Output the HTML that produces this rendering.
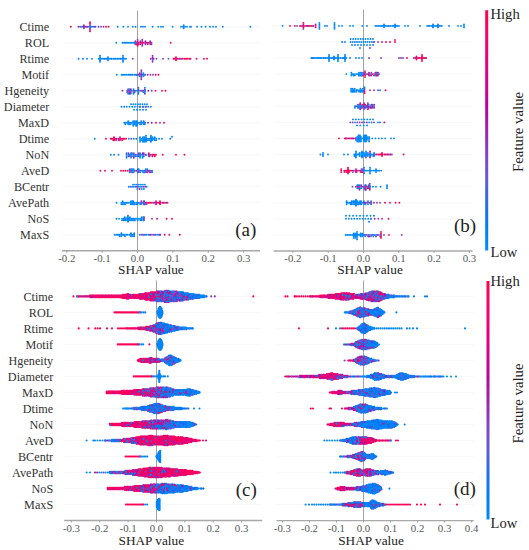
<!DOCTYPE html><html><head><meta charset="utf-8"><style>html,body{margin:0;padding:0;background:#fff;width:529px;height:550px;overflow:hidden}svg{display:block}text{font-family:"Liberation Serif",serif}.dt path{fill:none;stroke-linecap:round}.k0{stroke:#008bfb}.k1{stroke:#0084f8}.k2{stroke:#007cf5}.k3{stroke:#0073ef}.k4{stroke:#306ae9}.k5{stroke:#5261e1}.k6{stroke:#6857d8}.k7{stroke:#794cce}.k8{stroke:#8a3cc0}.k9{stroke:#962db3}.k10{stroke:#a31daa}.k11{stroke:#b30aa3}.k12{stroke:#c5009a}.k13{stroke:#d10091}.k14{stroke:#dd0088}.k15{stroke:#e7007e}.k16{stroke:#f00074}.k17{stroke:#f80067}.k18{stroke:#fe005c}.k19{stroke:#ff0051}</style></head><body>
<svg width="529" height="550" viewBox="0 0 529 550">
<defs><linearGradient id="cb" x1="0" y1="1" x2="0" y2="0"><stop offset="0.0" stop-color="#008bfb"/><stop offset="0.1" stop-color="#007cf5"/><stop offset="0.2" stop-color="#266cea"/><stop offset="0.3" stop-color="#6459da"/><stop offset="0.4" stop-color="#8542c5"/><stop offset="0.5" stop-color="#9d22ac"/><stop offset="0.6" stop-color="#b900a0"/><stop offset="0.7" stop-color="#d40090"/><stop offset="0.8" stop-color="#e9007c"/><stop offset="0.9" stop-color="#f80067"/><stop offset="1.0" stop-color="#ff0051"/></linearGradient></defs>
<rect width="529" height="550" fill="#fff"/>
<line x1="62" x2="260" y1="26.71" y2="26.71" stroke="#f3f3f3" stroke-width="0.6"/>
<line x1="62" x2="260" y1="42.71" y2="42.71" stroke="#f3f3f3" stroke-width="0.6"/>
<line x1="62" x2="260" y1="58.72" y2="58.72" stroke="#f3f3f3" stroke-width="0.6"/>
<line x1="62" x2="260" y1="74.73" y2="74.73" stroke="#f3f3f3" stroke-width="0.6"/>
<line x1="62" x2="260" y1="90.73" y2="90.73" stroke="#f3f3f3" stroke-width="0.6"/>
<line x1="62" x2="260" y1="106.74" y2="106.74" stroke="#f3f3f3" stroke-width="0.6"/>
<line x1="62" x2="260" y1="122.75" y2="122.75" stroke="#f3f3f3" stroke-width="0.6"/>
<line x1="62" x2="260" y1="138.75" y2="138.75" stroke="#f3f3f3" stroke-width="0.6"/>
<line x1="62" x2="260" y1="154.76" y2="154.76" stroke="#f3f3f3" stroke-width="0.6"/>
<line x1="62" x2="260" y1="170.77" y2="170.77" stroke="#f3f3f3" stroke-width="0.6"/>
<line x1="62" x2="260" y1="186.77" y2="186.77" stroke="#f3f3f3" stroke-width="0.6"/>
<line x1="62" x2="260" y1="202.78" y2="202.78" stroke="#f3f3f3" stroke-width="0.6"/>
<line x1="62" x2="260" y1="218.79" y2="218.79" stroke="#f3f3f3" stroke-width="0.6"/>
<line x1="62" x2="260" y1="234.79" y2="234.79" stroke="#f3f3f3" stroke-width="0.6"/>
<line x1="137.5" x2="137.5" y1="10.7" y2="250.8" stroke="#a3a3a3" stroke-width="1"/>
<g class="dt" style="stroke-width:1.9px"><path class="k2" d="M125.4 124.2h0M100.0 61.7h0M129.7 169.3h0M100.0 58.7h0M137.0 122.7h0M131.0 236.3h0M135.6 26.7h0M105.1 58.7h0M151.0 137.3h0M138.4 93.7h0"/><path class="k8" d="M138.8 170.8h0M159.5 202.8h0M135.3 44.2h0M137.1 74.7h0M116.0 140.3h0M146.6 202.8h0"/><path class="k9" d="M145.0 122.7h0M143.8 154.8h0M138.4 90.7h0M145.8 170.8h0M142.3 42.7h0M134.5 92.2h0M137.6 44.2h0M144.0 220.3h0M86.7 26.7h0M144.9 93.7h0M180.0 58.7h0M82.9 26.7h0M151.5 44.2h0"/><path class="k18" d="M111.8 138.8h0M155.5 90.7h0M187.9 58.7h0"/><path class="k17" d="M184.2 58.7h0M148.8 153.3h0M145.0 74.7h0"/><path class="k19" d="M113.3 140.3h0M204.0 58.7h0M105.0 170.8h0M106.0 138.8h0M146.8 202.8h0M126.1 138.8h0M165.0 202.8h0M122.2 140.3h0M177.5 58.7h0M146.4 42.7h0M123.3 170.8h0M90.0 26.7h0"/><path class="k0" d="M172.6 26.7h0M130.2 234.8h0M122.6 201.3h0M114.7 58.7h0M135.0 184.6h0M149.3 138.8h0M121.4 202.8h0M123.9 74.7h0M152.4 138.8h0M129.7 172.3h0M183.7 25.2h0M126.6 157.8h0M141.4 140.3h0M143.3 220.3h0M132.8 26.7h0M146.0 137.3h0M132.2 201.3h0M133.7 186.8h0M131.0 157.8h0M205.6 26.7h0M144.2 201.3h0M131.0 156.3h0M129.3 234.8h0M133.2 204.3h0M133.5 92.2h0M134.6 204.3h0M135.6 104.2h0M131.0 201.3h0M133.7 170.8h0M142.6 74.7h0M138.4 92.2h0M163.0 26.7h0M216.0 26.7h0M146.0 138.8h0M147.3 169.3h0M187.0 26.7h0M137.4 202.8h0M131.1 218.8h0M124.0 204.3h0"/><path class="k1" d="M128.0 221.8h0M126.8 202.8h0M136.7 74.7h0M117.4 234.8h0M144.2 204.3h0M142.6 154.8h0M110.8 154.8h0M141.7 217.3h0M133.5 93.7h0M135.3 186.8h0M143.1 172.3h0M125.2 204.3h0M114.6 234.8h0M132.3 220.3h0M144.5 172.3h0M149.5 234.8h0M134.6 202.8h0M136.0 121.2h0M172.0 136.8h0M141.9 170.8h0M131.0 153.3h0M156.2 140.3h0M129.9 217.3h0M126.0 58.7h0M134.4 42.7h0M133.8 156.3h0M108.0 58.7h0"/><path class="k10" d="M145.6 154.8h0M150.4 74.7h0M130.8 89.2h0"/><path class="k7" d="M149.7 156.3h0M133.5 90.7h0M137.6 39.7h0"/><path class="k18" d="M110.7 138.8h0M140.3 42.7h0"/><path class="k2" d="M128.0 220.3h0M159.0 138.8h0M130.8 202.8h0M123.0 57.2h0M131.8 122.7h0M117.2 58.7h0M124.2 106.7h0M123.4 220.3h0M154.8 234.8h0M152.6 26.7h0M127.2 90.7h0M137.8 172.3h0M137.0 109.7h0M136.0 124.2h0"/><path class="k0" d="M137.7 220.3h0M151.0 138.8h0M123.4 58.7h0M124.7 218.8h0M136.9 184.6h0M123.0 60.2h0M162.0 138.8h0M141.4 138.8h0M126.2 234.8h0M125.8 220.3h0M143.7 122.7h0M133.5 89.2h0M152.2 172.3h0M152.4 137.3h0M126.6 74.7h0M137.3 90.7h0M136.0 122.7h0M151.0 140.3h0M131.0 202.8h0M135.0 218.8h0M142.7 234.8h0M135.7 90.7h0M95.6 26.7h0M123.9 42.7h0M138.6 186.8h0M134.6 121.2h0M118.5 154.8h0M148.0 138.8h0M142.9 137.3h0M129.3 122.7h0M129.9 220.3h0M131.8 234.8h0M143.1 170.8h0M158.9 234.8h0M190.0 26.7h0M135.6 74.7h0M144.9 87.7h0M125.1 74.7h0M134.8 106.7h0"/><path class="k19" d="M158.7 202.8h0M172.0 218.8h0M154.8 154.8h0M136.6 44.2h0M90.0 31.2h0M90.0 23.7h0M114.8 138.8h0M114.0 140.3h0M157.1 202.8h0"/><path class="k10" d="M138.9 154.8h0M152.6 57.2h0M156.0 202.8h0M150.9 154.8h0M145.0 90.7h0M130.8 92.2h0"/><path class="k7" d="M146.6 204.3h0M144.0 42.7h0M152.6 60.2h0M168.5 58.7h0M138.6 202.8h0M140.1 90.7h0M126.6 154.8h0"/><path class="k9" d="M83.9 25.2h0M190.6 58.7h0M139.6 73.2h0M139.6 74.7h0M145.4 42.7h0M160.2 234.8h0M153.7 58.7h0"/><path class="k17" d="M149.3 202.8h0M146.0 106.7h0M114.0 138.8h0"/><path class="k8" d="M129.5 90.7h0M136.6 42.7h0M148.8 156.3h0M131.0 169.3h0M83.9 28.2h0M138.8 42.7h0M90.0 25.2h0M152.6 61.7h0M140.1 154.8h0"/><path class="k1" d="M78.6 58.7h0M89.2 26.7h0M133.7 172.3h0M127.8 42.7h0M116.3 42.7h0M130.4 186.8h0M116.5 218.8h0M121.4 236.3h0M152.4 140.3h0M127.3 218.8h0M133.0 184.6h0M133.8 154.8h0M124.0 202.8h0M140.0 122.7h0M131.1 220.3h0M93.1 26.7h0M154.7 137.3h0M138.9 184.6h0M143.0 26.7h0M145.0 26.7h0M143.3 218.8h0M141.8 186.8h0M116.5 202.8h0"/><path class="k10" d="M141.4 201.3h0M150.9 172.3h0M129.5 92.2h0M143.8 153.3h0M133.8 157.8h0M150.8 58.7h0M152.4 154.8h0"/><path class="k7" d="M153.6 234.8h0M144.9 89.2h0M163.0 58.7h0M101.1 26.7h0"/><path class="k18" d="M164.7 234.8h0M174.7 58.7h0M156.0 154.8h0M166.5 218.8h0M112.0 170.8h0"/><path class="k0" d="M132.9 74.7h0M123.0 61.7h0M147.0 104.2h0M137.3 189.0h0M128.8 186.8h0M146.5 154.8h0M197.0 26.7h0M142.9 202.8h0M141.7 218.8h0M146.6 138.8h0M141.2 124.2h0M137.0 121.2h0M119.8 236.3h0M128.2 121.2h0M144.9 90.7h0M128.6 218.8h0M154.7 140.3h0M143.7 124.2h0M143.4 73.2h0M136.2 218.8h0M151.0 135.8h0M143.4 74.7h0M123.4 218.8h0M141.7 220.3h0M129.5 89.2h0M144.7 104.2h0M124.9 234.8h0M131.0 104.2h0M129.0 202.8h0M139.1 218.8h0M119.8 234.8h0M140.0 124.2h0"/><path class="k17" d="M113.3 138.8h0M207.0 58.7h0M156.0 201.3h0"/><path class="k9" d="M135.0 170.8h0M179.0 58.7h0M147.7 74.7h0M160.0 234.8h0M98.6 26.7h0M128.5 153.3h0M120.0 138.8h0M138.3 74.7h0M116.8 138.8h0M144.0 204.3h0M142.6 153.3h0M142.3 44.2h0M181.1 58.7h0M94.7 26.7h0M150.9 170.8h0M131.3 138.8h0"/><path class="k8" d="M133.8 153.3h0M149.7 154.8h0M176.1 58.7h0M151.7 90.7h0M138.9 156.3h0M141.3 77.7h0M129.6 154.8h0M160.0 122.7h0M142.3 90.7h0M151.5 42.7h0M141.3 70.2h0"/><path class="k2" d="M129.9 218.8h0M128.0 215.8h0M126.6 153.3h0M137.8 169.3h0M134.2 234.8h0M110.8 58.7h0M130.6 74.7h0M122.1 58.7h0M134.2 233.3h0M125.0 42.7h0M183.7 28.2h0M137.4 204.3h0M170.3 138.8h0"/><path class="k1" d="M103.0 58.7h0M137.9 104.2h0M142.6 157.8h0M127.3 220.3h0M222.8 26.7h0M131.0 204.3h0M148.0 140.3h0M137.7 154.8h0M129.6 156.3h0M142.6 122.7h0M94.7 138.8h0M145.5 106.7h0M127.1 122.7h0M127.5 234.8h0M130.8 204.3h0M130.8 93.7h0M136.0 125.7h0M146.7 186.8h0M131.0 233.3h0M144.5 170.8h0"/><path class="k19" d="M127.8 170.8h0M121.0 138.8h0M148.8 154.8h0M137.7 42.7h0M154.2 202.8h0M173.6 58.7h0M169.4 234.8h0M147.7 42.7h0"/><path class="k9" d="M142.3 39.7h0M147.3 170.8h0M85.2 26.7h0M142.3 45.7h0M134.5 90.7h0M144.0 201.3h0M137.6 42.7h0M143.4 90.7h0"/><path class="k10" d="M157.0 218.8h0M138.8 172.3h0M145.4 41.2h0M150.2 44.2h0M151.7 122.7h0M136.9 186.8h0"/><path class="k0" d="M141.2 122.7h0M116.1 234.8h0M140.0 141.8h0M131.0 172.3h0M143.4 76.2h0M141.1 154.8h0M140.1 104.2h0M144.9 92.2h0M140.0 137.3h0M137.7 218.8h0M157.4 234.8h0M121.4 234.8h0M122.0 218.8h0M133.2 125.7h0M144.2 138.8h0M145.6 138.8h0M119.9 58.7h0M128.0 26.7h0M139.8 234.8h0M150.9 137.3h0M140.0 140.3h0M122.6 204.3h0M128.5 154.8h0M152.2 170.8h0M156.2 138.8h0M121.5 74.7h0M142.8 184.6h0M145.8 169.3h0M123.0 58.7h0M127.3 217.3h0M133.2 122.7h0M153.3 138.8h0M123.3 26.7h0M128.2 124.2h0M142.6 156.3h0M144.8 184.6h0M101.5 58.7h0M124.9 236.3h0M122.0 220.3h0"/><path class="k7" d="M138.4 87.7h0M135.1 156.3h0"/><path class="k17" d="M135.3 42.7h0M176.0 154.8h0"/><path class="k18" d="M144.0 217.3h0M176.0 58.7h0M153.5 154.8h0M185.4 58.7h0"/><path class="k8" d="M127.2 92.2h0M152.6 58.7h0M103.5 26.7h0M132.2 172.3h0M78.4 26.7h0M140.2 170.8h0M145.1 204.3h0M144.0 218.8h0M152.0 218.8h0M120.0 137.3h0M142.3 41.2h0"/><path class="k1" d="M138.4 89.2h0M137.0 124.2h0M132.2 202.8h0M131.0 154.8h0M126.1 42.7h0M130.3 42.7h0M140.1 156.3h0M154.7 138.8h0M136.0 156.3h0M137.4 202.8h0M132.2 106.7h0M183.0 26.7h0M133.2 124.2h0M114.0 154.8h0M138.8 169.3h0M125.2 202.8h0M133.6 218.8h0M146.6 140.3h0M133.2 121.2h0M141.1 74.7h0M87.0 58.7h0M144.7 124.2h0M113.3 58.7h0"/><path class="k2" d="M149.4 170.8h0M122.8 234.8h0M140.3 220.3h0M108.0 60.2h0M139.6 76.2h0M150.9 138.8h0M141.2 121.2h0M201.5 26.7h0M120.7 58.7h0M131.9 90.7h0"/><path class="k19" d="M170.6 42.7h0M70.9 26.7h0M154.8 156.3h0M156.0 204.3h0M150.3 202.8h0M137.6 41.2h0M139.5 189.0h0M140.0 106.7h0M90.0 22.2h0M186.3 58.7h0M152.4 156.3h0M118.6 140.3h0M121.0 170.8h0"/><path class="k7" d="M119.3 138.8h0M141.3 234.8h0M149.4 172.3h0M156.5 58.7h0"/><path class="k18" d="M123.6 138.8h0M164.0 122.7h0M162.6 202.8h0M148.1 202.8h0M158.4 74.7h0M137.6 45.7h0M162.0 90.7h0M160.0 202.8h0"/><path class="k10" d="M148.3 90.7h0M144.0 202.8h0M150.4 234.8h0"/><path class="k0" d="M137.8 170.8h0M140.1 202.8h0M134.6 122.7h0M181.0 26.7h0M131.0 234.8h0M134.7 74.7h0M144.2 141.8h0M183.7 26.7h0M134.6 124.2h0M128.9 42.7h0M143.4 92.2h0M135.4 42.7h0M106.6 58.7h0M134.0 109.7h0M98.7 58.7h0M133.6 220.3h0M90.7 26.7h0M129.3 124.2h0M136.2 202.8h0M129.5 106.7h0M132.0 154.8h0M140.1 204.3h0M135.0 220.3h0M116.7 74.7h0M126.8 106.7h0M128.1 93.7h0M140.0 109.7h0M142.9 138.8h0M146.0 141.8h0M107.6 58.7h0M133.3 104.2h0M128.8 138.8h0M133.8 138.8h0M128.1 92.2h0M144.2 140.3h0M126.6 156.3h0M122.4 42.7h0M118.6 234.8h0M148.1 106.7h0M128.0 218.8h0M92.0 58.7h0M115.8 58.7h0M143.3 217.3h0"/><path class="k1" d="M136.3 138.8h0M124.7 217.3h0M150.8 106.7h0M140.0 138.8h0M118.1 58.7h0M143.7 121.2h0M144.7 122.7h0M210.0 26.7h0M100.0 55.7h0M122.6 74.7h0M100.0 60.2h0M121.4 204.3h0M145.1 234.8h0M146.0 135.8h0M132.9 236.3h0M140.9 184.6h0M128.2 122.7h0M142.9 140.3h0M151.0 141.8h0M90.0 28.2h0"/><path class="k9" d="M148.0 122.7h0M143.9 234.8h0M150.2 41.2h0M140.3 44.2h0M83.9 26.7h0M163.6 202.8h0M141.3 76.2h0M156.0 202.8h0M138.9 153.3h0"/><path class="k19" d="M142.9 42.7h0M165.5 90.7h0M176.0 57.2h0M114.0 137.3h0M166.3 202.8h0M189.5 58.7h0"/><path class="k17" d="M162.8 154.8h0M124.5 138.8h0M160.7 202.8h0M90.0 29.7h0"/><path class="k8" d="M141.1 90.7h0M131.0 170.8h0M167.6 202.8h0M152.6 55.7h0M141.3 73.2h0M152.0 234.8h0M153.0 74.7h0M145.8 172.3h0M147.3 172.3h0M132.1 186.8h0M141.4 202.8h0"/><path class="k2" d="M83.0 58.7h0M137.7 156.3h0M146.4 234.8h0M134.2 236.3h0M128.2 74.7h0M125.8 218.8h0M104.3 58.7h0M123.8 234.8h0M138.6 122.7h0M142.9 141.8h0"/><path class="k10" d="M147.7 44.2h0M140.3 41.2h0M148.6 170.8h0M141.3 74.7h0"/><path class="k17" d="M196.5 58.7h0M138.8 44.2h0M143.0 106.7h0"/><path class="k7" d="M128.1 89.2h0M130.8 90.7h0M155.8 234.8h0M80.0 26.7h0M132.8 58.7h0M132.0 156.3h0M91.9 26.7h0"/><path class="k19" d="M122.2 138.8h0M106.0 26.7h0M141.5 42.7h0M151.8 202.8h0M160.0 204.3h0M108.5 26.7h0M149.1 42.7h0M184.5 154.8h0M125.5 170.8h0M182.4 58.7h0M100.4 170.8h0M160.0 201.3h0"/><path class="k0" d="M124.8 58.7h0M100.0 58.7h0M137.0 125.7h0M132.2 169.3h0M141.4 204.3h0M133.1 42.7h0M158.3 26.7h0M191.0 26.7h0M133.2 201.3h0M140.2 172.3h0M141.7 189.0h0M128.0 217.3h0M109.1 58.7h0M140.2 186.8h0M149.3 140.3h0M136.2 204.3h0M145.0 74.7h0M119.0 218.8h0M137.5 106.7h0M140.3 218.8h0M81.2 26.7h0M140.1 106.7h0M123.0 55.7h0M135.1 154.8h0M132.2 170.8h0M132.2 204.3h0M130.6 124.2h0M122.6 202.8h0M161.0 26.7h0M148.2 234.8h0M213.0 26.7h0M127.7 202.8h0M146.0 109.7h0M142.4 104.2h0M129.4 74.7h0M100.0 57.2h0"/><path class="k8" d="M122.4 90.7h0M153.1 202.8h0M143.4 186.8h0M120.0 140.3h0M141.3 71.7h0M136.0 154.8h0M145.4 44.2h0M128.1 90.7h0M135.3 41.2h0"/><path class="k1" d="M132.9 234.8h0M146.0 140.3h0M144.2 137.3h0M150.9 140.3h0M140.1 157.8h0M133.7 169.3h0M143.9 189.0h0M128.6 220.3h0M121.5 106.7h0M131.8 42.7h0M125.4 122.7h0M133.2 202.8h0M141.0 26.7h0M108.0 57.2h0M132.3 218.8h0M140.1 153.3h0M143.8 156.3h0M117.7 26.7h0"/><path class="k9" d="M145.1 202.8h0M141.3 79.2h0M87.8 26.7h0M136.5 170.8h0M150.2 42.7h0M84.2 26.7h0M129.5 93.7h0M128.5 156.3h0M145.1 186.8h0M129.7 170.8h0"/><path class="k2" d="M132.0 74.7h0M142.8 106.7h0M143.0 109.7h0M145.6 140.3h0M121.4 233.3h0M130.6 122.7h0M124.3 122.7h0M144.2 202.8h0M124.7 220.3h0M185.0 26.7h0M250.4 26.7h0M111.7 58.7h0M132.0 153.3h0"/><path class="k18" d="M176.0 60.2h0M179.8 234.8h0M116.0 138.8h0M155.7 74.7h0M118.6 138.8h0M156.0 122.7h0"/></g>
<line x1="62" x2="260" y1="250.8" y2="250.8" stroke="#a8a8a8" stroke-width="1.4"/>
<line x1="66.74" x2="66.74" y1="250.8" y2="252.8" stroke="#999" stroke-width="0.9"/>
<text x="66.74" y="262.00" font-size="10.8" fill="#585858" text-anchor="middle">-0.2</text>
<line x1="102.12" x2="102.12" y1="250.8" y2="252.8" stroke="#999" stroke-width="0.9"/>
<text x="102.12" y="262.00" font-size="10.8" fill="#585858" text-anchor="middle">-0.1</text>
<line x1="137.50" x2="137.50" y1="250.8" y2="252.8" stroke="#999" stroke-width="0.9"/>
<text x="137.50" y="262.00" font-size="10.8" fill="#585858" text-anchor="middle">0.0</text>
<line x1="172.88" x2="172.88" y1="250.8" y2="252.8" stroke="#999" stroke-width="0.9"/>
<text x="172.88" y="262.00" font-size="10.8" fill="#585858" text-anchor="middle">0.1</text>
<line x1="208.26" x2="208.26" y1="250.8" y2="252.8" stroke="#999" stroke-width="0.9"/>
<text x="208.26" y="262.00" font-size="10.8" fill="#585858" text-anchor="middle">0.2</text>
<line x1="243.64" x2="243.64" y1="250.8" y2="252.8" stroke="#999" stroke-width="0.9"/>
<text x="243.64" y="262.00" font-size="10.8" fill="#585858" text-anchor="middle">0.3</text>
<text x="150.9" y="273.7" font-size="13.3" fill="#222" text-anchor="middle">SHAP value</text>
<text x="235.3" y="235.5" font-size="19" fill="#222">(a)</text>
<text x="49.2" y="31.11" font-size="12.2" fill="#333" text-anchor="end">Ctime</text>
<text x="49.2" y="47.11" font-size="12.2" fill="#333" text-anchor="end">ROL</text>
<text x="49.2" y="63.12" font-size="12.2" fill="#333" text-anchor="end">Rtime</text>
<text x="49.2" y="79.13" font-size="12.2" fill="#333" text-anchor="end">Motif</text>
<text x="49.2" y="95.13" font-size="12.2" fill="#333" text-anchor="end">Hgeneity</text>
<text x="49.2" y="111.14" font-size="12.2" fill="#333" text-anchor="end">Diameter</text>
<text x="49.2" y="127.15" font-size="12.2" fill="#333" text-anchor="end">MaxD</text>
<text x="49.2" y="143.15" font-size="12.2" fill="#333" text-anchor="end">Dtime</text>
<text x="49.2" y="159.16" font-size="12.2" fill="#333" text-anchor="end">NoN</text>
<text x="49.2" y="175.17" font-size="12.2" fill="#333" text-anchor="end">AveD</text>
<text x="49.2" y="191.17" font-size="12.2" fill="#333" text-anchor="end">BCentr</text>
<text x="49.2" y="207.18" font-size="12.2" fill="#333" text-anchor="end">AvePath</text>
<text x="49.2" y="223.19" font-size="12.2" fill="#333" text-anchor="end">NoS</text>
<text x="49.2" y="239.19" font-size="12.2" fill="#333" text-anchor="end">MaxS</text>
<line x1="273.7" x2="472.6" y1="25.88" y2="25.88" stroke="#f3f3f3" stroke-width="0.6"/>
<line x1="273.7" x2="472.6" y1="41.96" y2="41.96" stroke="#f3f3f3" stroke-width="0.6"/>
<line x1="273.7" x2="472.6" y1="58.04" y2="58.04" stroke="#f3f3f3" stroke-width="0.6"/>
<line x1="273.7" x2="472.6" y1="74.12" y2="74.12" stroke="#f3f3f3" stroke-width="0.6"/>
<line x1="273.7" x2="472.6" y1="90.20" y2="90.20" stroke="#f3f3f3" stroke-width="0.6"/>
<line x1="273.7" x2="472.6" y1="106.28" y2="106.28" stroke="#f3f3f3" stroke-width="0.6"/>
<line x1="273.7" x2="472.6" y1="122.36" y2="122.36" stroke="#f3f3f3" stroke-width="0.6"/>
<line x1="273.7" x2="472.6" y1="138.44" y2="138.44" stroke="#f3f3f3" stroke-width="0.6"/>
<line x1="273.7" x2="472.6" y1="154.52" y2="154.52" stroke="#f3f3f3" stroke-width="0.6"/>
<line x1="273.7" x2="472.6" y1="170.60" y2="170.60" stroke="#f3f3f3" stroke-width="0.6"/>
<line x1="273.7" x2="472.6" y1="186.68" y2="186.68" stroke="#f3f3f3" stroke-width="0.6"/>
<line x1="273.7" x2="472.6" y1="202.76" y2="202.76" stroke="#f3f3f3" stroke-width="0.6"/>
<line x1="273.7" x2="472.6" y1="218.84" y2="218.84" stroke="#f3f3f3" stroke-width="0.6"/>
<line x1="273.7" x2="472.6" y1="234.92" y2="234.92" stroke="#f3f3f3" stroke-width="0.6"/>
<line x1="363.5" x2="363.5" y1="9.8" y2="251.0" stroke="#a3a3a3" stroke-width="1"/>
<g class="dt" style="stroke-width:1.9px"><path class="k2" d="M367.5 106.3h0M420.0 25.9h0M362.7 106.3h0M365.3 138.4h0M352.6 90.2h0M347.1 234.9h0M356.0 154.5h0M334.0 56.5h0M353.0 119.4h0"/><path class="k0" d="M345.0 61.0h0M342.0 25.9h0M359.1 42.0h0M351.1 90.2h0M389.6 25.9h0M359.5 153.0h0M361.6 119.4h0M365.3 236.4h0M338.3 58.0h0M369.3 170.6h0M360.6 75.6h0M363.8 188.2h0M363.9 204.3h0M362.9 88.7h0M361.1 202.8h0M356.5 215.8h0M353.7 237.9h0M371.1 201.3h0M356.0 205.8h0M440.5 25.9h0M361.1 201.3h0M358.3 154.5h0M362.7 218.8h0M374.1 154.5h0M385.5 25.9h0M352.6 88.7h0M368.0 39.0h0M348.0 234.9h0M357.0 234.9h0M352.7 42.0h0M365.5 42.0h0M362.2 25.9h0M379.7 170.6h0M378.0 75.6h0M364.0 170.6h0M374.1 156.0h0M363.8 186.7h0M366.8 106.3h0M393.8 25.9h0M325.5 58.0h0M351.3 75.6h0M356.0 156.0h0M374.1 106.3h0M356.0 153.0h0M364.2 170.6h0M354.7 88.7h0M363.8 139.9h0M369.0 221.8h0M360.0 204.3h0"/><path class="k17" d="M356.6 172.1h0"/><path class="k10" d="M360.2 109.3h0M368.7 185.2h0M364.8 74.1h0M352.9 170.6h0M367.9 104.8h0M367.9 106.3h0"/><path class="k19" d="M361.8 75.6h0M367.9 109.3h0M373.8 154.5h0M384.3 122.4h0M351.3 170.6h0M341.2 170.6h0M365.0 75.6h0M369.9 75.6h0M364.5 93.2h0M368.7 188.2h0M302.3 25.9h0"/><path class="k8" d="M368.1 236.4h0M367.9 103.3h0M369.0 58.0h0M356.6 138.4h0M370.0 156.0h0"/><path class="k1" d="M357.0 125.4h0M395.0 25.9h0M373.0 45.0h0M323.0 154.5h0M361.3 154.5h0M355.8 234.9h0M429.8 25.9h0M361.7 74.1h0M351.6 218.8h0M360.0 138.4h0M387.0 186.7h0M354.3 218.8h0M351.3 72.6h0M350.6 39.0h0M356.0 151.5h0M362.9 91.7h0M357.0 236.4h0M325.0 25.9h0M334.5 25.9h0M327.0 25.9h0M356.0 202.8h0M358.5 135.4h0M350.6 234.9h0M370.5 39.0h0M381.2 170.6h0M356.0 138.4h0M367.9 156.0h0M364.0 234.9h0M350.0 58.0h0M373.0 186.7h0M368.0 204.3h0M369.8 186.7h0M365.4 204.3h0M314.9 58.0h0M360.0 201.3h0M364.0 167.6h0M376.0 186.7h0M387.0 185.2h0"/><path class="k9" d="M315.6 24.4h0M369.0 74.1h0M382.0 218.8h0M369.0 75.6h0M416.9 58.0h0M376.4 154.5h0M370.3 107.8h0"/><path class="k18" d="M363.2 75.6h0M372.5 74.1h0M388.5 218.8h0M365.0 74.1h0M365.0 71.1h0M359.0 170.6h0"/><path class="k7" d="M370.0 154.5h0M380.0 202.8h0"/><path class="k7" d="M364.0 107.8h0M358.4 188.2h0M350.2 122.4h0M361.5 169.1h0"/><path class="k8" d="M424.9 58.0h0M313.0 25.9h0M353.9 138.4h0M347.2 138.4h0M365.1 107.8h0M364.0 109.3h0M352.9 172.1h0M381.0 58.0h0M369.1 234.9h0"/><path class="k17" d="M422.0 61.0h0M306.5 25.9h0"/><path class="k18" d="M421.1 58.0h0M371.0 202.8h0M348.0 169.1h0"/><path class="k19" d="M416.5 59.5h0M395.0 40.0h0M395.0 42.0h0M338.9 138.4h0M367.3 74.1h0M346.0 138.4h0M381.9 154.5h0M360.2 104.8h0M365.1 104.8h0M419.6 58.0h0"/><path class="k0" d="M318.0 58.0h0M357.9 234.9h0M372.7 104.8h0M357.4 90.2h0M390.8 25.9h0M377.3 170.6h0M353.0 215.8h0M360.6 74.1h0M329.0 59.5h0M370.0 167.6h0M313.7 58.0h0M362.0 154.5h0M464.0 25.9h0M374.5 170.6h0M354.9 107.8h0M359.0 91.7h0M378.7 138.4h0M376.7 25.9h0M366.3 154.5h0M431.4 25.9h0M353.7 236.4h0M364.0 141.4h0M360.3 125.4h0M360.6 234.9h0M365.4 218.8h0M356.0 204.3h0M359.0 58.0h0M359.0 138.4h0M359.5 234.9h0M362.9 90.2h0M364.0 136.9h0M374.0 42.0h0M359.0 234.9h0M432.4 25.9h0M362.3 154.5h0M338.0 56.5h0"/><path class="k9" d="M369.8 188.2h0M369.9 74.1h0M364.0 103.3h0M370.0 153.0h0M370.0 151.5h0M366.9 122.4h0M368.7 186.7h0M370.0 48.0h0M401.7 234.9h0M401.0 58.0h0M361.5 170.6h0M356.0 169.1h0M366.1 106.3h0M368.8 106.3h0M354.0 170.6h0M371.0 234.9h0"/><path class="k2" d="M363.9 202.8h0M324.2 58.0h0M358.5 141.4h0M367.0 125.4h0M374.0 215.8h0M408.0 25.9h0M357.0 42.0h0M356.4 90.2h0M311.4 58.0h0M433.0 27.4h0M380.0 122.4h0M342.1 42.0h0M354.9 42.0h0"/><path class="k1" d="M346.0 218.8h0M319.4 22.9h0M345.0 55.0h0M354.9 75.6h0M363.1 74.1h0M338.0 61.0h0M371.9 42.0h0M343.5 58.0h0M357.9 74.1h0M360.4 91.7h0M334.0 59.5h0M428.8 25.9h0M359.0 90.2h0M387.0 25.9h0M360.6 39.0h0M370.5 156.0h0M329.0 61.0h0M433.0 24.4h0M364.0 153.0h0M394.0 138.4h0M361.1 188.2h0M360.0 139.9h0M334.5 22.9h0M357.1 218.8h0M365.3 106.3h0M357.1 234.9h0M355.2 233.4h0M354.6 234.9h0M438.0 25.9h0M370.1 119.4h0M352.0 45.0h0M370.0 170.6h0M342.7 58.0h0M369.8 185.2h0M363.0 39.0h0M355.2 236.4h0M360.0 141.4h0"/><path class="k10" d="M365.1 186.7h0M371.4 107.8h0M369.1 236.4h0M374.0 202.8h0"/><path class="k8" d="M371.3 72.6h0M374.0 90.2h0M355.9 186.7h0M358.4 186.7h0M303.4 28.9h0M366.0 157.5h0M365.1 106.3h0M360.5 170.6h0M364.5 88.7h0M378.0 42.0h0M389.7 154.5h0M308.0 25.9h0M370.0 90.2h0"/><path class="k7" d="M403.0 58.0h0M365.3 234.9h0M422.4 58.0h0M371.4 106.3h0M378.0 90.2h0"/><path class="k1" d="M359.0 72.6h0M340.9 58.0h0M379.2 74.1h0M334.5 27.4h0M367.9 153.0h0M365.3 136.9h0M371.0 236.4h0M360.0 135.4h0M371.3 74.1h0M357.5 204.3h0M371.6 122.4h0M362.0 156.0h0M361.1 107.8h0M361.0 136.9h0M392.5 25.9h0M366.0 153.0h0M376.1 170.6h0M361.1 106.3h0M359.5 188.2h0M368.2 218.8h0M355.6 39.0h0M449.0 25.9h0M360.6 233.4h0M365.3 141.4h0M332.2 58.0h0M356.2 204.3h0M355.2 237.9h0M361.4 90.2h0M349.5 215.8h0M365.3 170.6h0M358.5 136.9h0M329.0 58.0h0M348.0 154.5h0M427.2 25.9h0"/><path class="k17" d="M365.0 72.6h0M378.0 154.5h0"/><path class="k0" d="M373.1 156.0h0M361.2 42.0h0M316.3 58.0h0M328.0 154.5h0M384.0 24.4h0M359.5 156.0h0M358.8 107.8h0M359.5 185.2h0M369.1 139.9h0M358.4 185.2h0M360.0 48.0h0M363.5 215.8h0M360.4 88.7h0M345.0 42.0h0M371.8 170.6h0M346.0 215.8h0M464.0 24.4h0M359.9 218.8h0M382.0 138.4h0M363.8 136.9h0M362.3 153.0h0M360.0 202.8h0M356.2 202.8h0M359.0 139.9h0M362.6 202.8h0M334.5 24.4h0M356.0 58.0h0M364.0 45.0h0M380.6 186.7h0M350.0 25.9h0M367.0 45.0h0M360.1 107.8h0M435.3 25.9h0M405.0 25.9h0M348.8 218.8h0M360.3 234.9h0M370.5 215.8h0M361.3 153.0h0M370.5 154.5h0M360.1 106.3h0M360.0 136.9h0"/><path class="k10" d="M348.0 173.6h0M356.0 172.1h0M356.0 170.6h0M344.3 170.6h0M413.9 58.0h0"/><path class="k9" d="M309.2 25.9h0M363.7 106.3h0M387.9 154.5h0M359.5 189.7h0M369.6 202.8h0"/><path class="k19" d="M349.2 172.1h0M382.0 154.5h0M341.2 169.1h0M348.0 169.1h0M379.3 154.5h0M415.4 58.0h0M422.0 59.5h0M350.1 170.6h0M311.8 25.9h0M382.0 156.0h0M381.0 234.9h0"/><path class="k18" d="M341.2 172.1h0M422.0 58.0h0M395.6 202.8h0M385.4 154.5h0M386.0 42.0h0M390.0 202.8h0M315.6 27.4h0"/><path class="k2" d="M346.2 58.0h0M373.4 234.9h0M338.0 55.0h0M362.0 157.5h0M312.7 58.0h0M334.8 58.0h0M345.0 56.5h0M371.1 204.3h0M357.0 239.4h0M365.9 189.7h0M366.0 74.1h0"/><path class="k18" d="M362.1 186.7h0"/><path class="k8" d="M363.2 72.6h0M367.9 107.8h0M368.0 201.3h0M357.3 122.4h0M362.8 169.1h0M374.0 122.4h0M359.7 122.4h0M357.8 170.6h0M300.0 25.9h0"/><path class="k19" d="M294.8 25.9h0M345.4 170.6h0M303.4 22.9h0M365.0 77.1h0M357.3 186.7h0M389.0 234.9h0M377.0 72.6h0M344.3 172.1h0M348.6 138.4h0M315.6 25.9h0M384.5 154.5h0M381.0 231.9h0"/><path class="k2" d="M388.3 25.9h0M359.8 202.8h0M357.8 106.3h0M364.0 138.4h0M354.7 91.7h0M438.0 27.4h0M438.0 24.4h0"/><path class="k17" d="M385.0 202.8h0M348.0 172.1h0M361.5 172.1h0M352.0 138.4h0M382.0 153.0h0M377.0 74.1h0"/><path class="k10" d="M303.6 25.9h0M378.0 72.6h0M307.8 25.9h0M352.9 138.4h0M358.8 104.8h0M362.1 122.4h0M371.3 75.6h0M351.1 138.4h0M368.8 107.8h0M365.9 186.7h0"/><path class="k0" d="M368.1 234.9h0M355.2 234.9h0M352.6 91.7h0M380.2 236.4h0M375.4 75.6h0M371.5 154.5h0M355.4 156.0h0M436.6 25.9h0M361.0 139.9h0M353.4 90.2h0M355.0 122.4h0M433.9 25.9h0M368.0 202.8h0M353.4 74.1h0M364.0 154.5h0M282.6 25.9h0M370.7 170.6h0M321.5 58.0h0M376.0 234.9h0M359.0 135.4h0M357.8 104.8h0M399.0 25.9h0M358.7 119.4h0M357.3 185.2h0M395.0 24.4h0M356.0 201.3h0M319.2 58.0h0M395.0 27.4h0M369.7 42.0h0M361.0 141.4h0M359.0 74.1h0M364.4 119.4h0M362.2 233.4h0M354.9 106.3h0M461.0 25.9h0M362.0 58.0h0M357.2 139.9h0M372.3 234.9h0M357.2 154.5h0M366.0 156.0h0M361.8 72.6h0M366.1 107.8h0"/><path class="k7" d="M378.3 218.8h0M365.9 185.2h0M371.0 218.8h0M352.5 186.7h0M366.6 202.8h0M361.1 186.7h0"/><path class="k9" d="M367.5 186.7h0M361.4 107.8h0M346.0 138.4h0M359.5 186.7h0M377.4 234.9h0M361.4 106.3h0M426.2 58.0h0M356.1 106.3h0M360.2 107.8h0"/><path class="k1" d="M396.2 25.9h0M375.4 74.1h0M355.0 45.0h0M328.1 58.0h0M319.4 28.9h0M351.7 204.3h0M364.0 172.1h0M345.0 58.0h0M373.0 39.0h0M356.2 201.3h0M320.4 154.5h0M344.0 154.5h0M357.3 188.2h0M366.0 154.5h0M358.0 45.0h0M370.0 45.0h0M354.7 201.3h0M376.4 72.6h0M376.4 74.1h0M361.0 138.4h0M356.0 199.8h0M363.8 138.4h0M380.2 234.9h0M366.3 135.4h0M373.1 154.5h0M376.0 170.6h0M383.0 25.9h0M329.0 55.0h0M329.3 58.0h0M352.1 234.9h0M338.0 58.0h0M370.0 169.1h0"/><path class="k8" d="M384.0 234.9h0M376.4 75.6h0M377.0 202.8h0M374.0 75.6h0M362.8 170.6h0M375.0 154.5h0"/><path class="k9" d="M303.4 25.9h0M372.7 107.8h0M374.1 104.8h0M369.8 189.7h0M374.7 218.8h0M364.1 202.8h0M358.2 138.4h0M416.5 58.0h0"/><path class="k1" d="M329.0 56.5h0M337.1 58.0h0M437.8 25.9h0M365.3 135.4h0M366.3 138.4h0M357.5 201.3h0M360.6 236.4h0M345.7 234.9h0M338.0 59.5h0M370.0 186.7h0M349.3 202.8h0M319.4 27.4h0M376.0 172.1h0M350.6 204.3h0M354.3 156.0h0M361.0 45.0h0M354.7 204.3h0M365.5 39.0h0M362.3 156.0h0M350.6 42.0h0M353.7 234.9h0M362.9 234.9h0M369.1 154.5h0M365.3 139.9h0M351.7 201.3h0M353.3 201.3h0M353.4 75.6h0M352.3 74.1h0M349.5 234.9h0M345.0 59.5h0M355.4 154.5h0M356.0 157.5h0M367.0 215.8h0M358.4 204.3h0M364.0 139.9h0M367.0 136.9h0M323.1 58.0h0M364.0 135.4h0"/><path class="k19" d="M305.1 25.9h0M422.0 56.5h0M399.4 202.8h0M346.3 172.1h0M360.5 172.1h0M418.3 58.0h0M390.0 42.0h0M348.0 170.6h0M381.0 237.9h0M310.5 25.9h0M380.4 154.5h0M349.2 170.6h0"/><path class="k10" d="M382.0 42.0h0"/><path class="k17" d="M422.0 55.0h0M416.5 56.5h0"/><path class="k18" d="M390.7 154.5h0M388.0 154.5h0M423.4 58.0h0M381.0 236.4h0M374.0 74.1h0M364.5 90.2h0M368.7 74.1h0M362.8 172.1h0M349.7 138.4h0M365.1 188.2h0M344.8 138.4h0"/><path class="k2" d="M381.9 25.9h0M367.6 138.4h0M365.1 185.2h0M331.0 58.0h0M365.9 188.2h0M364.5 122.4h0M373.0 119.4h0"/><path class="k7" d="M391.9 154.5h0M297.0 25.9h0M366.7 234.9h0M373.4 236.4h0M370.3 106.3h0M374.0 42.0h0"/><path class="k0" d="M357.2 141.4h0M369.1 138.4h0M364.0 173.6h0M351.1 91.7h0M360.4 90.2h0M367.9 154.5h0M368.0 170.6h0M362.2 236.4h0M364.5 87.2h0M362.0 151.5h0M363.2 170.6h0M358.8 106.3h0M364.0 90.2h0M370.0 173.6h0M384.0 27.4h0M366.3 136.9h0M358.1 39.0h0M351.3 74.1h0M441.8 25.9h0M360.6 72.6h0M378.0 122.4h0M354.9 74.1h0M375.5 138.4h0M353.7 233.4h0M366.3 141.4h0M344.8 58.0h0M363.9 201.3h0M367.3 119.4h0M385.2 138.4h0M378.6 170.6h0M361.3 234.9h0M357.0 231.9h0M359.0 141.4h0M320.5 58.0h0M363.7 125.4h0M353.3 204.3h0M359.0 75.6h0M369.1 136.9h0M364.0 156.0h0M335.8 58.0h0M360.2 106.3h0M362.0 153.0h0M359.0 136.9h0"/><path class="k7" d="M363.2 74.1h0M362.3 107.8h0M378.5 234.9h0"/><path class="k0" d="M458.0 25.9h0M371.0 218.8h0M357.2 136.9h0M362.2 234.9h0M365.0 154.5h0M334.0 58.0h0M346.6 202.8h0M359.5 154.5h0M339.0 25.9h0M356.4 91.7h0M357.0 237.9h0M348.1 202.8h0M356.0 139.9h0M361.7 75.6h0M340.1 58.0h0M357.8 107.8h0M372.2 138.4h0M361.4 91.7h0M346.3 74.1h0M369.0 138.4h0M353.1 39.0h0M333.3 58.0h0M354.3 154.5h0M353.4 91.7h0M367.0 139.9h0M369.2 122.4h0M384.7 25.9h0M363.4 42.0h0M357.5 202.8h0M323.0 153.0h0M353.3 202.8h0M366.8 170.6h0M368.8 104.8h0M380.0 90.2h0M380.6 25.9h0M374.7 234.9h0M351.1 88.7h0M373.3 170.6h0M319.4 25.9h0M367.6 42.0h0M387.0 188.2h0M395.1 25.9h0M318.0 58.0h0M359.0 75.6h0M354.7 90.2h0M354.7 202.8h0M350.6 202.8h0M366.3 139.9h0M327.0 58.0h0M365.0 156.0h0M356.4 74.1h0"/><path class="k10" d="M361.1 185.2h0M371.4 104.8h0M360.2 103.3h0M369.0 72.6h0M365.1 189.7h0M375.4 72.6h0"/><path class="k18" d="M364.0 104.8h0M348.0 167.6h0M378.0 74.1h0M377.0 75.6h0M385.6 90.2h0M348.0 170.6h0M301.0 25.9h0M403.6 154.5h0M290.1 25.9h0"/><path class="k2" d="M346.6 201.3h0M323.0 156.0h0M351.7 202.8h0M353.4 234.9h0M369.1 141.4h0M361.1 204.3h0M433.0 25.9h0M376.0 169.1h0M358.5 138.4h0M359.0 74.1h0"/><path class="k9" d="M364.0 106.3h0M376.0 236.4h0M365.4 202.8h0M374.1 107.8h0M370.0 157.5h0M303.4 24.4h0M352.6 122.4h0M362.3 104.8h0"/><path class="k19" d="M367.5 188.2h0M303.4 27.4h0M382.7 154.5h0M364.5 91.7h0M348.0 172.1h0M355.7 170.6h0M407.0 58.0h0M355.3 138.4h0M346.3 170.6h0M381.0 233.4h0"/><path class="k17" d="M425.0 58.0h0M356.6 170.6h0"/><path class="k1" d="M370.0 172.1h0M363.9 234.9h0M378.0 25.9h0M357.0 233.4h0M364.0 169.1h0M464.0 27.4h0M375.4 25.9h0M361.8 74.1h0M379.1 25.9h0M362.3 106.3h0M334.5 28.9h0M439.1 25.9h0M384.0 25.9h0M346.6 204.3h0M357.2 138.4h0M367.0 138.4h0M374.1 153.0h0M391.0 138.4h0M358.4 202.8h0M366.0 151.5h0M355.9 119.4h0M353.0 25.9h0M397.5 25.9h0M319.4 24.4h0M358.5 139.9h0M367.0 25.9h0M360.0 215.8h0M361.3 156.0h0M362.5 138.4h0"/><path class="k8" d="M371.1 202.8h0M386.8 154.5h0M372.7 106.3h0M399.0 58.0h0M313.1 25.9h0M369.8 183.7h0"/></g>
<line x1="273.7" x2="472.6" y1="251.0" y2="251.0" stroke="#a8a8a8" stroke-width="1.4"/>
<line x1="292.90" x2="292.90" y1="251.0" y2="253.0" stroke="#999" stroke-width="0.9"/>
<text x="292.90" y="262.20" font-size="10.8" fill="#585858" text-anchor="middle">-0.2</text>
<line x1="328.20" x2="328.20" y1="251.0" y2="253.0" stroke="#999" stroke-width="0.9"/>
<text x="328.20" y="262.20" font-size="10.8" fill="#585858" text-anchor="middle">-0.1</text>
<line x1="363.50" x2="363.50" y1="251.0" y2="253.0" stroke="#999" stroke-width="0.9"/>
<text x="363.50" y="262.20" font-size="10.8" fill="#585858" text-anchor="middle">0.0</text>
<line x1="398.80" x2="398.80" y1="251.0" y2="253.0" stroke="#999" stroke-width="0.9"/>
<text x="398.80" y="262.20" font-size="10.8" fill="#585858" text-anchor="middle">0.1</text>
<line x1="434.10" x2="434.10" y1="251.0" y2="253.0" stroke="#999" stroke-width="0.9"/>
<text x="434.10" y="262.20" font-size="10.8" fill="#585858" text-anchor="middle">0.2</text>
<line x1="469.40" x2="469.40" y1="251.0" y2="253.0" stroke="#999" stroke-width="0.9"/>
<text x="469.40" y="262.20" font-size="10.8" fill="#585858" text-anchor="middle">0.3</text>
<text x="370" y="273.7" font-size="13.3" fill="#222" text-anchor="middle">SHAP value</text>
<text x="454" y="232" font-size="19" fill="#222">(b)</text>
<line x1="64.2" x2="262.2" y1="296.41" y2="296.41" stroke="#f3f3f3" stroke-width="0.6"/>
<line x1="64.2" x2="262.2" y1="312.41" y2="312.41" stroke="#f3f3f3" stroke-width="0.6"/>
<line x1="64.2" x2="262.2" y1="328.42" y2="328.42" stroke="#f3f3f3" stroke-width="0.6"/>
<line x1="64.2" x2="262.2" y1="344.43" y2="344.43" stroke="#f3f3f3" stroke-width="0.6"/>
<line x1="64.2" x2="262.2" y1="360.43" y2="360.43" stroke="#f3f3f3" stroke-width="0.6"/>
<line x1="64.2" x2="262.2" y1="376.44" y2="376.44" stroke="#f3f3f3" stroke-width="0.6"/>
<line x1="64.2" x2="262.2" y1="392.45" y2="392.45" stroke="#f3f3f3" stroke-width="0.6"/>
<line x1="64.2" x2="262.2" y1="408.45" y2="408.45" stroke="#f3f3f3" stroke-width="0.6"/>
<line x1="64.2" x2="262.2" y1="424.46" y2="424.46" stroke="#f3f3f3" stroke-width="0.6"/>
<line x1="64.2" x2="262.2" y1="440.47" y2="440.47" stroke="#f3f3f3" stroke-width="0.6"/>
<line x1="64.2" x2="262.2" y1="456.47" y2="456.47" stroke="#f3f3f3" stroke-width="0.6"/>
<line x1="64.2" x2="262.2" y1="472.48" y2="472.48" stroke="#f3f3f3" stroke-width="0.6"/>
<line x1="64.2" x2="262.2" y1="488.49" y2="488.49" stroke="#f3f3f3" stroke-width="0.6"/>
<line x1="64.2" x2="262.2" y1="504.49" y2="504.49" stroke="#f3f3f3" stroke-width="0.6"/>
<line x1="156.5" x2="156.5" y1="280.4" y2="520.5" stroke="#a3a3a3" stroke-width="1"/>
<g class="dt" style="stroke-width:2.1px"><path class="k9" d="M160.9 393.2h0M176.2 296.4h0M154.0 427.7h0M190.4 298.8h0M157.4 410.1h0M166.4 290.8h0M157.6 293.2h0M189.5 470.9h0M173.9 291.6h0M149.1 406.1h0M112.8 441.3h0M171.7 426.1h0M176.8 393.2h0M153.3 391.6h0M183.1 294.0h0M168.6 299.6h0M150.0 471.7h0M149.6 410.9h0M170.6 470.9h0M133.6 438.1h0M162.6 299.6h0M145.0 469.3h0M186.3 490.9h0M173.6 300.4h0M156.5 390.8h0"/><path class="k4" d="M144.1 298.8h0M185.1 489.3h0M189.5 296.4h0M111.9 440.5h0M158.5 294.0h0M156.5 387.6h0M161.7 395.6h0M170.7 388.4h0M170.1 406.9h0M173.3 486.1h0M159.3 332.4h0M161.8 330.0h0M184.7 422.1h0M163.6 485.3h0M169.6 357.2h0M184.8 474.9h0M193.3 488.5h0M161.4 490.1h0M163.5 410.9h0M204.0 295.6h0M177.5 292.4h0M160.1 333.2h0M161.9 323.6h0M168.0 301.2h0M159.0 428.5h0M143.1 421.3h0M197.7 298.0h0M157.7 330.0h0M183.9 490.9h0M150.4 425.3h0"/><path class="k19" d="M170.4 426.1h0M194.9 472.5h0M127.2 344.4h0M142.2 470.1h0M158.5 444.5h0M140.8 441.3h0M161.4 442.9h0M149.5 326.8h0M142.9 475.7h0M110.9 489.3h0M164.2 442.1h0M128.8 294.8h0M170.0 439.7h0M179.4 441.3h0M177.3 469.3h0M165.0 439.7h0M103.1 295.6h0M146.7 390.8h0M160.9 326.0h0M123.5 423.7h0M128.0 423.7h0M141.1 425.3h0M134.7 296.4h0M163.8 474.1h0M139.5 424.5h0M120.0 328.4h0M151.7 298.8h0M149.4 358.8h0M190.4 470.9h0M86.0 296.4h0M156.4 292.4h0M175.2 474.9h0M114.5 488.5h0M156.5 474.9h0M144.2 436.5h0M140.4 490.1h0M165.2 438.1h0M110.3 296.4h0M84.1 296.4h0M144.9 438.9h0M150.3 326.8h0M159.3 439.7h0M108.6 391.6h0M140.8 328.4h0M144.6 485.3h0M121.9 422.9h0M150.6 394.0h0M157.7 470.1h0M136.2 312.4h0M132.4 295.6h0M161.2 473.3h0M114.7 440.5h0M186.5 439.7h0M132.7 489.3h0M117.8 344.4h0M136.0 486.9h0M138.4 443.7h0M172.5 442.1h0M182.5 295.6h0M151.5 435.7h0M118.3 312.4h0M189.8 441.3h0M155.6 444.5h0M173.5 436.5h0M153.1 487.7h0M149.7 359.6h0M166.0 474.1h0M89.8 295.6h0M120.1 295.6h0M141.3 294.8h0M130.0 390.8h0M162.8 444.5h0M144.1 442.1h0M173.0 439.7h0M158.1 440.5h0M151.6 471.7h0M145.9 444.5h0M138.9 390.0h0M188.9 440.5h0M136.9 390.8h0M194.0 439.7h0M146.0 422.1h0M90.9 297.2h0M164.4 473.3h0M158.3 436.5h0M153.9 423.7h0M158.4 477.3h0M178.2 474.1h0M180.7 443.7h0M153.6 424.5h0M129.9 504.5h0M137.3 474.1h0M165.8 435.7h0M140.6 376.4h0M187.4 440.5h0M153.6 299.6h0M117.1 489.3h0M151.6 470.9h0M197.3 440.5h0M136.1 437.3h0M145.6 442.9h0M145.7 361.2h0M113.6 425.3h0"/><path class="k17" d="M147.4 390.0h0M159.3 472.5h0M149.4 393.2h0M170.7 441.3h0M169.5 474.1h0M145.1 490.1h0M134.7 442.9h0M157.8 296.4h0M111.3 296.4h0M161.1 469.3h0M117.3 472.5h0M102.5 296.4h0M87.0 296.4h0M160.6 391.6h0M162.9 475.7h0M144.8 487.7h0M139.4 486.1h0M134.8 442.1h0M137.1 391.6h0M133.1 488.5h0M162.7 441.3h0M137.0 443.7h0M111.9 392.4h0M140.8 437.3h0M136.4 472.5h0M126.7 298.8h0M160.2 475.7h0M168.5 438.1h0M144.7 329.2h0M166.4 441.3h0M157.2 438.1h0M175.2 470.1h0M161.5 332.4h0M121.9 441.3h0M170.0 438.1h0M157.5 442.9h0M167.7 438.9h0M144.9 390.8h0M156.3 393.2h0M185.9 470.1h0M124.2 440.5h0M176.8 473.3h0M135.8 438.9h0M179.9 439.7h0M153.0 420.5h0M154.5 439.7h0M110.0 392.4h0M144.9 422.1h0M183.2 470.9h0M185.2 470.1h0M187.4 441.3h0M152.5 299.6h0M120.5 297.2h0M138.7 422.9h0M144.0 359.6h0M182.8 474.1h0M128.8 390.8h0M140.6 358.8h0M137.2 474.9h0M170.9 325.2h0M158.3 408.5h0M127.8 439.7h0M161.6 298.0h0M128.5 394.0h0M95.8 295.6h0M146.8 329.2h0M134.9 390.8h0M175.5 291.6h0M126.8 391.6h0M175.6 471.7h0M170.2 439.7h0M165.4 439.7h0M139.4 440.5h0M146.1 470.9h0M146.9 294.8h0M147.6 438.9h0M178.1 294.8h0"/><path class="k2" d="M148.0 406.1h0M158.6 334.0h0M194.4 296.4h0M164.3 298.0h0M180.3 295.6h0M169.4 488.5h0M167.1 294.8h0M156.6 408.5h0M176.2 294.8h0M170.8 394.8h0M169.9 490.1h0M165.9 302.0h0M133.5 474.9h0M131.6 442.9h0M173.3 492.5h0M189.1 424.5h0M173.1 326.8h0M178.9 487.7h0M188.9 423.7h0M189.7 395.6h0M158.0 490.9h0M167.5 490.1h0M159.0 424.5h0M164.8 490.1h0M183.3 408.5h0M157.5 390.8h0M159.6 325.2h0M188.5 390.0h0M167.4 488.5h0M161.7 327.6h0M161.8 330.8h0M127.0 408.5h0M128.2 472.5h0M156.7 293.2h0M157.8 409.3h0M148.5 408.5h0M184.9 293.2h0M181.1 422.1h0M167.5 329.2h0M173.3 294.8h0M191.4 423.7h0M139.7 344.4h0M185.3 426.9h0M160.9 294.0h0M162.7 485.3h0M136.1 488.5h0M153.4 297.2h0M168.2 422.9h0M161.7 485.3h0M163.0 423.7h0M168.8 394.8h0M156.2 388.4h0M157.0 361.2h0M172.1 357.2h0M169.9 390.0h0M170.4 427.7h0M162.4 422.1h0M144.3 406.9h0M183.2 422.1h0M202.1 296.4h0M183.5 296.4h0M170.2 358.0h0M162.0 406.9h0M178.3 425.3h0"/><path class="k18" d="M151.2 477.3h0M143.9 360.4h0M125.3 424.5h0M185.8 439.7h0M155.9 428.5h0M88.5 328.4h0M139.1 425.3h0M162.3 437.3h0M136.9 470.1h0M154.0 360.4h0M123.1 390.8h0M174.2 444.5h0M170.6 472.5h0M158.2 439.7h0M114.9 296.4h0M132.5 391.6h0M111.7 391.6h0M167.8 472.5h0M137.1 442.9h0M169.8 471.7h0M169.2 470.1h0M139.7 474.1h0M139.8 391.6h0M178.5 443.7h0M161.1 475.7h0M142.1 298.8h0M165.5 445.3h0M142.0 361.2h0M129.0 488.5h0M150.6 471.7h0M150.2 427.7h0M114.8 425.3h0M154.7 440.5h0M167.2 419.7h0M150.7 361.2h0M177.4 471.7h0M149.3 487.7h0M146.4 327.6h0M149.7 475.7h0M118.9 489.3h0M150.9 475.7h0M126.0 312.4h0M117.5 391.6h0M148.8 376.4h0M157.3 474.9h0M142.0 297.2h0M122.4 439.7h0M137.8 470.1h0M100.1 297.2h0M166.6 476.5h0M123.1 296.4h0M147.1 298.8h0M157.6 294.8h0M181.5 470.9h0M144.2 427.7h0M112.9 487.7h0M140.2 423.7h0M159.1 296.4h0M133.8 504.5h0M162.6 489.3h0M158.8 404.5h0M143.5 423.7h0M144.7 439.7h0M152.6 468.5h0M121.9 423.7h0M152.1 486.1h0M127.8 393.2h0M122.2 312.4h0"/><path class="k11" d="M166.4 294.8h0M163.1 422.9h0M153.7 295.6h0M156.1 358.8h0M156.4 488.5h0M130.8 489.3h0M136.5 422.1h0M142.1 295.6h0M140.1 394.8h0M161.5 420.5h0M163.3 298.8h0M148.0 474.1h0M130.5 487.7h0M149.1 422.1h0M157.4 475.7h0"/><path class="k6" d="M168.7 362.0h0M148.3 298.8h0M178.1 359.6h0M179.9 394.8h0M157.4 469.3h0M191.6 294.8h0M161.7 488.5h0M165.0 329.2h0M195.2 296.4h0M151.1 409.3h0M141.8 487.7h0M161.9 292.4h0M154.9 428.5h0M184.1 327.6h0M183.4 299.6h0M153.9 420.5h0M166.8 387.6h0M162.9 294.0h0M144.9 407.7h0M163.2 331.6h0M174.8 296.4h0M153.7 406.9h0M156.6 484.5h0"/><path class="k13" d="M100.4 295.6h0M145.3 476.5h0M187.9 471.7h0M168.5 474.1h0M168.0 298.0h0M140.8 475.7h0M168.7 423.7h0M150.8 392.4h0M153.2 488.5h0M160.0 393.2h0M149.6 439.7h0M155.2 441.3h0M164.8 296.4h0M148.4 486.1h0M117.9 440.5h0M126.0 472.5h0M150.7 486.1h0M139.1 442.1h0M132.3 393.2h0M141.3 475.7h0M119.0 488.5h0M155.6 293.2h0M159.3 393.2h0"/><path class="k5" d="M173.3 362.8h0M156.2 397.2h0M171.6 407.7h0M168.3 407.7h0M154.6 412.5h0M165.1 485.3h0M164.7 358.8h0M167.5 426.9h0M171.3 490.9h0M162.3 298.0h0M167.7 420.5h0M152.0 410.1h0M171.0 298.0h0M168.2 428.5h0M173.9 422.1h0M198.7 488.5h0M178.2 299.6h0M167.9 427.7h0M159.2 489.3h0"/><path class="k12" d="M144.9 391.6h0M126.1 471.7h0M159.3 390.8h0M147.0 296.4h0M141.9 423.7h0M156.7 323.6h0M138.2 440.5h0M169.9 436.5h0M150.0 442.1h0M171.7 439.7h0M129.0 473.3h0M156.5 490.1h0M155.3 424.5h0M135.3 296.4h0M139.4 470.9h0"/><path class="k0" d="M143.6 394.0h0M183.8 426.1h0M133.7 408.5h0M157.0 329.2h0M164.0 470.9h0M158.3 311.6h0M155.3 362.0h0M174.1 363.6h0M137.4 409.3h0M185.8 490.9h0M160.6 405.3h0M173.7 295.6h0M160.1 315.6h0M145.9 474.9h0M180.5 423.7h0M167.0 394.8h0M166.7 297.2h0M172.0 330.8h0M165.8 362.0h0M182.2 328.4h0M161.6 328.4h0M195.7 297.2h0M161.2 359.6h0M182.2 292.4h0M164.4 298.8h0M165.7 390.8h0M159.2 341.1h0M157.5 456.5h0M176.1 328.4h0M177.8 407.7h0M164.3 410.1h0M159.2 309.1h0M166.3 406.9h0M172.4 422.1h0M190.7 297.2h0M190.4 394.8h0M158.8 327.6h0M151.8 438.9h0M166.9 331.6h0M162.4 312.4h0M165.5 487.7h0M169.5 331.6h0M188.5 487.7h0M156.8 327.6h0M170.6 390.8h0M173.6 330.0h0M159.5 323.6h0M190.9 294.0h0M174.1 409.3h0M181.1 408.5h0M118.5 471.7h0M175.0 489.3h0M162.6 360.4h0M185.5 489.3h0M189.4 486.9h0M186.7 424.5h0M168.3 299.6h0M124.0 442.1h0M101.4 472.5h0M158.3 411.7h0M200.3 488.5h0M161.0 314.1h0M170.4 329.2h0M181.7 424.5h0M105.7 440.5h0M160.7 324.4h0M193.2 425.3h0M170.4 487.7h0M176.8 489.3h0M159.2 310.8h0M180.7 408.5h0M147.2 427.7h0M184.3 424.5h0M175.2 298.8h0M158.6 413.3h0M170.8 293.2h0M161.8 315.9h0M150.7 485.3h0M168.9 485.3h0M169.5 486.1h0M157.5 457.4h0M187.0 425.3h0M90.0 472.5h0M185.0 423.7h0M157.1 436.5h0M150.4 409.3h0M180.3 329.2h0M179.1 361.2h0M193.0 295.6h0M170.9 488.5h0M192.9 426.1h0M160.2 461.3h0M160.1 340.5h0M159.1 326.0h0M204.6 296.4h0"/><path class="k8" d="M175.5 300.4h0M165.9 293.2h0M160.3 444.5h0M173.4 359.6h0M154.9 489.3h0M170.8 330.0h0M161.3 295.6h0M153.8 361.2h0M192.9 394.8h0M167.1 423.7h0M156.8 295.6h0M142.3 421.3h0M144.2 422.9h0M152.8 294.8h0M143.3 470.1h0M176.3 390.8h0M170.2 325.2h0M151.9 489.3h0M115.6 487.7h0"/><path class="k14" d="M108.6 488.5h0M139.7 393.2h0M116.5 295.6h0M125.0 441.3h0M150.3 391.6h0M165.1 293.2h0M154.8 297.2h0M161.8 439.7h0M184.4 470.1h0M167.3 397.2h0M129.7 439.7h0M190.3 441.3h0M172.5 295.6h0M127.0 394.0h0M119.9 489.3h0M129.6 393.2h0M122.1 394.0h0M148.0 427.7h0M158.0 362.0h0M152.6 389.2h0M185.9 440.5h0M126.1 297.2h0M147.3 294.0h0M176.8 301.2h0M153.4 421.3h0M149.6 294.8h0M124.5 424.5h0M155.3 442.9h0M155.9 390.0h0M157.1 387.6h0M142.6 394.0h0"/><path class="k16" d="M155.0 298.0h0M133.0 423.7h0M108.7 296.4h0M163.5 439.7h0M148.0 393.2h0M133.1 426.1h0M142.1 394.0h0M168.1 409.3h0M153.6 394.8h0M122.6 294.8h0M144.8 294.0h0M151.4 300.4h0M149.5 485.3h0M178.0 438.1h0M198.9 440.5h0M128.0 487.7h0M192.4 471.7h0M154.9 390.8h0M111.3 393.2h0M166.7 395.6h0M156.6 440.5h0M149.0 298.0h0M133.2 391.6h0M147.7 394.0h0M160.2 438.9h0M137.1 390.0h0M150.0 469.3h0M124.9 486.9h0M190.4 440.5h0M149.1 298.8h0M164.8 468.5h0M162.3 438.1h0M154.3 294.0h0M134.5 423.7h0M180.4 474.1h0M106.7 391.6h0M122.1 425.3h0M157.1 468.5h0M162.9 438.1h0M160.2 474.9h0M142.1 360.4h0M172.3 439.7h0M146.2 472.5h0M120.2 488.5h0M156.4 362.0h0M143.6 440.5h0M132.4 424.5h0M158.0 426.9h0M186.7 440.5h0M149.9 435.7h0M189.9 442.1h0M159.0 440.5h0M148.8 469.3h0M111.2 295.6h0M149.0 435.7h0M130.5 426.1h0M192.5 470.9h0M127.9 295.6h0M136.2 474.1h0M156.5 437.3h0M158.3 394.0h0M146.7 470.9h0M152.7 426.1h0M133.7 424.5h0M163.8 442.9h0M188.5 441.3h0M158.1 441.3h0M136.8 474.9h0M110.5 424.5h0M184.0 471.7h0M164.6 443.7h0M154.8 470.1h0"/><path class="k1" d="M174.0 392.4h0M173.9 394.8h0M148.1 329.2h0M174.6 489.3h0M97.5 440.5h0M160.9 490.9h0M170.9 355.6h0M126.3 470.9h0M157.7 500.0h0M165.8 484.5h0M197.8 297.2h0M176.7 425.3h0M160.1 306.9h0M149.7 406.1h0M158.4 458.2h0M148.6 390.0h0M179.8 440.5h0M187.7 391.6h0M160.2 376.4h0M148.9 491.7h0M159.2 308.3h0M161.0 314.9h0M160.1 318.0h0M163.9 391.6h0M163.4 421.3h0M174.9 487.7h0M156.6 456.5h0M170.4 359.6h0M169.1 326.0h0M143.5 312.4h0M189.5 487.7h0M193.3 297.2h0M165.9 359.6h0M177.0 361.2h0M189.4 393.2h0M175.0 390.0h0M173.0 422.9h0M149.0 393.2h0M162.2 294.8h0M145.8 456.5h0M161.8 312.4h0M163.8 323.6h0M166.6 332.4h0M170.5 391.6h0M161.0 315.7h0M138.5 295.6h0M145.2 444.5h0M181.1 393.2h0M161.0 311.6h0M153.0 473.3h0M177.4 487.7h0M172.1 364.4h0M164.7 327.6h0M152.3 425.3h0M158.4 375.5h0M159.3 379.6h0M167.4 489.3h0M132.0 438.9h0M157.7 505.2h0M164.0 406.1h0M160.1 312.4h0M166.6 363.6h0M159.8 486.9h0M156.8 505.3h0M144.2 409.3h0M169.0 296.4h0M187.6 426.9h0M160.1 346.0h0M184.5 391.6h0M174.5 390.8h0M164.6 395.6h0M148.1 406.9h0M158.3 314.1h0M149.1 407.7h0M159.5 507.7h0M164.5 330.8h0M159.5 500.5h0M158.4 455.6h0M158.6 499.9h0M192.7 394.0h0M181.2 390.8h0M125.0 471.7h0M159.2 317.4h0M159.2 342.8h0M160.1 310.0h0M173.8 422.9h0M158.6 501.4h0M158.9 412.5h0M158.3 341.0h0M160.2 459.7h0M196.7 392.4h0M191.3 328.4h0M158.3 313.3h0M162.6 486.9h0M184.3 423.7h0M125.8 391.6h0M163.1 388.4h0M163.3 295.6h0M155.9 405.3h0M162.4 345.4h0M160.1 342.0h0M159.5 422.9h0M191.7 488.5h0M161.0 347.7h0M160.2 458.9h0M158.1 328.4h0M171.9 291.6h0M170.6 424.5h0M159.3 460.6h0M156.8 503.7h0"/><path class="k3" d="M141.6 422.1h0M185.1 327.6h0M175.6 295.6h0M183.9 422.1h0M182.5 391.6h0M160.3 420.5h0M111.8 441.3h0M171.6 297.2h0M171.8 422.9h0M191.5 298.0h0M156.7 404.5h0M154.4 492.5h0M172.6 297.2h0M180.0 490.9h0M157.6 331.6h0M175.9 485.3h0M187.5 328.4h0M145.7 328.4h0M196.6 294.8h0M178.9 329.2h0M164.5 486.1h0M145.6 487.7h0M148.1 475.7h0M160.6 426.9h0M161.8 411.7h0M162.2 470.1h0M156.8 301.2h0M190.5 298.0h0M143.2 390.0h0M166.9 420.5h0M169.7 426.1h0M183.8 293.2h0M183.1 425.3h0M145.8 408.5h0M144.3 490.1h0M167.1 330.8h0M169.3 362.8h0M192.1 390.0h0M146.2 424.5h0M184.7 424.5h0M165.3 407.7h0M178.8 409.3h0M166.5 362.8h0M114.1 471.7h0M177.0 485.3h0M166.7 292.4h0M181.8 422.9h0M171.9 326.0h0M152.4 395.6h0M161.6 333.2h0M146.3 298.8h0M125.8 489.3h0M162.5 406.1h0M159.9 331.6h0M172.5 423.7h0M166.4 326.0h0M174.0 299.6h0M185.4 486.1h0M159.8 390.8h0M197.5 295.6h0M154.0 406.1h0M188.0 294.0h0"/><path class="k15" d="M150.6 473.3h0M157.7 474.1h0M127.7 426.1h0M181.9 392.4h0M165.4 441.3h0M163.3 474.9h0M129.6 426.1h0M142.1 441.3h0M148.9 472.5h0M157.5 397.2h0M125.8 424.5h0M145.8 474.1h0M171.0 474.1h0M142.2 442.9h0M165.2 470.9h0M152.7 326.8h0M137.0 394.8h0M183.1 442.1h0M146.6 439.7h0M154.5 293.2h0M161.2 296.4h0M129.3 440.5h0M147.8 358.8h0M150.7 491.7h0M114.5 472.5h0M137.2 426.1h0M145.4 392.4h0M171.4 436.5h0M137.1 423.7h0M177.1 294.8h0M112.0 296.4h0M150.4 422.9h0M143.7 442.9h0M160.4 476.5h0M114.7 295.6h0M166.4 438.9h0M117.3 423.7h0M128.1 470.9h0M149.6 425.3h0M154.5 299.6h0M156.8 476.5h0M116.9 488.5h0M160.0 292.4h0M143.9 470.1h0M149.6 395.6h0M153.6 436.5h0M187.8 390.8h0M160.3 491.7h0M183.9 474.9h0M149.7 296.4h0M150.5 395.6h0M137.3 422.9h0M142.4 361.2h0M145.9 438.9h0M116.3 489.3h0M194.6 440.5h0M164.8 426.1h0M143.5 390.8h0M80.5 296.4h0M145.8 294.0h0M140.0 440.5h0M155.4 467.7h0M148.6 485.3h0M171.7 437.3h0M123.5 393.2h0M165.6 436.5h0M133.3 438.9h0M172.9 470.9h0M169.8 438.9h0M160.1 471.7h0M155.5 436.5h0"/><path class="k7" d="M179.3 299.6h0M111.6 472.5h0M178.1 488.5h0M151.8 293.2h0M194.6 298.0h0M162.1 359.6h0M167.7 387.6h0M136.0 409.3h0M161.3 424.5h0M172.4 293.2h0M170.2 327.6h0M157.6 422.9h0M147.3 424.5h0M146.1 393.2h0M173.1 301.2h0M155.0 330.0h0M166.2 296.4h0M159.5 324.4h0M151.3 359.6h0"/><path class="k10" d="M158.2 426.1h0M153.1 293.2h0M168.9 472.5h0M95.0 472.5h0M156.1 331.6h0M163.9 396.4h0M172.6 427.7h0M152.8 327.6h0M187.1 299.6h0M165.5 438.9h0M166.5 391.6h0M181.5 474.1h0M159.4 468.5h0M151.1 394.8h0M143.6 485.3h0M157.3 412.5h0M160.5 332.4h0M97.1 472.5h0M145.1 437.3h0M125.9 439.7h0M170.2 328.4h0M162.8 292.4h0M154.1 489.3h0M123.1 422.9h0"/><path class="k10" d="M154.6 406.1h0M158.9 403.7h0M154.8 406.9h0M139.7 474.9h0M145.4 394.8h0M135.4 474.9h0M151.6 469.3h0M138.3 423.7h0M155.3 486.9h0M172.7 421.3h0M126.4 487.7h0M156.6 294.0h0M172.6 300.4h0M174.1 488.5h0M152.1 488.5h0M155.0 442.1h0M170.0 442.9h0M147.6 329.2h0"/><path class="k13" d="M168.3 295.6h0M153.6 300.4h0M140.2 469.3h0M128.9 490.1h0M138.7 471.7h0M144.0 488.5h0M172.5 470.1h0M142.4 490.1h0M148.7 490.9h0M132.5 441.3h0M140.7 298.8h0M144.0 294.8h0M115.7 424.5h0M147.6 359.6h0M154.3 294.8h0M141.1 394.0h0M150.0 422.9h0M136.7 473.3h0M85.2 296.4h0M139.1 426.9h0M158.4 470.9h0"/><path class="k19" d="M151.2 439.7h0M135.7 391.6h0M155.7 471.7h0M152.0 422.9h0M131.1 474.1h0M113.1 297.2h0M119.4 392.4h0M129.4 295.6h0M171.8 292.4h0M142.4 358.8h0M110.1 295.6h0M157.3 477.3h0M192.3 439.7h0M139.7 471.7h0M158.4 301.2h0M149.4 443.7h0M139.1 438.1h0M116.0 296.4h0M133.0 297.2h0M124.3 426.1h0M156.4 442.1h0M152.6 298.0h0M128.3 391.6h0M104.3 296.4h0M107.0 328.4h0M154.5 474.9h0M199.0 472.5h0M193.6 471.7h0M135.5 424.5h0M143.2 488.5h0M118.0 328.4h0M127.2 294.0h0M160.2 294.0h0M119.3 487.7h0M164.6 445.3h0M169.0 442.1h0M128.0 424.5h0M133.8 474.1h0M139.8 473.3h0M145.2 329.2h0M96.0 297.2h0M164.2 445.3h0M144.9 471.7h0M99.3 297.2h0M141.6 470.9h0M180.1 293.2h0M187.7 438.1h0M116.0 423.7h0M121.8 344.4h0M153.0 395.6h0M137.4 473.3h0M160.5 436.5h0M150.0 441.3h0M182.7 440.5h0M165.8 470.1h0M175.2 441.3h0M150.0 438.9h0M135.3 344.4h0M133.4 393.2h0M157.6 426.1h0M140.6 329.2h0M150.9 442.1h0M141.9 442.1h0M136.6 490.9h0M130.5 394.0h0M187.0 470.9h0M112.4 489.3h0M177.2 474.9h0M138.7 312.4h0M163.1 438.9h0M123.4 312.4h0M158.8 490.9h0M142.0 376.4h0M121.4 423.7h0M174.5 436.5h0M128.1 456.5h0M174.1 441.3h0M79.3 296.4h0M181.2 473.3h0M160.4 294.8h0M187.1 438.9h0M126.1 488.5h0M182.4 470.9h0M143.0 486.1h0M157.9 470.9h0M181.0 438.9h0M158.2 442.9h0M176.5 474.9h0M130.8 422.9h0M128.6 504.5h0M143.5 392.4h0M173.8 443.7h0M155.9 438.1h0M113.7 296.4h0M151.1 470.1h0M140.4 504.5h0M120.9 487.7h0M167.7 470.1h0M97.7 328.4h0M159.2 297.2h0M161.4 444.5h0M139.3 469.3h0M142.0 359.6h0M174.7 442.1h0M146.7 469.3h0M160.7 474.1h0M109.0 393.2h0"/><path class="k8" d="M154.3 390.8h0M159.6 301.2h0M193.4 295.6h0M158.7 358.8h0M182.3 297.2h0M162.3 425.3h0M163.0 301.2h0M155.0 394.8h0M184.0 294.8h0M132.5 408.5h0M151.8 391.6h0M165.2 298.0h0M149.3 392.4h0M144.1 395.6h0M170.5 422.9h0M174.0 292.4h0"/><path class="k6" d="M167.7 297.2h0M171.7 294.8h0M168.1 363.6h0M182.8 422.9h0M158.6 292.4h0M143.8 474.9h0M187.2 298.8h0M173.3 394.0h0M135.8 422.9h0M190.8 390.8h0M124.7 439.7h0M155.0 437.3h0M201.2 488.5h0M161.0 291.6h0M148.7 394.0h0M187.7 426.1h0"/><path class="k9" d="M165.5 394.0h0M163.0 470.1h0M147.8 410.9h0M178.6 426.1h0M125.1 426.1h0M160.6 394.0h0M151.5 426.9h0M158.9 390.0h0M173.3 328.4h0M151.0 362.8h0M156.6 328.4h0M120.8 392.4h0"/><path class="k2" d="M160.1 388.4h0M181.7 409.3h0M188.2 298.0h0M163.2 395.6h0M191.5 490.1h0M174.9 486.1h0M133.7 442.1h0M163.5 409.3h0M147.0 486.9h0M165.1 300.4h0M168.6 325.2h0M162.3 484.5h0M167.0 491.7h0M170.3 408.5h0M176.0 422.9h0M159.1 473.3h0M171.1 408.5h0M170.0 362.8h0M170.0 326.8h0M179.2 486.1h0M175.5 426.9h0M173.0 330.0h0M168.2 328.4h0M169.3 329.2h0M167.1 406.9h0M145.0 443.7h0M158.3 405.3h0M128.5 422.9h0M166.4 358.8h0M152.7 422.1h0M173.4 486.9h0M148.2 470.1h0M193.6 298.0h0M177.7 424.5h0M138.4 475.7h0M155.5 300.4h0M168.8 389.2h0M170.4 360.4h0M140.5 409.3h0M161.2 488.5h0M193.3 298.8h0M180.3 422.9h0M157.8 485.3h0M180.5 294.0h0M175.5 394.0h0M148.9 406.9h0M185.3 425.3h0M151.4 361.2h0M157.4 411.7h0M132.2 474.1h0M182.6 298.8h0M154.3 326.0h0M163.9 360.4h0M167.9 294.0h0M163.5 327.6h0M105.0 440.5h0M177.5 488.5h0M170.9 406.9h0M180.1 426.1h0M163.5 424.5h0M160.8 388.4h0M157.2 393.2h0M113.0 473.3h0M169.2 359.6h0M166.7 427.7h0M152.5 295.6h0M181.4 426.1h0M149.9 410.1h0M182.2 486.1h0M157.5 491.7h0M172.5 490.9h0M167.3 426.1h0M168.7 391.6h0M157.8 486.1h0M159.9 485.3h0M158.8 324.4h0"/><path class="k15" d="M160.2 422.1h0M163.6 330.8h0M171.5 438.9h0M150.4 326.0h0M174.3 295.6h0M142.4 443.7h0M147.8 468.5h0M145.5 470.9h0M175.6 439.7h0M151.1 296.4h0M168.4 443.7h0M154.3 490.1h0M128.3 473.3h0M111.7 489.3h0M140.0 441.3h0M129.2 474.1h0M112.5 295.6h0M154.2 358.8h0M168.6 474.9h0M151.6 440.5h0M155.3 470.1h0M125.5 295.6h0M150.3 445.3h0M140.5 294.8h0M129.4 438.9h0M150.1 477.3h0M151.8 297.2h0M140.4 422.9h0M176.2 469.3h0M148.7 296.4h0M182.3 439.7h0M125.5 441.3h0M128.5 489.3h0M169.8 440.5h0M165.4 301.2h0M143.2 327.6h0M182.9 473.3h0M136.4 390.0h0M160.0 394.0h0M128.4 442.1h0M129.6 486.9h0M136.0 390.8h0M172.5 474.1h0M124.5 390.8h0M179.6 422.1h0M162.4 473.3h0M168.7 439.7h0M166.1 419.7h0M164.8 360.4h0M142.7 329.2h0M116.0 392.4h0M158.8 437.3h0M126.3 296.4h0M148.7 392.4h0M117.5 295.6h0M167.0 474.9h0M158.1 468.5h0M147.6 424.5h0M159.4 474.9h0M135.6 441.3h0M121.4 488.5h0M153.8 294.8h0M98.8 297.2h0M175.4 443.7h0M150.5 467.7h0M120.4 296.4h0M164.0 437.3h0M173.4 438.1h0M158.2 406.9h0"/><path class="k7" d="M149.4 394.0h0M163.4 406.9h0M167.2 326.8h0M148.1 442.1h0M156.1 392.4h0M167.6 485.3h0M138.8 407.7h0M143.6 491.7h0M162.6 405.3h0M153.3 485.3h0M180.2 299.6h0M188.7 294.0h0M143.8 296.4h0M144.9 423.7h0M152.8 490.1h0M126.3 298.0h0M161.5 410.1h0M159.3 442.1h0M188.9 490.1h0M173.8 293.2h0M157.9 333.2h0M137.3 490.1h0M151.1 393.2h0"/><path class="k4" d="M199.4 298.0h0M148.6 330.0h0M160.3 421.3h0M191.8 422.9h0M110.9 440.5h0M191.8 296.4h0M156.6 410.1h0M161.8 410.9h0M172.9 426.9h0M194.6 487.7h0M178.2 390.0h0M162.3 423.7h0M167.8 359.6h0M162.8 490.9h0M154.7 408.5h0M168.6 359.6h0M168.8 426.9h0M154.8 405.3h0M182.8 295.6h0M151.8 406.1h0M176.7 297.2h0M190.8 423.7h0M187.5 488.5h0M192.0 487.7h0M164.9 486.9h0M140.9 394.8h0M175.4 394.8h0M180.0 391.6h0M151.5 395.6h0M169.3 298.8h0M115.3 472.5h0M147.5 409.3h0M139.9 390.8h0M170.3 364.4h0M166.2 294.0h0M113.8 440.5h0M166.4 487.7h0M195.4 295.6h0M163.7 422.9h0M164.9 297.2h0M144.9 328.4h0"/><path class="k3" d="M181.2 489.3h0M116.1 441.3h0M188.2 472.5h0M168.4 428.5h0M168.8 426.1h0M165.8 425.3h0M171.8 490.1h0M174.9 362.0h0M162.3 475.7h0M179.3 408.5h0M157.9 407.7h0M164.2 493.3h0M154.7 424.5h0M169.4 492.5h0M182.2 296.4h0M135.0 407.7h0M159.1 404.5h0M172.5 395.6h0M145.2 409.3h0M179.6 425.3h0M167.7 390.0h0M169.2 392.4h0M147.4 488.5h0M167.7 324.4h0M121.0 439.7h0M176.5 326.8h0M146.2 409.3h0M179.6 392.4h0M163.4 390.8h0M194.1 390.8h0M182.8 293.2h0M147.9 391.6h0M187.3 394.8h0M162.6 486.1h0M135.2 392.4h0M135.7 489.3h0M158.6 424.5h0M142.8 489.3h0M157.7 427.7h0M173.9 394.0h0M121.6 471.7h0M186.1 426.9h0M175.3 440.5h0M179.9 422.1h0M184.2 295.6h0M154.1 438.1h0M169.8 389.2h0M155.9 329.2h0M175.3 298.0h0M192.7 298.0h0M125.3 470.9h0M165.2 326.8h0M155.7 409.3h0M184.0 486.1h0M177.9 490.1h0M162.2 393.2h0M157.6 325.2h0M172.0 362.0h0M164.2 323.6h0M148.3 409.3h0M159.4 488.5h0M167.2 332.4h0M177.7 296.4h0M164.5 475.7h0M158.8 323.6h0M165.2 361.2h0M170.2 490.9h0M159.0 422.1h0M160.3 334.0h0M182.2 394.0h0M181.5 393.2h0M167.7 300.4h0M176.7 390.8h0M153.8 412.5h0"/><path class="k14" d="M93.7 297.2h0M171.4 442.9h0M179.1 470.9h0M163.7 441.3h0M116.7 440.5h0M153.8 473.3h0M176.5 474.1h0M119.8 441.3h0M137.2 392.4h0M160.8 441.3h0M172.7 442.9h0M142.9 442.9h0M165.2 470.1h0M180.9 298.8h0M124.4 425.3h0M171.9 469.3h0M142.2 438.9h0M152.5 467.7h0M159.0 477.3h0M138.2 297.2h0M180.5 472.5h0M179.2 293.2h0M169.5 443.7h0M162.8 297.2h0M150.3 490.1h0M122.2 426.1h0"/><path class="k16" d="M157.6 301.2h0M144.2 486.9h0M135.2 328.4h0M147.9 486.9h0M130.9 490.1h0M143.1 439.7h0M153.0 359.6h0M139.8 298.0h0M132.8 439.7h0M148.3 437.3h0M190.1 473.3h0M165.2 298.8h0M181.2 328.4h0M129.7 295.6h0M150.2 362.8h0M149.2 362.0h0M145.9 395.6h0M153.4 292.4h0M166.2 471.7h0M176.6 426.9h0M148.0 426.1h0M141.1 298.0h0M149.1 441.3h0M144.8 358.8h0M172.8 329.2h0M147.5 422.1h0M162.0 468.5h0M135.2 486.9h0M157.4 422.1h0M170.2 469.3h0M123.3 394.0h0M153.5 443.7h0M140.8 361.2h0M163.2 491.7h0M182.1 294.8h0M134.2 394.0h0M138.3 441.3h0M162.3 442.1h0M158.9 387.6h0M128.5 486.9h0M133.1 470.9h0M191.7 473.3h0M166.6 470.1h0M170.1 472.5h0M90.3 297.2h0M93.3 296.4h0M150.5 300.4h0M150.9 293.2h0M130.0 471.7h0M136.1 442.1h0M125.2 294.8h0M140.7 297.2h0M135.7 295.6h0"/><path class="k12" d="M164.2 329.2h0M163.1 394.0h0M165.2 476.5h0M166.0 476.5h0M146.7 394.0h0M156.4 421.3h0M168.7 300.4h0M127.2 297.2h0M172.0 363.6h0M172.8 469.3h0M147.5 389.2h0M118.2 295.6h0M163.2 476.5h0M165.4 395.6h0M185.4 442.9h0M154.0 362.0h0M152.2 361.2h0"/><path class="k11" d="M144.2 421.3h0M146.6 391.6h0M170.9 297.2h0M149.5 440.5h0M163.3 471.7h0M145.5 299.6h0M152.4 487.7h0M165.0 391.6h0M160.8 410.9h0M186.5 422.1h0M151.8 473.3h0M174.0 473.3h0M131.6 471.7h0M144.7 390.0h0M156.6 467.7h0M155.3 331.6h0M145.6 485.3h0M150.1 476.5h0M169.8 300.4h0M132.3 490.1h0M129.4 394.0h0M146.0 470.1h0M135.5 423.7h0M156.9 394.8h0M150.9 294.8h0M176.4 293.2h0M160.3 492.5h0M148.1 328.4h0M176.5 488.5h0"/><path class="k0" d="M195.5 392.4h0M151.1 405.3h0M158.6 505.3h0M162.4 300.4h0M171.7 423.7h0M191.6 295.6h0M172.5 486.1h0M105.7 472.5h0M162.6 394.8h0M113.3 441.3h0M162.7 328.4h0M186.8 488.5h0M169.4 325.2h0M162.5 426.1h0M181.2 394.0h0M165.8 420.5h0M191.5 390.8h0M201.4 297.2h0M177.9 360.4h0M168.3 390.0h0M116.3 439.7h0M184.9 392.4h0M143.0 504.5h0M99.3 472.5h0M194.1 394.0h0M184.8 390.8h0M160.1 314.8h0M203.5 488.5h0M174.5 329.2h0M178.7 392.4h0M176.3 362.0h0M187.6 423.7h0M187.9 422.1h0M184.4 487.7h0M162.4 343.5h0M170.1 326.0h0M158.4 377.4h0M173.0 395.6h0M160.1 309.2h0M162.1 493.3h0M187.7 390.0h0M172.7 408.5h0M184.4 486.1h0M166.2 360.4h0M174.8 330.0h0M178.6 359.6h0M174.8 423.7h0M168.7 492.5h0M164.6 483.7h0M205.9 296.4h0M190.0 298.0h0M166.8 393.2h0M153.0 471.7h0M167.8 491.7h0M190.0 389.2h0M165.3 328.4h0M178.1 292.4h0M161.0 317.4h0M147.3 406.9h0M164.1 393.2h0M174.2 327.6h0M141.3 407.7h0M154.7 326.0h0M159.9 330.8h0M182.4 294.0h0M192.4 424.5h0M161.0 349.4h0M194.4 391.6h0M175.0 330.8h0M156.0 408.5h0M186.5 394.0h0M168.4 357.2h0M93.3 440.5h0M168.7 408.5h0M157.1 492.5h0M159.5 509.3h0M158.3 312.4h0M172.1 394.0h0M177.0 394.0h0M151.7 492.5h0M173.2 358.8h0M195.3 424.5h0M161.0 343.6h0M159.2 312.4h0M173.9 330.8h0M163.9 408.5h0M156.6 456.0h0M181.7 437.3h0M156.3 470.9h0M163.5 490.1h0M184.8 297.2h0M164.5 488.5h0M172.3 424.5h0M155.5 487.7h0M95.0 440.5h0M198.7 297.2h0M157.6 291.6h0M169.5 294.0h0"/><path class="k17" d="M164.8 435.7h0M185.9 490.1h0M126.7 328.4h0M178.9 438.1h0M177.7 474.1h0M167.8 444.5h0M146.1 426.1h0M154.6 473.3h0M130.5 438.9h0M123.1 424.5h0M156.2 391.6h0M117.6 487.7h0M133.3 439.7h0M97.9 297.2h0M145.4 327.6h0M158.7 475.7h0M140.0 312.4h0M133.4 470.9h0M141.2 442.1h0M176.6 438.1h0M147.0 422.1h0M145.4 421.3h0M167.0 298.8h0M129.6 441.3h0M121.2 440.5h0M166.3 357.2h0M126.0 426.1h0M155.2 361.2h0M130.6 393.2h0M110.9 393.2h0M138.2 474.9h0M78.7 296.4h0M168.4 442.9h0M118.5 424.5h0M154.2 396.4h0M142.7 392.4h0M143.1 441.3h0M155.6 392.4h0M130.0 297.2h0M139.2 376.4h0M138.1 486.1h0M161.1 299.6h0M164.5 440.5h0M195.6 441.3h0M147.3 394.8h0M140.1 442.1h0M165.1 294.0h0M174.6 391.6h0M160.2 360.4h0M126.0 423.7h0M152.9 474.9h0M149.4 362.8h0M140.4 487.7h0M159.4 421.3h0M169.5 394.8h0M150.4 389.2h0M137.7 294.8h0M166.4 472.5h0M143.9 438.1h0M136.6 394.8h0M154.3 443.7h0M156.5 442.9h0M96.9 296.4h0M165.4 410.9h0M138.8 329.2h0M130.6 472.5h0M141.3 294.0h0M141.2 390.8h0M77.3 296.4h0M143.0 298.8h0M164.4 469.3h0M153.3 392.4h0M189.1 297.2h0M134.1 489.3h0M154.3 487.7h0M146.2 423.7h0M167.1 469.3h0M168.7 488.5h0M133.4 423.7h0M95.3 328.4h0M169.0 292.4h0M192.9 474.1h0M137.9 391.6h0M132.5 471.7h0"/><path class="k18" d="M135.4 490.9h0M148.9 470.1h0M176.2 438.9h0M139.7 361.2h0M123.6 426.1h0M189.8 472.5h0M161.3 474.9h0M146.7 443.7h0M157.9 389.2h0M114.0 391.6h0M129.0 393.2h0M156.2 473.3h0M152.9 428.5h0M135.8 471.7h0M110.7 392.4h0M193.6 440.5h0M169.8 301.2h0M111.5 471.7h0M151.0 421.3h0M160.0 322.8h0M159.2 491.7h0M149.2 294.8h0M176.4 390.0h0M129.6 489.3h0M131.7 425.3h0M172.7 426.1h0M147.1 440.5h0M149.0 293.2h0M181.7 442.9h0M183.9 474.1h0M144.7 360.4h0M175.2 469.3h0M172.6 444.5h0M73.5 296.4h0M146.7 489.3h0M136.5 504.5h0M143.0 504.5h0M159.5 444.5h0M126.8 456.5h0M118.3 392.4h0M139.8 360.4h0M147.9 392.4h0M123.2 441.3h0M131.2 391.6h0M129.4 392.4h0M129.5 456.5h0M165.2 444.5h0M142.0 439.7h0M155.1 440.5h0M160.6 322.8h0M160.6 298.8h0M196.4 441.3h0M146.7 359.6h0M146.9 472.5h0M160.7 470.9h0M180.4 473.3h0M131.2 470.9h0M203.0 440.5h0M123.5 391.6h0M141.7 328.4h0M157.4 487.7h0M147.1 491.7h0M157.8 473.3h0"/><path class="k5" d="M168.9 425.3h0M188.4 394.0h0M157.7 392.4h0M178.5 295.6h0M174.6 422.1h0M174.9 392.4h0M169.7 426.9h0M158.0 405.3h0M198.2 391.6h0M114.9 473.3h0M164.9 490.9h0M156.8 412.5h0M159.9 427.7h0M169.8 422.9h0M151.3 326.0h0M182.0 423.7h0M165.7 297.2h0M166.4 330.0h0M161.9 296.4h0M168.8 486.9h0M180.1 424.5h0M169.3 390.8h0M169.8 409.3h0M152.7 470.9h0"/><path class="k1" d="M161.8 347.0h0M156.8 504.5h0M159.3 377.2h0M169.8 491.7h0M177.5 297.2h0M183.5 298.8h0M161.0 346.9h0M159.3 382.0h0M186.0 408.5h0M168.9 487.7h0M182.0 298.0h0M159.3 376.4h0M179.6 426.1h0M159.3 454.0h0M188.2 299.6h0M185.0 299.6h0M171.3 331.6h0M194.0 408.5h0M165.8 394.8h0M158.4 453.9h0M159.3 380.4h0M107.9 472.5h0M147.0 407.7h0M158.6 328.4h0M160.1 310.8h0M137.8 490.1h0M160.1 467.7h0M134.2 409.3h0M172.9 361.2h0M160.1 341.3h0M140.1 438.9h0M144.9 359.6h0M177.9 390.8h0M158.3 427.7h0M158.7 322.8h0M169.3 294.0h0M160.7 406.1h0M158.3 342.7h0M146.7 392.4h0M165.7 324.4h0M158.6 506.8h0M161.8 345.3h0M154.4 471.7h0M159.2 347.7h0M168.6 358.0h0M151.6 490.1h0M161.8 376.4h0M178.4 391.6h0M158.6 507.6h0M154.1 491.7h0M173.0 296.4h0M148.9 394.8h0M171.6 425.3h0M161.0 342.8h0M135.7 394.8h0M165.6 332.4h0M156.1 491.7h0M175.8 407.7h0M161.0 345.3h0M157.5 458.4h0M158.5 332.4h0M150.3 407.7h0M172.0 328.4h0M111.2 473.3h0M171.4 360.4h0M171.5 391.6h0M161.0 316.5h0M157.7 503.0h0M186.1 425.3h0M171.7 485.3h0M174.4 426.1h0M170.3 356.4h0M178.1 408.5h0M153.8 409.3h0M160.2 455.7h0M159.5 510.0h0M158.6 500.7h0M156.6 456.9h0M161.3 425.3h0M126.5 408.5h0M159.2 349.4h0M151.5 411.7h0M176.4 393.2h0M161.9 422.9h0M175.3 490.1h0M157.7 508.2h0M153.1 331.6h0M181.7 489.3h0M158.3 315.9h0M157.5 454.5h0M178.0 490.9h0M139.0 409.3h0M194.6 489.3h0M167.9 426.1h0M157.9 390.8h0M158.3 343.6h0M165.5 330.8h0M170.5 420.5h0"/><path class="k15" d="M174.9 472.5h0M146.7 422.9h0M143.2 296.4h0M134.3 488.5h0M152.7 442.1h0M147.9 437.3h0M162.7 426.9h0M128.6 472.5h0M127.2 423.7h0M159.9 328.4h0M154.5 441.3h0M127.5 296.4h0M162.9 468.5h0M113.2 296.4h0M128.1 489.3h0M166.3 388.4h0M191.8 439.7h0M111.7 297.2h0M175.5 293.2h0M156.9 469.3h0M132.5 298.0h0M164.4 410.9h0M181.0 442.9h0M142.8 425.3h0M121.6 393.2h0M119.2 424.5h0M179.0 471.7h0M174.9 474.9h0M157.3 476.5h0M112.4 488.5h0M144.0 444.5h0M183.0 438.9h0M167.6 469.3h0M180.8 439.7h0M171.1 364.4h0M170.5 442.1h0M162.5 389.2h0M151.2 485.3h0M138.5 488.5h0M137.2 472.5h0M191.4 441.3h0M145.3 295.6h0M140.6 473.3h0M157.2 394.0h0M127.4 392.4h0M162.3 441.3h0M140.6 471.7h0M155.4 420.5h0M150.2 388.4h0M147.9 486.1h0M159.9 442.1h0M129.9 488.5h0M164.5 472.5h0M153.8 467.7h0M150.3 487.7h0M112.0 423.7h0M166.1 387.6h0M153.8 475.7h0M145.8 437.3h0M165.1 420.5h0M143.9 472.5h0M160.1 297.2h0M146.9 293.2h0M137.6 440.5h0M182.8 438.1h0M172.1 470.9h0M115.9 473.3h0"/><path class="k7" d="M129.8 490.1h0M148.7 423.7h0M177.4 443.7h0M151.3 437.3h0M160.3 411.7h0M146.0 294.8h0M159.2 362.0h0M165.7 392.4h0M153.6 294.0h0M183.5 390.8h0M115.8 441.3h0M158.8 397.2h0M179.7 390.8h0M160.0 472.5h0M147.0 327.6h0M153.1 407.7h0M175.7 294.8h0M162.7 396.4h0M168.6 298.0h0M178.8 300.4h0M146.5 395.6h0"/><path class="k14" d="M148.5 426.9h0M174.1 329.2h0M174.4 474.1h0M159.7 438.1h0M157.4 444.5h0M122.6 424.5h0M149.9 444.5h0M186.1 442.1h0M161.9 474.1h0M166.6 428.5h0M154.8 295.6h0M139.5 470.1h0M186.7 472.5h0M147.6 441.3h0M158.2 329.2h0M120.6 471.7h0M152.1 326.0h0M139.9 392.4h0M160.5 468.5h0M123.3 294.8h0M136.5 424.5h0M161.2 470.1h0M174.7 300.4h0M152.0 468.5h0M135.0 393.2h0M116.9 473.3h0M144.0 470.9h0M156.4 468.5h0M127.1 472.5h0M135.1 295.6h0M139.8 472.5h0M141.8 362.0h0M150.8 330.8h0M124.6 391.6h0M170.0 476.5h0M144.7 389.2h0M129.0 426.1h0M147.7 436.5h0M141.6 393.2h0M165.8 470.9h0M154.8 422.9h0"/><path class="k8" d="M107.6 487.7h0M169.6 420.5h0M161.6 360.4h0M211.2 296.4h0M148.0 490.9h0M123.4 440.5h0M183.0 300.4h0M174.5 293.2h0M170.9 330.8h0M134.6 441.3h0M177.7 329.2h0M166.7 486.9h0M153.2 490.9h0M179.4 298.8h0M174.2 298.8h0M165.9 388.4h0M144.5 393.2h0M149.1 330.0h0M156.8 426.9h0M148.1 423.7h0M154.3 389.2h0M156.5 490.9h0M154.0 394.8h0"/><path class="k9" d="M159.6 425.3h0M159.3 291.6h0M106.8 392.4h0M154.6 486.9h0M165.4 294.8h0M160.9 327.6h0M156.8 403.7h0M167.3 291.6h0M167.3 437.3h0M149.5 298.8h0M169.3 361.2h0M167.9 290.8h0M165.3 325.2h0M119.5 471.7h0M156.9 359.6h0M154.8 426.1h0M180.6 328.4h0M149.9 389.2h0M154.2 330.0h0M165.8 396.4h0M148.8 442.1h0M160.2 391.6h0"/><path class="k13" d="M142.0 390.0h0M171.4 441.3h0M154.1 476.5h0M166.0 429.3h0M145.7 441.3h0M144.4 474.1h0M145.8 486.9h0M139.8 490.9h0M155.8 472.5h0M176.1 358.8h0M146.3 394.8h0M125.5 474.1h0M143.1 487.7h0M171.7 443.7h0M146.1 486.1h0M133.1 425.3h0M149.5 486.9h0M150.3 327.6h0M153.7 389.2h0M151.9 491.7h0"/><path class="k16" d="M179.1 474.1h0M145.3 426.1h0M174.3 298.0h0M111.7 295.6h0M143.0 471.7h0M157.5 297.2h0M139.0 422.9h0M143.6 473.3h0M143.6 394.8h0M166.9 438.1h0M173.3 297.2h0M140.9 390.0h0M155.4 296.4h0M166.3 468.5h0M133.5 440.5h0M128.6 425.3h0M152.5 489.3h0M182.5 439.7h0M137.8 296.4h0M143.6 486.1h0M152.1 442.9h0M156.5 474.1h0M165.4 423.7h0M126.4 425.3h0M150.6 411.7h0M195.8 473.3h0M164.3 468.5h0M135.4 490.1h0M159.2 406.9h0M176.0 442.1h0M122.1 487.7h0M124.8 487.7h0M156.5 477.3h0M115.5 489.3h0M145.8 298.0h0M175.8 472.5h0M190.6 442.1h0M179.9 442.1h0M142.3 474.9h0M130.8 296.4h0M153.8 326.8h0M169.6 468.5h0M168.9 469.3h0M149.8 445.3h0M151.1 424.5h0M169.0 293.2h0M140.5 407.7h0M152.7 440.5h0M138.4 470.1h0M137.6 439.7h0M145.7 427.7h0M133.9 473.3h0M146.8 423.7h0M134.5 470.1h0M164.8 392.4h0M107.4 295.6h0M140.0 422.1h0M173.5 298.8h0M187.1 422.9h0M161.2 438.1h0M146.5 437.3h0M172.5 471.7h0M173.6 474.9h0M179.1 473.3h0"/><path class="k5" d="M157.8 484.5h0M171.1 359.6h0M153.3 325.2h0M178.8 390.0h0M183.5 297.2h0M176.2 426.1h0M152.5 485.3h0M163.9 486.1h0M165.0 484.5h0M183.2 426.9h0M142.9 426.9h0M166.7 485.3h0M161.7 293.2h0M115.4 471.7h0M136.2 489.3h0M113.0 440.5h0M167.7 391.6h0M160.4 325.2h0"/><path class="k0" d="M156.3 406.9h0M164.4 492.5h0M159.6 409.3h0M141.5 456.5h0M161.8 486.9h0M195.3 487.7h0M172.6 485.3h0M185.2 294.0h0M197.6 392.4h0M184.9 422.9h0M143.6 407.7h0M174.9 426.9h0M150.7 410.9h0M171.0 392.4h0M161.0 309.9h0M169.9 485.3h0M151.7 407.7h0M167.2 330.0h0M102.5 440.5h0M150.8 410.1h0M189.6 490.1h0M196.8 391.6h0M164.0 390.0h0M158.3 315.0h0M195.9 393.2h0M180.6 486.9h0M187.4 424.5h0M142.9 456.5h0M159.2 307.5h0M169.8 388.4h0M156.2 297.2h0M173.1 360.4h0M160.2 458.1h0M131.9 408.5h0M171.3 365.2h0M158.9 360.4h0M170.5 392.4h0M194.8 390.8h0M188.6 426.9h0M192.8 328.4h0M179.2 394.0h0M174.5 490.9h0M158.3 344.4h0M187.2 395.6h0M168.7 364.4h0M170.4 357.2h0M138.0 344.4h0M155.3 390.0h0M168.8 421.3h0M173.0 326.0h0M126.7 442.1h0M138.0 408.5h0M169.6 490.9h0M186.5 393.2h0M178.4 326.8h0M189.0 425.3h0M187.8 297.2h0M166.1 390.0h0M168.2 356.4h0M171.5 394.8h0M154.5 404.5h0M177.3 392.4h0M157.7 506.7h0M139.3 409.3h0M180.4 297.2h0M188.8 422.9h0M181.3 488.5h0M189.4 328.4h0M187.7 422.9h0M141.5 344.4h0M179.0 297.2h0M165.1 428.5h0M157.7 503.8h0M159.3 411.7h0M178.2 394.8h0M182.0 486.9h0M191.4 294.0h0M180.2 487.7h0M190.9 424.5h0M177.7 328.4h0M181.6 390.8h0M190.1 395.6h0M189.3 392.4h0M161.2 300.4h0M164.4 292.4h0M187.3 296.4h0M181.4 426.9h0M160.1 342.8h0M174.6 484.5h0M161.0 348.6h0M166.3 492.5h0M186.1 422.9h0M181.6 327.6h0M177.1 423.7h0M182.5 487.7h0M191.3 486.9h0"/><path class="k11" d="M185.8 441.3h0M142.2 408.5h0M161.0 423.7h0M151.4 488.5h0M148.2 295.6h0M155.0 477.3h0M139.4 488.5h0M119.7 425.3h0M168.8 438.9h0M131.0 442.1h0M131.6 489.3h0M168.6 394.0h0M163.6 470.9h0M141.8 424.5h0M143.5 391.6h0M129.9 294.8h0M179.0 360.4h0M162.2 327.6h0M173.4 441.3h0M148.7 486.9h0"/><path class="k4" d="M186.8 487.7h0M161.9 329.2h0M153.9 422.9h0M190.9 294.8h0M161.3 409.3h0M157.7 408.5h0M115.3 439.7h0M173.3 490.1h0M142.0 427.7h0M119.3 441.3h0M167.8 294.8h0M185.1 408.5h0M161.5 408.5h0M178.4 426.9h0M154.1 407.7h0M118.6 473.3h0M194.6 295.6h0M166.3 330.8h0M152.6 390.0h0M180.5 296.4h0M160.3 387.6h0M146.5 490.9h0M196.0 488.5h0M187.0 294.8h0M146.2 406.9h0M143.5 390.0h0M169.7 296.4h0M193.2 391.6h0M155.5 403.7h0M202.3 297.2h0M157.3 490.1h0M133.8 470.1h0"/><path class="k17" d="M175.1 422.1h0M162.2 426.9h0M154.0 390.0h0M141.7 488.5h0M171.1 444.5h0M159.0 299.6h0M149.4 437.3h0M127.7 486.9h0M142.3 394.8h0M147.6 438.1h0M123.4 295.6h0M152.1 437.3h0M154.2 330.8h0M153.7 327.6h0M150.5 295.6h0M160.9 428.5h0M92.6 297.2h0M125.1 422.9h0M167.2 394.8h0M149.3 327.6h0M195.8 472.5h0M150.6 422.1h0M187.1 442.9h0M121.9 390.8h0M135.2 376.4h0M132.6 474.1h0M122.9 488.5h0M123.2 297.2h0M169.9 294.8h0M160.5 404.5h0M130.1 422.9h0M141.9 489.3h0M174.0 439.7h0M172.8 438.9h0M98.7 296.4h0M162.9 393.2h0M175.8 474.1h0M143.1 436.5h0M142.5 359.6h0M141.8 440.5h0M147.2 474.9h0M141.7 504.5h0M125.6 442.1h0M169.9 470.1h0M112.9 425.3h0M127.3 504.5h0M143.0 294.0h0M190.1 439.7h0M171.7 440.5h0M136.0 456.5h0M153.9 394.0h0M168.6 302.0h0M180.9 298.0h0M170.2 298.0h0M154.3 438.9h0M157.4 441.3h0M188.5 438.9h0M164.8 396.4h0M164.3 425.3h0M135.4 440.5h0M173.1 475.7h0M147.7 297.2h0M139.0 442.9h0M148.8 424.5h0"/><path class="k19" d="M112.0 328.4h0M90.7 295.6h0M161.1 468.5h0M162.6 474.9h0M179.0 438.9h0M154.3 444.5h0M138.5 394.8h0M169.2 437.3h0M163.8 436.5h0M116.6 391.6h0M152.2 435.7h0M105.6 297.2h0M116.4 296.4h0M160.7 437.3h0M126.7 393.2h0M140.0 456.5h0M150.8 390.8h0M180.3 437.3h0M108.9 295.6h0M157.5 425.3h0M137.4 312.4h0M175.2 470.9h0M112.4 424.5h0M111.9 425.3h0M136.6 443.7h0M186.3 471.7h0M136.1 407.7h0M144.5 425.3h0M159.5 470.1h0M253.3 296.4h0M154.4 472.5h0M122.8 393.2h0M152.1 327.6h0M154.7 392.4h0M185.4 438.1h0M184.9 439.7h0M133.8 471.7h0M158.3 438.1h0M163.0 442.9h0M168.2 475.7h0M164.5 476.5h0M141.3 440.5h0M189.4 439.7h0M156.2 444.5h0M185.4 473.3h0M173.7 475.7h0M115.8 425.3h0M133.4 490.1h0M150.0 423.7h0M180.7 437.3h0M120.2 423.7h0M124.0 328.4h0M152.1 475.7h0M138.7 360.4h0M112.6 423.7h0M157.1 437.3h0M131.9 295.6h0M157.6 467.7h0M138.6 469.3h0M147.0 442.9h0M164.3 444.5h0M153.8 470.1h0M137.3 486.9h0M138.8 489.3h0M132.3 328.4h0M165.2 436.5h0M158.4 437.3h0M132.1 456.5h0M126.7 422.9h0M166.4 292.4h0M176.5 490.9h0M149.8 474.9h0M191.1 472.5h0M172.7 440.5h0M105.6 295.6h0M153.2 438.9h0M124.5 344.4h0M150.4 394.8h0M149.1 425.3h0M130.4 328.4h0M163.3 474.1h0M154.7 436.5h0M114.5 489.3h0M182.0 474.1h0M137.0 442.1h0M135.2 390.0h0M177.2 439.7h0M141.6 422.9h0M177.5 440.5h0M136.2 438.9h0M134.6 298.0h0M131.6 442.1h0M133.7 294.8h0M143.0 442.1h0M145.1 470.1h0M171.7 474.1h0M179.3 442.1h0"/><path class="k6" d="M146.8 487.7h0M187.5 393.2h0M161.4 491.7h0M117.9 471.7h0M159.3 394.8h0M177.6 438.1h0M173.9 328.4h0M195.4 294.8h0M176.2 294.0h0M158.3 295.6h0M151.0 327.6h0M157.2 488.5h0M158.4 410.1h0M182.6 442.9h0M132.4 442.1h0M144.8 394.0h0M141.8 410.1h0M170.2 410.1h0M173.4 301.2h0"/><path class="k18" d="M172.3 392.4h0M117.0 393.2h0M154.3 422.1h0M160.8 438.9h0M116.5 424.5h0M158.3 443.7h0M144.5 295.6h0M131.3 344.4h0M96.8 295.6h0M166.6 472.5h0M165.7 391.6h0M148.9 442.9h0M167.6 291.6h0M128.9 423.7h0M137.4 393.2h0M156.1 395.6h0M181.0 472.5h0M133.8 376.4h0M143.3 490.1h0M143.5 474.1h0M152.7 438.1h0M149.8 438.1h0M139.0 328.4h0M114.6 297.2h0M159.5 405.3h0M148.2 294.8h0M162.5 294.0h0M120.5 344.4h0M139.4 295.6h0M146.3 330.0h0M183.9 439.7h0M158.3 487.7h0M167.4 438.1h0M138.9 472.5h0M166.7 290.8h0M141.4 490.1h0M100.0 328.4h0M115.1 391.6h0M148.1 425.3h0M163.3 443.7h0M150.8 330.0h0M188.9 394.8h0M113.7 423.7h0M188.8 470.9h0M150.1 376.4h0M138.6 298.0h0M159.4 294.0h0M142.8 437.3h0M152.1 391.6h0M185.8 472.5h0M146.7 358.8h0M115.5 295.6h0M149.0 440.5h0M188.2 442.1h0M132.9 470.1h0M106.9 296.4h0M187.3 474.1h0M182.2 471.7h0M182.3 472.5h0M133.4 456.5h0M167.1 475.7h0M154.1 471.7h0M134.4 390.8h0M147.6 421.3h0M163.6 326.8h0M128.1 298.0h0M125.8 295.6h0M150.2 362.0h0M154.6 326.8h0M143.6 358.8h0M122.6 392.4h0"/><path class="k10" d="M143.4 295.6h0M143.3 426.1h0M134.8 486.9h0M168.2 302.0h0M147.2 330.0h0M148.9 389.2h0M151.5 394.0h0M151.6 295.6h0M164.1 471.7h0M162.7 483.7h0M150.5 396.4h0M166.2 424.5h0M188.2 473.3h0M159.1 298.0h0M165.9 485.3h0M163.7 490.9h0M173.8 296.4h0M153.4 330.8h0M157.9 486.9h0M152.3 390.8h0M152.5 476.5h0M136.5 422.9h0M142.8 422.1h0M158.0 359.6h0M147.0 326.8h0M145.7 360.4h0M164.8 390.8h0"/><path class="k1" d="M161.0 308.3h0M180.0 329.2h0M179.7 409.3h0M167.1 422.1h0M189.6 391.6h0M155.5 393.2h0M159.2 344.4h0M158.4 378.4h0M160.1 338.9h0M151.2 484.5h0M161.0 313.2h0M184.7 393.2h0M158.4 457.3h0M157.4 391.6h0M170.0 330.0h0M132.9 474.9h0M174.9 360.4h0M156.8 506.1h0M159.3 371.7h0M172.9 472.5h0M171.2 299.6h0M189.7 423.7h0M178.7 407.7h0M169.0 364.4h0M172.0 410.1h0M164.8 332.4h0M162.4 344.4h0M165.9 409.3h0M190.4 422.9h0M158.3 345.3h0M180.5 294.8h0M158.6 504.5h0M160.1 348.4h0M140.7 487.7h0M170.5 489.3h0M180.1 407.7h0M167.5 408.5h0M159.3 370.9h0M182.8 488.5h0M167.8 390.8h0M178.2 489.3h0M161.0 484.5h0M168.9 330.8h0M138.4 296.4h0M158.5 294.8h0M167.4 389.2h0M161.8 361.2h0M152.8 410.9h0M166.2 422.1h0M159.3 374.9h0M161.0 341.1h0M161.0 339.5h0M203.3 297.2h0M168.7 290.8h0M159.2 343.6h0M192.0 297.2h0M146.3 469.3h0M185.3 390.0h0M166.2 407.7h0M171.7 394.0h0M159.9 489.3h0M163.7 332.4h0M158.6 509.1h0M159.3 372.5h0M174.3 360.4h0M160.1 347.6h0M162.8 329.2h0M160.2 457.3h0M166.4 397.2h0M196.1 297.2h0M163.8 395.6h0M150.2 408.5h0M161.9 428.5h0M158.3 347.9h0M167.0 296.4h0M162.4 311.5h0M166.1 423.7h0M162.0 486.1h0M158.6 499.1h0M159.3 454.8h0M187.8 298.8h0M157.5 344.4h0M158.3 341.8h0M166.6 358.0h0M157.5 312.4h0M176.2 361.2h0M155.6 427.7h0M160.7 330.0h0M185.1 394.8h0M195.1 489.3h0M173.1 394.8h0M163.9 301.2h0M179.4 426.9h0M175.8 392.4h0M161.0 346.1h0M185.3 391.6h0M158.4 454.7h0M114.8 439.7h0M160.2 450.8h0M160.2 460.5h0M149.4 422.1h0M163.8 324.4h0M160.1 339.7h0M170.2 365.2h0M177.3 408.5h0M159.2 313.2h0M187.8 296.4h0M140.8 392.4h0M159.5 505.3h0M169.3 486.9h0M178.6 394.8h0M151.9 326.8h0M177.6 327.6h0M161.8 342.7h0M155.5 473.3h0M161.8 341.0h0M159.3 458.9h0M136.5 407.7h0M158.6 503.0h0"/><path class="k3" d="M163.2 490.1h0M155.0 296.4h0M172.1 361.2h0M172.0 491.7h0M166.7 429.3h0M162.6 493.3h0M132.8 392.4h0M176.3 394.0h0M158.8 484.5h0M167.6 292.4h0M173.5 389.2h0M185.4 296.4h0M179.2 422.9h0M191.1 489.3h0M183.1 426.1h0M114.7 441.3h0M162.0 297.2h0M192.5 392.4h0M187.4 487.7h0M185.8 390.8h0M179.6 292.4h0M154.8 327.6h0M145.7 389.2h0M176.0 486.9h0M172.6 492.5h0M154.4 410.1h0M153.5 489.3h0M192.9 422.9h0M159.9 330.0h0M145.1 406.9h0M131.6 490.1h0M166.1 490.1h0M182.1 299.6h0M186.0 486.9h0M167.0 490.1h0M188.4 408.5h0M159.9 490.9h0M174.8 358.8h0M188.6 295.6h0M90.2 296.4h0M142.0 472.5h0M163.5 300.4h0M152.2 396.4h0M162.2 411.7h0M183.1 292.4h0M161.8 490.9h0M196.2 424.5h0M162.2 324.4h0M175.4 423.7h0M180.0 425.3h0M175.4 297.2h0M159.8 392.4h0M132.8 473.3h0M174.1 393.2h0M159.0 420.5h0M152.1 392.4h0M176.5 489.3h0M201.5 488.5h0M157.6 300.4h0M139.2 441.3h0M141.7 474.1h0M153.4 362.0h0M158.4 410.9h0"/><path class="k12" d="M178.6 471.7h0M172.6 390.8h0M181.4 299.6h0M186.1 329.2h0M128.0 440.5h0M134.3 438.1h0M149.6 489.3h0M156.0 330.8h0M130.6 424.5h0M174.6 443.7h0M137.9 490.9h0M155.9 477.3h0M132.2 296.4h0"/><path class="k2" d="M154.6 421.3h0M165.0 376.4h0M180.2 426.9h0M186.5 390.0h0M108.2 440.5h0M155.3 389.2h0M194.7 294.8h0M203.2 488.5h0M164.8 326.8h0M168.6 291.6h0M154.0 405.3h0M164.4 407.7h0M160.0 394.8h0M149.5 491.7h0M155.5 330.0h0M164.6 359.6h0M161.5 322.8h0M175.0 393.2h0M184.5 486.9h0M160.2 488.5h0M169.1 355.6h0M179.7 488.5h0M154.0 328.4h0M188.3 488.5h0M180.9 486.1h0M143.6 406.9h0M113.7 472.5h0M190.1 294.8h0M172.1 329.2h0M162.1 470.9h0M157.7 299.6h0M147.3 487.7h0M160.7 410.1h0M152.5 359.6h0M153.8 422.1h0M145.2 424.5h0M184.0 394.0h0M146.9 421.3h0M170.3 395.6h0M147.6 298.0h0M199.6 296.4h0M157.8 298.0h0M173.9 491.7h0M179.2 294.0h0M181.0 485.3h0M156.1 404.5h0M153.8 438.1h0M172.3 362.8h0M163.6 291.6h0M159.5 294.8h0M126.9 471.7h0M197.0 489.3h0M160.4 296.4h0M134.7 409.3h0M150.1 406.9h0M180.7 392.4h0M164.4 389.2h0M191.7 426.1h0M166.7 493.3h0M175.7 362.8h0M144.2 473.3h0M163.8 326.0h0M157.1 486.9h0M175.1 424.5h0M162.9 294.8h0M184.5 490.9h0M164.2 421.3h0"/><path class="k15" d="M131.5 328.4h0M156.6 443.7h0M148.3 445.3h0M154.6 410.9h0M184.5 473.3h0M155.9 298.8h0M157.6 443.7h0M164.2 427.7h0M140.2 439.7h0M132.8 296.4h0M149.0 473.3h0M177.2 470.9h0M148.7 436.5h0M144.1 426.1h0M129.9 391.6h0M151.6 358.0h0M137.9 295.6h0M161.3 436.5h0M149.4 328.4h0M150.5 439.7h0M149.9 330.8h0M145.1 438.1h0M131.0 423.7h0M163.7 424.5h0M183.3 441.3h0M106.6 393.2h0M123.6 488.5h0M124.5 295.6h0M152.5 486.9h0M140.0 426.9h0M189.0 294.8h0M146.6 361.2h0M143.1 422.9h0M150.6 299.6h0M186.2 294.0h0M115.8 297.2h0M150.5 472.5h0M159.5 486.9h0M178.8 443.7h0M128.1 490.1h0M129.9 298.0h0M151.9 421.3h0M143.3 444.5h0M127.7 394.0h0M158.8 299.6h0M159.3 470.9h0M153.7 474.1h0M151.8 442.1h0M138.1 442.9h0M170.8 474.9h0M157.7 358.8h0M156.8 422.9h0M144.4 327.6h0M127.9 438.9h0M139.4 294.0h0M173.3 472.5h0M161.5 467.7h0M169.0 437.3h0M173.5 363.6h0M129.1 487.7h0M121.1 297.2h0M140.1 442.9h0M145.9 425.3h0M169.6 394.0h0M150.2 330.0h0M180.4 438.1h0M142.1 392.4h0M138.4 327.6h0M114.7 392.4h0M160.9 474.1h0M178.1 439.7h0M151.3 396.4h0M170.5 436.5h0M170.8 475.7h0"/><path class="k0" d="M173.2 426.1h0M141.7 312.4h0M159.3 375.6h0M159.2 348.6h0M152.8 406.1h0M155.7 406.9h0M165.9 393.2h0M188.6 422.1h0M163.1 328.4h0M162.0 409.3h0M165.4 358.8h0M160.1 407.7h0M172.5 390.0h0M156.9 410.9h0M168.2 360.4h0M159.6 361.2h0M170.0 428.5h0M172.8 407.7h0M127.2 440.5h0M188.0 293.2h0M186.5 394.8h0M175.8 487.7h0M163.8 397.2h0M167.2 362.0h0M149.8 411.7h0M173.9 390.0h0M160.0 490.1h0M116.6 471.7h0M172.6 330.8h0M164.3 328.4h0M196.3 390.8h0M153.5 408.5h0M172.1 358.0h0M135.3 487.7h0M158.4 376.4h0M180.9 294.0h0M161.9 326.0h0M167.8 376.4h0M156.4 422.1h0M152.0 376.4h0M177.2 490.1h0M178.2 487.7h0M151.5 328.4h0M163.4 361.2h0M125.5 408.5h0M185.4 393.2h0M158.6 503.7h0M161.0 426.1h0M182.2 426.1h0M175.4 301.2h0M169.4 328.4h0M186.0 296.4h0M166.0 428.5h0M172.5 394.8h0M148.8 410.9h0M167.6 487.7h0M124.3 471.7h0M186.5 486.9h0M189.8 295.6h0M171.6 488.5h0M142.5 409.3h0M169.9 358.8h0M170.5 486.9h0M190.1 487.7h0M175.5 409.3h0M172.4 486.9h0M170.8 328.4h0M161.8 314.1h0M188.6 298.0h0M180.6 490.1h0M157.5 403.7h0M171.8 301.2h0M180.1 394.0h0M185.9 328.4h0M165.4 291.6h0M193.2 394.0h0M142.5 327.6h0M189.3 394.0h0M150.9 326.8h0M172.6 356.4h0M173.5 426.9h0M155.2 376.4h0M167.7 363.6h0M172.5 298.8h0M175.2 292.4h0M161.8 343.6h0M163.8 486.9h0M144.4 394.8h0M178.8 293.2h0M173.1 488.5h0M182.7 392.4h0M175.0 362.8h0M191.3 424.5h0M159.5 498.9h0M184.3 425.3h0M173.0 484.5h0M179.5 361.2h0M163.2 492.5h0M195.2 393.2h0M134.9 470.9h0M100.0 440.5h0M160.1 346.8h0M160.1 307.7h0M162.3 491.7h0M172.3 359.6h0M188.3 389.2h0"/><path class="k16" d="M145.9 439.7h0M114.1 424.5h0M174.7 326.0h0M159.9 442.9h0M176.7 471.7h0M116.6 487.7h0M175.9 443.7h0M137.1 438.1h0M159.6 426.9h0M144.9 410.1h0M144.8 441.3h0M146.0 296.4h0M150.0 294.0h0M125.8 473.3h0M151.3 392.4h0M124.2 297.2h0M179.6 470.1h0M149.9 293.2h0M142.9 490.9h0M164.3 325.2h0M154.7 475.7h0M92.0 296.4h0M194.2 441.3h0M155.7 332.4h0M149.3 474.9h0M132.7 486.9h0M110.7 391.6h0M129.1 470.9h0M167.0 436.5h0M152.7 292.4h0M159.6 474.1h0M153.2 437.3h0M188.0 439.7h0M101.6 295.6h0M136.6 438.1h0M156.5 485.3h0M159.1 438.1h0M159.3 475.7h0M138.6 437.3h0M106.1 296.4h0M157.0 442.1h0M157.2 360.4h0M142.8 443.7h0M136.2 392.4h0M161.7 442.9h0M153.7 440.5h0M151.7 330.0h0M133.3 426.1h0M140.1 390.0h0M150.9 437.3h0M173.6 470.9h0M167.8 468.5h0M141.1 391.6h0M164.4 295.6h0M152.2 441.3h0M136.7 298.0h0M173.3 471.7h0M125.5 393.2h0M131.3 488.5h0M130.6 294.8h0M113.6 391.6h0M96.5 297.2h0M176.5 295.6h0M155.3 359.6h0M175.9 486.1h0M170.8 393.2h0M165.4 299.6h0M158.1 297.2h0M108.1 296.4h0"/><path class="k10" d="M168.2 490.9h0M185.2 470.9h0M184.1 392.4h0M156.2 492.5h0M168.6 468.5h0M172.4 437.3h0M166.5 424.5h0M194.1 425.3h0M158.7 291.6h0M123.3 471.7h0M180.6 298.8h0M133.5 442.9h0M153.8 331.6h0"/><path class="k8" d="M156.6 472.5h0M167.8 443.7h0M154.2 488.5h0M128.2 328.4h0M163.5 492.5h0M159.2 407.7h0M185.4 295.6h0M190.8 490.1h0M152.1 425.3h0M130.5 439.7h0M142.3 426.9h0M139.9 394.0h0M152.0 474.1h0M163.6 359.6h0M166.5 329.2h0M171.6 361.2h0M165.0 397.2h0M177.3 299.6h0M175.5 425.3h0"/><path class="k17" d="M134.6 294.8h0M95.0 295.6h0M164.4 422.1h0M149.9 299.6h0M168.4 395.6h0M99.3 296.4h0M161.5 470.9h0M152.5 394.8h0M187.7 470.9h0M124.9 392.4h0M148.2 422.9h0M157.6 324.4h0M147.4 471.7h0M179.6 474.9h0M152.8 439.7h0M131.3 295.6h0M170.6 471.7h0M196.1 298.0h0M148.6 471.7h0M178.3 294.0h0M145.8 394.0h0M134.7 424.5h0M134.0 390.0h0M169.6 427.7h0M154.1 437.3h0M128.7 471.7h0M148.8 474.1h0M165.2 295.6h0M168.4 441.3h0M145.5 359.6h0M133.3 328.4h0M142.3 470.9h0M153.7 474.9h0M142.3 474.1h0M139.4 329.2h0M136.2 426.9h0M163.2 473.3h0M149.5 486.1h0M110.1 424.5h0M153.1 360.4h0M128.6 344.4h0M141.2 474.9h0M192.3 473.3h0M161.4 292.4h0M140.8 439.7h0M108.0 488.5h0M177.1 438.9h0M173.2 440.5h0M141.3 426.9h0M153.3 298.8h0M183.8 441.3h0M151.4 436.5h0M147.1 393.2h0M169.1 470.9h0M160.2 408.5h0M139.2 486.9h0M170.6 438.1h0M88.8 296.4h0M150.7 442.9h0M169.1 295.6h0M136.9 471.7h0M140.0 486.1h0"/><path class="k3" d="M181.8 422.1h0M155.3 490.9h0M168.8 490.1h0M173.9 423.7h0M150.0 470.1h0M159.2 490.1h0M156.0 292.4h0M166.3 408.5h0M155.5 412.5h0M153.3 425.3h0M158.0 327.6h0M167.6 361.2h0M179.4 491.7h0M155.8 410.1h0M175.3 488.5h0M120.3 473.3h0M167.9 421.3h0M184.2 408.5h0M200.5 295.6h0M132.6 438.9h0M128.8 408.5h0M189.8 298.8h0M160.0 486.1h0M161.2 406.9h0M154.5 413.3h0M175.3 475.7h0M187.6 425.3h0M136.2 442.9h0M148.0 469.3h0M180.3 300.4h0M162.3 492.5h0M197.1 487.7h0M151.7 426.1h0M160.4 360.4h0M174.2 485.3h0M163.0 488.5h0M165.5 406.1h0M193.5 424.5h0M148.4 359.6h0M167.5 325.2h0M171.5 484.5h0M184.2 329.2h0M145.6 408.5h0M160.5 293.2h0M174.2 326.8h0M168.3 361.2h0M141.9 486.9h0M157.6 294.0h0M187.7 394.0h0M158.0 490.1h0M146.1 390.0h0M195.3 488.5h0M168.6 330.8h0M158.5 421.3h0M174.7 359.6h0M185.4 294.8h0M168.3 408.5h0M141.4 471.7h0M158.0 361.2h0M198.2 295.6h0M165.0 362.0h0M165.1 408.5h0M145.9 488.5h0M182.0 300.4h0M185.7 394.0h0M131.0 408.5h0M173.3 487.7h0M151.5 490.9h0M132.5 487.7h0"/><path class="k11" d="M150.3 438.9h0M127.6 425.3h0M143.6 410.1h0M141.0 470.1h0M92.0 297.2h0M157.8 391.6h0M161.6 427.7h0M165.2 426.9h0M151.8 422.1h0M150.0 328.4h0M136.1 426.1h0M136.0 474.1h0M151.2 487.7h0M124.2 473.3h0M112.0 488.5h0M109.7 488.5h0M167.7 435.7h0M178.1 297.2h0M175.9 296.4h0M155.8 425.3h0"/><path class="k4" d="M178.8 490.9h0M153.1 412.5h0M187.0 426.9h0M128.8 440.5h0M162.8 332.4h0M171.4 390.0h0M83.7 296.4h0M187.2 408.5h0M158.4 422.1h0M138.3 393.2h0M134.8 438.9h0M199.3 392.4h0M184.7 298.8h0M174.3 291.6h0M185.8 422.1h0M160.6 299.6h0M171.0 395.6h0M193.8 294.8h0M164.9 472.5h0M185.6 426.1h0M165.0 394.8h0M142.1 410.1h0M176.6 359.6h0M154.9 300.4h0M166.9 426.9h0M176.8 298.0h0M162.8 326.8h0M160.3 298.0h0M185.8 293.2h0M186.4 390.8h0M161.8 427.7h0M189.5 488.5h0M192.2 391.6h0M173.1 392.4h0M167.1 442.1h0"/><path class="k7" d="M162.2 469.3h0M157.3 490.9h0M170.2 363.6h0M120.0 391.6h0M174.2 362.0h0M171.2 410.1h0M178.2 393.2h0M111.1 471.7h0M155.3 468.5h0M163.0 390.0h0M177.2 486.1h0M157.5 424.5h0M158.8 330.0h0M162.1 490.1h0M172.4 298.0h0M171.6 408.5h0M167.5 360.4h0M158.7 298.8h0"/><path class="k6" d="M162.6 326.0h0M143.0 491.7h0M166.8 390.0h0M170.9 296.4h0M154.6 330.8h0M183.0 489.3h0M175.0 408.5h0M192.6 425.3h0M177.2 391.6h0M151.2 390.0h0M158.9 407.7h0M166.4 490.9h0M173.5 393.2h0M172.6 291.6h0M155.7 360.4h0M133.5 407.7h0M187.7 295.6h0M132.0 439.7h0M161.9 390.0h0"/><path class="k13" d="M148.8 427.7h0M144.6 395.6h0M138.4 442.1h0M177.2 472.5h0M146.4 468.5h0M154.7 470.9h0M136.5 487.7h0M141.9 438.1h0M158.8 487.7h0M138.9 490.1h0M154.5 425.3h0M155.9 475.7h0M159.1 469.3h0M172.2 389.2h0M153.2 441.3h0M140.4 443.7h0M139.8 327.6h0M130.3 391.6h0M150.6 358.0h0M135.1 439.7h0"/><path class="k12" d="M169.5 391.6h0M178.7 296.4h0M151.5 390.8h0M160.5 331.6h0M173.8 424.5h0M153.1 470.1h0M149.1 468.5h0M167.9 490.9h0M161.0 390.8h0M135.4 470.9h0M140.7 474.1h0M160.9 396.4h0M149.9 297.2h0M160.1 295.6h0M164.0 484.5h0M141.3 490.9h0M138.0 439.7h0M138.3 438.9h0M159.4 442.9h0M166.7 470.9h0"/><path class="k5" d="M160.1 326.0h0M111.9 439.7h0M158.5 488.5h0M155.7 328.4h0M159.7 408.5h0M152.8 411.7h0M152.2 492.5h0M174.8 469.3h0M179.5 296.4h0M139.2 393.2h0M174.7 292.4h0M168.3 390.8h0M193.0 390.0h0M171.1 294.8h0M156.3 487.7h0M178.9 391.6h0M193.2 392.4h0M181.4 294.8h0M168.9 410.1h0M173.8 427.7h0M154.3 427.7h0M157.9 395.6h0"/><path class="k19" d="M148.0 470.9h0M159.8 476.5h0M152.0 477.3h0M181.1 295.6h0M170.9 440.5h0M145.3 294.8h0M127.0 390.8h0M164.8 473.3h0M141.1 436.5h0M166.7 440.5h0M138.5 470.9h0M110.9 487.7h0M141.5 423.7h0M161.3 439.7h0M132.0 426.1h0M140.6 470.9h0M156.5 470.1h0M129.8 312.4h0M101.5 296.4h0M144.5 488.5h0M165.9 426.1h0M110.3 297.2h0M144.2 471.7h0M122.4 295.6h0M109.0 392.4h0M127.8 328.4h0M152.1 428.5h0M152.5 472.5h0M160.7 412.5h0M159.8 471.7h0M136.4 440.5h0M156.9 299.6h0M168.5 486.1h0M113.0 471.7h0M125.5 456.5h0M150.9 438.1h0M178.0 470.1h0M134.0 393.2h0M163.2 442.1h0M126.7 489.3h0M157.2 292.4h0M185.2 474.1h0M186.0 474.9h0M174.0 442.9h0M148.0 294.0h0M196.8 472.5h0M175.3 438.1h0M137.8 297.2h0M159.4 486.1h0M143.4 469.3h0M121.5 425.3h0M125.0 490.1h0M162.1 436.5h0M137.0 328.4h0M172.4 436.5h0M151.6 472.5h0M164.8 437.3h0M148.9 444.5h0M136.5 376.4h0M171.1 473.3h0M167.3 441.3h0M141.3 442.9h0M190.4 474.1h0M138.5 294.8h0M155.8 294.8h0M130.2 423.7h0M148.9 426.1h0M181.6 441.3h0M161.8 443.7h0M167.6 442.1h0M117.0 312.4h0M131.9 424.5h0M143.8 389.2h0M170.2 442.9h0M152.2 298.0h0M125.1 393.2h0M146.5 475.7h0M115.6 488.5h0M126.2 474.1h0M139.4 426.1h0M156.8 291.6h0M137.8 504.5h0M167.7 470.9h0M148.7 361.2h0M157.4 298.8h0M160.0 470.1h0M167.8 440.5h0M173.7 470.1h0M143.1 440.5h0M146.2 326.8h0M141.0 295.6h0"/><path class="k1" d="M159.2 316.5h0M157.3 413.3h0M184.6 426.1h0M196.9 393.2h0M179.3 489.3h0M168.5 491.7h0M173.6 407.7h0M149.5 358.0h0M199.5 408.5h0M162.4 313.4h0M196.1 489.3h0M194.4 424.5h0M191.5 487.7h0M120.5 439.7h0M159.5 327.6h0M171.1 356.4h0M141.4 408.5h0M161.0 340.3h0M144.5 407.7h0M159.2 345.3h0M140.3 488.5h0M153.6 393.2h0M177.1 426.9h0M183.7 487.7h0M160.1 344.4h0M110.9 472.5h0M178.2 423.7h0M180.6 360.4h0M158.6 506.0h0M158.4 374.5h0M161.0 344.4h0M171.1 294.0h0M171.8 489.3h0M157.0 395.6h0M190.3 394.0h0M157.7 507.5h0M175.1 326.8h0M160.2 451.6h0M179.7 390.0h0M173.6 326.0h0M159.2 314.9h0M158.3 309.8h0M162.6 359.6h0M178.9 486.9h0M160.2 454.9h0M175.9 359.6h0M159.2 410.1h0M189.7 426.1h0M184.8 394.0h0M168.1 406.9h0M175.8 391.6h0M190.1 328.4h0M182.7 486.9h0M143.9 422.1h0M199.3 297.2h0M158.3 309.0h0M181.3 407.7h0M175.1 407.7h0M177.4 394.8h0M161.8 309.0h0M138.3 424.5h0M140.8 438.1h0M160.1 313.2h0M171.5 427.7h0M162.8 296.4h0M143.2 344.4h0M152.4 394.0h0M145.1 296.4h0M111.8 473.3h0M190.1 392.4h0M109.2 440.5h0M188.2 392.4h0M153.4 491.7h0M159.2 314.1h0M155.2 443.7h0M192.6 298.8h0M160.2 423.7h0M146.0 407.7h0M158.4 456.5h0M148.3 488.5h0M177.0 390.0h0M145.2 312.4h0M156.8 502.9h0M147.3 410.1h0M158.4 453.0h0M143.5 393.2h0M179.6 360.4h0M157.5 343.5h0M162.2 391.6h0M161.8 313.3h0M160.1 311.6h0M159.3 461.4h0M117.4 441.3h0M156.6 405.3h0M166.9 409.3h0M164.3 324.4h0M140.3 470.1h0M159.2 346.1h0M158.6 502.2h0M157.7 502.3h0M161.8 309.8h0M151.6 408.5h0M159.5 506.1h0M160.1 317.2h0M138.4 438.1h0M153.7 396.4h0M191.3 393.2h0M204.1 296.4h0M157.5 455.5h0M177.3 295.6h0M169.4 423.7h0M167.2 328.4h0"/><path class="k2" d="M163.9 428.5h0M165.5 489.3h0M172.1 327.6h0M169.6 358.8h0M133.7 441.3h0M185.8 298.0h0M169.4 393.2h0M151.9 410.9h0M200.3 297.2h0M162.9 426.1h0M161.1 422.1h0M174.3 486.1h0M173.2 425.3h0M158.8 392.4h0M162.7 407.7h0M178.7 485.3h0M176.3 422.1h0M180.0 409.3h0M166.5 326.8h0M140.5 438.1h0M194.4 393.2h0M161.1 421.3h0M180.3 489.3h0M163.9 297.2h0M156.6 300.4h0M157.3 389.2h0M165.1 422.9h0M189.4 294.0h0M177.5 425.3h0M169.6 330.0h0M160.4 395.6h0M161.3 298.8h0M190.4 296.4h0M172.7 487.7h0M167.9 486.1h0M117.5 440.5h0M184.2 489.3h0M158.7 391.6h0M154.0 329.2h0M172.1 490.1h0M171.0 358.0h0M183.9 294.0h0M177.1 329.2h0M159.4 293.2h0M158.1 423.7h0M181.3 487.7h0M155.0 403.7h0M175.0 490.9h0M166.1 291.6h0M148.8 421.3h0M183.5 486.9h0M152.6 358.8h0M178.9 328.4h0M141.7 490.9h0M170.3 486.1h0M199.6 392.4h0M170.4 390.0h0M157.2 421.3h0M153.8 410.9h0M167.4 392.4h0M170.5 389.2h0M183.0 491.7h0M177.6 330.0h0M175.1 491.7h0M182.6 490.9h0M178.1 486.9h0M192.2 390.8h0M185.0 298.0h0M164.1 388.4h0M164.4 423.7h0M203.3 296.4h0M156.9 388.4h0M156.9 484.5h0M161.7 397.2h0M190.0 297.2h0M118.3 441.3h0M158.7 359.6h0M175.2 426.1h0M180.7 390.0h0M166.6 331.6h0M110.0 472.5h0M202.4 295.6h0"/><path class="k18" d="M154.4 486.1h0M122.1 471.7h0M137.4 437.3h0M147.5 361.2h0M152.6 436.5h0M154.2 395.6h0M140.4 436.5h0M140.6 360.4h0M142.4 436.5h0M145.3 473.3h0M150.8 393.2h0M184.9 472.5h0M191.3 442.1h0M187.2 473.3h0M163.0 437.3h0M161.8 389.2h0M148.2 327.6h0M182.8 298.0h0M185.7 470.9h0M174.9 437.3h0M141.6 486.1h0M166.2 300.4h0M149.4 344.4h0M147.6 360.4h0M177.8 441.3h0M108.1 391.6h0M120.4 487.7h0M130.8 456.5h0M152.9 474.1h0M149.8 473.3h0M175.8 473.3h0M145.2 474.1h0M140.8 489.3h0M154.3 474.1h0M190.9 473.3h0M143.3 376.4h0M189.6 474.1h0M132.5 504.5h0M166.3 359.6h0M199.9 440.5h0M161.1 392.4h0M198.0 440.5h0M139.8 297.2h0M145.1 422.9h0M155.6 422.1h0M134.0 298.0h0M146.1 422.9h0M175.4 438.9h0M149.2 467.7h0M146.9 488.5h0M137.8 298.0h0M127.2 312.4h0M145.5 391.6h0M137.5 426.9h0M144.7 392.4h0M140.5 474.9h0M158.1 387.6h0M168.1 439.7h0M166.3 473.3h0M159.3 412.5h0M152.7 296.4h0M141.8 422.9h0M122.1 392.4h0M166.6 443.7h0M139.2 296.4h0M122.2 298.0h0M152.1 328.4h0M135.4 426.1h0M179.3 442.9h0M146.0 297.2h0M151.0 435.7h0M156.1 436.5h0M144.5 489.3h0M114.5 312.4h0M118.4 487.7h0"/><path class="k9" d="M162.2 394.0h0M186.9 298.0h0M164.1 300.4h0M153.3 426.1h0M148.6 299.6h0M152.9 424.5h0M183.8 442.1h0M164.2 293.2h0M157.5 396.4h0M127.8 474.1h0M181.5 329.2h0M148.7 395.6h0"/><path class="k14" d="M127.3 473.3h0M148.8 438.1h0M118.6 391.6h0M133.5 297.2h0M130.7 298.0h0M150.9 468.5h0M130.6 390.8h0M145.2 486.9h0M165.1 442.9h0M167.7 293.2h0M158.3 293.2h0M156.4 428.5h0M129.7 470.9h0M161.1 443.7h0M163.9 474.9h0M133.7 472.5h0M136.3 490.1h0M181.1 474.9h0M94.2 296.4h0M139.7 328.4h0M150.7 358.8h0M132.7 488.5h0M141.4 486.9h0M137.0 394.0h0M126.9 439.7h0M143.8 424.5h0"/><path class="k5" d="M168.9 326.8h0M131.8 440.5h0M169.1 427.7h0M206.7 296.4h0M138.2 489.3h0M182.8 327.6h0M182.3 425.3h0M141.2 406.9h0M159.0 295.6h0M181.5 485.3h0M168.7 420.5h0M131.6 472.5h0M139.4 422.1h0M147.9 410.1h0M189.5 390.0h0M171.4 390.8h0M166.5 389.2h0M162.9 299.6h0M185.7 298.8h0M161.5 392.4h0M175.0 294.0h0"/><path class="k18" d="M125.9 294.8h0M137.4 456.5h0M168.0 436.5h0M148.0 326.8h0M126.2 490.1h0M143.6 361.2h0M138.4 390.8h0M163.4 472.5h0M181.7 443.7h0M184.9 440.5h0M152.8 326.0h0M187.2 471.7h0M149.4 490.9h0M156.7 294.8h0M115.0 424.5h0M146.5 490.1h0M158.3 390.0h0M113.8 295.6h0M150.6 443.7h0M152.3 444.5h0M147.8 299.6h0M166.7 471.7h0M187.6 442.1h0M132.3 312.4h0M125.0 425.3h0M163.5 392.4h0M175.2 442.9h0M149.6 436.5h0M148.6 362.0h0M151.2 358.8h0M183.8 472.5h0M119.8 295.6h0M170.4 491.7h0M129.9 344.4h0M161.2 442.1h0M144.4 475.7h0M105.2 296.4h0M161.9 301.2h0M126.8 488.5h0M141.3 424.5h0M144.8 298.0h0M148.6 475.7h0M178.5 472.5h0M136.7 296.4h0M150.7 469.3h0M136.5 425.3h0M176.4 475.7h0M155.2 329.2h0M170.6 437.3h0M145.7 436.5h0M150.3 444.5h0M137.8 425.3h0M132.4 394.0h0M125.1 488.5h0M160.2 409.3h0M120.7 424.5h0M144.3 297.2h0M139.0 439.7h0M148.9 294.0h0M143.8 362.0h0M147.0 473.3h0M158.8 394.0h0M194.8 473.3h0M165.4 397.2h0M139.1 394.8h0M136.7 344.4h0M191.2 394.8h0M146.1 476.5h0M139.8 489.3h0M147.9 473.3h0M147.2 295.6h0M176.2 470.1h0M136.8 295.6h0M150.3 436.5h0"/><path class="k16" d="M145.1 475.7h0M151.7 438.1h0M167.3 293.2h0M130.5 297.2h0M168.4 358.8h0M134.6 472.5h0M157.5 438.9h0M133.7 422.9h0M130.2 296.4h0M124.2 422.9h0M139.3 437.3h0M160.0 425.3h0M121.5 296.4h0M146.3 299.6h0M108.4 297.2h0M156.7 406.1h0M166.7 445.3h0M147.2 298.0h0M165.1 469.3h0M130.5 440.5h0M142.9 427.7h0M119.5 297.2h0M123.6 487.7h0M106.0 297.2h0M148.1 476.5h0M178.4 470.9h0M121.3 424.5h0M165.1 421.3h0M181.8 438.9h0M199.9 472.5h0M124.1 394.0h0M152.4 423.7h0M157.5 323.6h0M166.2 469.3h0M144.8 472.5h0M171.0 357.2h0M176.4 291.6h0M142.4 296.4h0M189.8 471.7h0M191.6 472.5h0M129.7 487.7h0M191.7 438.9h0M128.9 439.7h0M166.8 421.3h0M141.6 358.8h0M135.0 426.1h0M175.3 294.0h0M173.0 406.9h0M176.1 439.7h0M159.1 441.3h0M164.5 442.1h0M151.8 441.3h0M168.2 473.3h0M143.9 487.7h0M128.9 424.5h0M155.0 409.3h0M147.4 439.7h0M152.0 423.7h0M168.5 424.5h0M125.2 298.0h0M125.8 328.4h0M141.3 298.8h0M137.8 360.4h0M182.1 442.1h0M137.3 488.5h0M171.7 293.2h0M140.2 437.3h0M120.8 391.6h0M140.1 425.3h0M147.0 474.1h0M189.7 438.9h0M195.5 471.7h0"/><path class="k2" d="M154.7 490.9h0M192.3 328.4h0M140.8 443.7h0M164.0 488.5h0M157.7 388.4h0M146.6 389.2h0M181.4 297.2h0M161.8 483.7h0M183.0 485.3h0M179.4 328.4h0M158.3 428.5h0M171.3 362.0h0M158.9 485.3h0M172.5 393.2h0M160.7 323.6h0M201.2 296.4h0M171.1 326.8h0M176.3 394.8h0M176.2 423.7h0M169.6 489.3h0M198.9 295.6h0M169.1 476.5h0M173.2 390.8h0M138.1 392.4h0M178.2 392.4h0M159.4 423.7h0M142.1 407.7h0M161.2 406.1h0M192.9 487.7h0M165.9 486.9h0M165.2 471.7h0M153.1 404.5h0M165.2 424.5h0M168.7 409.3h0M174.4 409.3h0M167.6 484.5h0M180.3 298.0h0M178.0 422.1h0M164.7 390.0h0M169.5 441.3h0M121.0 473.3h0M177.2 298.8h0M169.2 362.0h0M161.6 324.4h0M192.9 296.4h0M153.6 376.4h0M155.1 486.1h0M104.9 440.5h0M156.8 390.0h0M142.6 406.9h0M169.7 424.5h0M159.2 389.2h0M155.1 396.4h0M165.7 483.7h0M193.5 294.0h0M148.4 407.7h0M160.6 426.1h0M176.4 472.5h0M167.3 362.8h0M147.8 442.9h0M135.4 408.5h0M173.0 294.8h0M169.3 365.2h0M189.1 489.3h0M170.4 355.6h0M157.6 410.9h0M165.6 331.6h0M172.3 425.3h0M176.8 362.0h0M177.7 362.0h0"/><path class="k12" d="M170.5 423.7h0M148.1 472.5h0M174.9 442.1h0M130.5 471.7h0M137.9 486.9h0M136.5 439.7h0M156.6 427.7h0M160.6 330.8h0M159.3 292.4h0M196.6 471.7h0M129.9 473.3h0M155.3 299.6h0M150.2 298.0h0M167.6 445.3h0M154.6 468.5h0M183.8 296.4h0M170.7 443.7h0M160.4 361.2h0M163.1 397.2h0M165.3 474.9h0M125.6 394.0h0M191.3 440.5h0"/><path class="k9" d="M188.5 474.1h0M163.6 333.2h0M128.4 441.3h0M157.1 358.8h0M160.5 443.7h0M152.7 393.2h0M159.3 300.4h0M151.0 440.5h0M176.9 292.4h0M153.1 390.0h0M136.5 409.3h0M159.1 436.5h0M143.6 443.7h0M155.3 423.7h0M117.4 296.4h0"/><path class="k1" d="M189.4 389.2h0M164.3 426.9h0M118.9 472.5h0M152.2 406.9h0M157.5 311.5h0M173.3 485.3h0M131.7 294.8h0M159.3 452.3h0M135.6 486.1h0M159.3 459.8h0M159.3 457.3h0M171.3 327.6h0M86.6 440.5h0M149.1 295.6h0M168.3 330.0h0M192.6 294.8h0M177.8 485.3h0M188.8 391.6h0M190.3 489.3h0M189.9 422.9h0M159.5 504.5h0M181.0 491.7h0M124.0 439.7h0M187.5 486.1h0M170.5 425.3h0M175.7 299.6h0M140.0 312.4h0M157.5 345.4h0M160.2 375.5h0M159.2 346.9h0M158.3 347.0h0M170.8 490.1h0M145.1 504.5h0M159.2 311.6h0M181.5 423.7h0M150.7 488.5h0M192.2 489.3h0M170.7 485.3h0M165.4 493.3h0M161.8 347.9h0M157.7 504.5h0M186.5 426.1h0M160.1 349.2h0M150.8 406.1h0M150.9 420.5h0M193.0 294.0h0M159.5 499.7h0M167.8 357.2h0M159.3 456.5h0M183.0 390.0h0M160.1 308.4h0M164.5 394.0h0M160.1 350.0h0M168.6 326.0h0M160.2 462.1h0M179.8 359.6h0M172.0 296.4h0M160.8 328.4h0M159.5 503.7h0M161.8 315.0h0M160.2 374.5h0M167.5 492.5h0M151.5 294.8h0M170.3 362.0h0M177.7 326.8h0M159.5 502.1h0M150.4 329.2h0M182.9 390.8h0M122.2 472.5h0M170.5 361.2h0M173.0 292.4h0M172.6 410.1h0M187.3 294.0h0M153.5 486.1h0M156.8 506.9h0M164.1 438.1h0M173.3 362.0h0M160.1 316.4h0M158.3 393.2h0M198.6 296.4h0M171.6 491.7h0M186.1 487.7h0M175.9 326.8h0M186.9 293.2h0M173.8 406.9h0M178.1 394.0h0M165.0 489.3h0M162.8 323.6h0M173.5 474.1h0M168.6 489.3h0M161.8 310.7h0M188.6 328.4h0M138.8 408.5h0M160.2 452.4h0M156.5 330.8h0M158.4 459.9h0M157.7 404.5h0"/><path class="k6" d="M168.9 388.4h0M172.1 295.6h0M165.9 475.7h0M193.6 393.2h0M159.5 298.8h0M190.4 486.9h0M144.0 298.0h0M110.2 472.5h0M179.1 295.6h0M164.3 409.3h0M162.2 387.6h0M156.3 423.7h0M143.7 489.3h0M155.6 388.4h0M118.3 439.7h0M156.1 389.2h0M173.0 327.6h0M177.1 300.4h0M185.9 297.2h0M123.7 473.3h0"/><path class="k13" d="M136.0 297.2h0M150.7 292.4h0M131.9 423.7h0M152.2 362.0h0M153.6 296.4h0M151.5 362.0h0M177.7 293.2h0M146.8 390.0h0M120.0 425.3h0M138.9 390.8h0M148.8 490.1h0M174.8 475.7h0M168.2 296.4h0"/><path class="k19" d="M154.2 442.1h0M138.5 422.1h0M153.2 358.8h0M167.4 300.4h0M155.8 298.0h0M140.4 486.9h0M143.3 329.2h0M106.0 295.6h0M155.5 439.7h0M150.6 298.8h0M153.4 468.5h0M144.0 469.3h0M160.9 440.5h0M132.6 344.4h0M159.2 443.7h0M134.0 490.1h0M125.9 344.4h0M128.2 294.0h0M145.2 468.5h0M139.4 423.7h0M144.7 376.4h0M127.5 390.8h0M147.9 443.7h0M102.2 295.6h0M139.0 438.9h0M152.6 297.2h0M173.1 444.5h0M160.3 439.7h0M141.3 329.2h0M120.0 392.4h0M191.6 471.7h0M174.4 473.3h0M177.4 437.3h0M180.6 470.1h0M114.3 487.7h0M135.9 393.2h0M94.4 296.4h0M129.5 424.5h0M124.2 489.3h0M122.0 328.4h0M121.0 489.3h0M186.7 442.1h0M120.9 312.4h0M142.0 294.0h0M176.6 440.5h0M161.3 476.5h0M109.6 393.2h0M142.5 471.7h0M182.4 473.3h0M156.3 296.4h0M179.4 472.5h0M188.9 439.7h0M139.2 359.6h0M153.3 439.7h0M107.3 297.2h0M137.8 394.0h0M186.4 391.6h0M172.9 391.6h0M157.1 472.5h0M146.9 438.1h0M170.2 473.3h0M113.6 392.4h0M144.8 298.8h0M166.8 473.3h0M162.7 331.6h0M129.0 296.4h0M174.8 470.9h0M183.2 474.9h0M156.3 439.7h0M148.4 439.7h0M163.2 439.7h0M157.1 423.7h0M160.2 440.5h0M153.6 444.5h0M146.1 442.1h0M119.6 439.7h0M153.0 298.8h0M144.2 439.7h0M150.4 490.9h0M119.5 393.2h0M131.1 312.4h0M156.6 438.9h0M161.5 472.5h0M181.0 440.5h0M119.1 344.4h0M125.0 296.4h0M115.8 312.4h0M165.4 443.7h0M164.0 438.9h0M133.1 390.8h0M184.1 442.9h0M197.8 471.7h0M185.2 438.1h0M174.0 437.3h0M193.2 472.5h0M93.5 295.6h0M171.5 470.1h0M175.9 437.3h0M190.1 438.9h0M133.6 312.4h0M127.7 471.7h0M178.9 437.3h0M162.8 436.5h0M141.7 297.2h0M175.9 441.3h0M142.0 444.5h0M148.8 487.7h0M113.6 487.7h0M125.8 392.4h0M143.8 437.3h0"/><path class="k8" d="M158.8 476.5h0M148.2 426.9h0M164.1 331.6h0M165.6 360.4h0M157.5 392.4h0M152.5 406.9h0M151.3 420.5h0M176.1 330.0h0M119.5 473.3h0M147.9 489.3h0M127.9 442.1h0M150.8 441.3h0M177.1 491.7h0M177.2 486.9h0M168.8 436.5h0M152.6 490.9h0M155.5 422.9h0M160.8 333.2h0M189.8 390.8h0"/><path class="k17" d="M127.3 424.5h0M131.2 504.5h0M144.7 436.5h0M193.5 439.7h0M178.1 437.3h0M116.9 392.4h0M113.8 393.2h0M135.7 488.5h0M132.8 472.5h0M134.2 490.9h0M115.4 393.2h0M117.4 297.2h0M171.4 442.1h0M126.0 487.7h0M167.3 358.8h0M162.6 298.8h0M198.7 472.5h0M141.1 469.3h0M182.5 393.2h0M122.3 489.3h0M171.1 486.9h0M150.2 359.6h0M156.4 361.2h0M121.2 295.6h0M133.7 489.3h0M152.2 388.4h0M146.8 444.5h0M191.8 470.9h0M148.4 391.6h0M146.0 426.9h0M166.8 468.5h0M111.2 297.2h0M119.2 472.5h0M184.9 442.9h0M170.5 444.5h0M178.5 474.9h0M146.7 438.9h0M140.9 438.9h0M194.7 423.7h0M149.7 295.6h0M91.6 295.6h0M111.1 423.7h0M108.5 295.6h0M140.3 296.4h0M170.2 474.9h0M173.7 442.1h0M195.0 440.5h0M143.2 424.5h0M135.5 425.3h0M181.4 293.2h0M138.4 474.1h0M162.1 438.9h0M166.9 410.1h0M141.0 359.6h0M113.4 488.5h0M140.5 424.5h0M110.7 425.3h0M166.5 437.3h0M150.1 468.5h0M154.1 298.0h0M178.2 440.5h0M145.2 427.7h0M159.5 334.0h0M128.1 298.8h0M151.8 296.4h0M145.8 358.8h0M163.6 440.5h0M164.7 427.7h0M123.0 391.6h0M136.0 391.6h0"/><path class="k7" d="M176.9 327.6h0M162.7 391.6h0M154.6 391.6h0M133.5 394.0h0M169.2 422.9h0M171.5 358.8h0M154.7 328.4h0M171.2 295.6h0M168.1 362.8h0M158.6 406.1h0M183.3 424.5h0M157.4 330.8h0M170.9 428.5h0M167.3 358.0h0M155.8 295.6h0M140.1 426.1h0M138.6 473.3h0M158.2 470.1h0M188.1 393.2h0M124.6 489.3h0M160.2 484.5h0M158.0 406.1h0M151.7 294.0h0"/><path class="k11" d="M174.0 438.9h0M145.8 490.9h0M160.2 300.4h0M173.8 361.2h0M140.8 393.2h0M153.3 426.9h0M183.9 438.9h0M142.3 298.0h0M177.0 442.9h0M155.0 391.6h0M124.3 298.0h0M150.8 297.2h0M158.8 329.2h0M166.9 302.0h0M139.7 298.8h0M167.4 396.4h0"/><path class="k4" d="M149.6 490.1h0M166.0 299.6h0M163.3 410.1h0M176.6 300.4h0M174.9 361.2h0M169.9 331.6h0M192.2 488.5h0M153.0 330.0h0M163.5 408.5h0M158.1 360.4h0M160.0 301.2h0M152.8 421.3h0M163.2 387.6h0M130.0 472.5h0M176.3 408.5h0M115.8 440.5h0M145.5 440.5h0M171.4 298.8h0M160.9 390.0h0M191.3 390.0h0M151.1 427.7h0M159.4 329.2h0M164.5 388.4h0M166.2 362.0h0"/><path class="k3" d="M155.9 411.7h0M162.5 471.7h0M176.7 330.0h0M161.6 294.8h0M180.9 394.8h0M170.1 425.3h0M182.2 408.5h0M132.3 442.9h0M180.1 490.1h0M198.7 294.8h0M179.7 407.7h0M176.0 327.6h0M131.2 486.9h0M144.4 426.9h0M169.4 396.4h0M192.4 394.8h0M154.9 485.3h0M144.1 490.9h0M181.6 491.7h0M169.5 360.4h0M167.0 407.7h0M171.8 294.0h0M163.8 491.7h0M156.0 406.1h0M165.7 330.0h0M178.3 298.8h0M182.0 490.9h0M166.7 484.5h0M164.4 487.7h0M152.7 405.3h0M163.4 425.3h0M193.1 489.3h0M186.4 486.1h0M172.3 391.6h0M149.9 405.3h0M166.4 483.7h0M141.2 488.5h0M146.6 425.3h0M160.9 492.5h0M192.8 297.2h0M154.3 298.8h0M186.5 489.3h0M165.4 389.2h0M148.6 476.5h0M178.3 298.0h0M151.8 486.1h0M174.4 486.9h0M196.0 487.7h0M127.8 296.4h0M162.7 392.4h0M177.8 294.0h0M182.1 329.2h0M194.0 296.4h0M162.9 428.5h0M171.0 292.4h0M167.0 489.3h0M120.1 440.5h0M166.1 301.2h0M188.5 296.4h0M190.6 390.0h0M142.8 393.2h0M194.1 488.5h0M114.5 471.7h0M166.3 295.6h0M184.1 393.2h0M141.3 473.3h0M169.4 487.7h0M165.0 409.3h0M146.1 489.3h0M150.9 408.5h0M172.9 409.3h0M169.8 330.8h0M124.6 442.1h0M195.7 298.0h0M178.9 488.5h0M189.5 425.3h0M178.6 390.8h0M182.1 487.7h0M143.0 409.3h0M167.9 486.9h0"/><path class="k10" d="M162.8 440.5h0M175.2 327.6h0M158.8 438.9h0M165.2 290.8h0M131.8 441.3h0M140.9 486.1h0M166.5 325.2h0M164.8 302.0h0M150.2 426.1h0M166.6 444.5h0M177.6 442.1h0M165.8 427.7h0M170.0 293.2h0M155.7 326.8h0M171.0 470.1h0M149.4 424.5h0M159.9 422.9h0M146.7 426.1h0M150.3 474.1h0M147.2 362.0h0M158.7 330.8h0M171.5 300.4h0"/><path class="k15" d="M138.1 487.7h0M135.6 328.4h0M179.7 443.7h0M134.7 471.7h0M134.8 297.2h0M169.4 422.1h0M138.0 425.3h0M112.7 393.2h0M148.9 470.9h0M161.4 485.3h0M158.6 472.5h0M156.7 333.2h0M149.3 442.9h0M153.8 428.5h0M138.7 361.2h0M135.8 298.0h0M167.6 442.9h0M149.0 438.9h0M164.3 443.7h0M81.6 296.4h0M167.2 327.6h0M168.1 474.9h0M130.6 473.3h0M131.6 298.0h0M186.9 438.1h0M134.5 426.9h0M145.8 293.2h0M157.4 420.5h0M146.0 438.1h0M158.3 474.1h0M117.3 424.5h0M95.5 296.4h0M160.1 397.2h0M121.9 488.5h0M127.1 426.1h0M118.4 393.2h0M135.3 472.5h0M111.9 424.5h0M156.8 298.8h0M142.7 362.0h0M82.4 296.4h0M135.8 426.9h0M162.2 424.5h0M195.2 439.7h0M149.0 443.7h0M165.7 442.9h0M148.1 296.4h0M143.5 408.5h0M179.0 439.7h0M127.7 422.9h0M144.6 361.2h0M153.3 470.9h0M176.1 442.9h0M166.2 474.9h0M140.2 444.5h0M134.6 391.6h0M181.2 442.1h0M141.2 472.5h0M118.7 297.2h0M156.3 394.0h0M149.0 410.1h0M167.9 474.1h0M188.8 473.3h0M154.6 426.9h0M137.6 490.9h0M153.4 486.9h0M148.7 489.3h0M167.9 410.1h0M162.3 440.5h0M154.3 484.5h0M132.2 438.1h0M147.6 474.9h0M133.5 425.3h0M131.3 392.4h0M128.4 297.2h0M148.4 360.4h0M107.5 392.4h0M164.6 491.7h0M182.2 470.1h0M116.1 488.5h0M130.4 486.9h0M170.3 438.9h0M125.3 440.5h0M132.0 297.2h0M144.9 491.7h0"/><path class="k0" d="M159.5 506.9h0M174.6 487.7h0M158.0 332.4h0M160.2 456.5h0M184.5 490.1h0M196.9 488.5h0M183.0 394.0h0M179.7 486.1h0M145.7 362.0h0M162.3 388.4h0M168.5 422.1h0M169.2 395.6h0M188.0 489.3h0M159.5 427.7h0M186.5 490.1h0M156.6 407.7h0M195.2 391.6h0M158.3 310.7h0M171.7 424.5h0M163.0 407.7h0M152.8 422.9h0M180.7 391.6h0M155.0 407.7h0M140.0 456.5h0M175.0 391.6h0M159.3 451.5h0M110.2 425.3h0M163.7 389.2h0M169.6 299.6h0M162.2 330.0h0M155.9 407.7h0M156.9 376.4h0M165.4 488.5h0M142.8 360.4h0M156.2 325.2h0M164.5 294.0h0M190.1 391.6h0M167.6 394.0h0M159.2 309.9h0M192.0 393.2h0M158.4 491.7h0M159.2 315.7h0M161.0 307.5h0M171.2 487.7h0M183.1 394.8h0M197.5 296.4h0M156.6 420.5h0M170.5 394.0h0M161.8 334.0h0M188.6 426.1h0M193.0 441.3h0M161.8 346.2h0M182.1 394.8h0M166.0 327.6h0M175.9 491.7h0M140.1 294.0h0M144.4 456.5h0M170.5 421.3h0M181.8 426.9h0M125.2 472.5h0M167.3 326.0h0M123.1 408.5h0M159.3 374.1h0M183.4 490.1h0M183.1 327.6h0M169.7 298.8h0M184.0 426.9h0M165.6 326.0h0M164.9 387.6h0M159.3 381.2h0M157.6 295.6h0M184.1 391.6h0M156.8 502.0h0M183.7 488.5h0M155.8 413.3h0M158.1 298.0h0M188.9 390.8h0M186.0 294.8h0M204.4 297.2h0M189.8 424.5h0"/><path class="k14" d="M133.5 487.7h0M187.0 295.6h0M95.1 297.2h0M190.4 488.5h0M107.0 440.5h0M166.7 474.1h0M163.6 435.7h0M134.0 296.4h0M147.1 486.1h0M133.4 295.6h0M101.1 297.2h0M146.4 328.4h0M189.4 440.5h0M159.9 424.5h0M126.8 298.0h0M127.1 486.9h0M136.9 423.7h0M187.4 438.9h0M145.1 490.9h0M160.4 441.3h0M163.2 298.0h0M123.1 487.7h0M123.4 425.3h0M186.1 438.9h0M131.8 393.2h0M152.8 484.5h0M118.3 489.3h0M137.4 471.7h0M134.6 422.9h0M170.6 469.3h0M137.1 424.5h0"/><path class="k12" d="M150.4 489.3h0M153.8 484.5h0M171.4 475.7h0M173.7 490.9h0M161.2 471.7h0M158.3 422.9h0M159.5 467.7h0M137.9 390.0h0M128.7 297.2h0M163.2 329.2h0M155.5 394.0h0M142.0 426.1h0M144.3 423.7h0M150.9 360.4h0M174.9 425.3h0M150.5 474.1h0M165.6 438.1h0M110.5 488.5h0M155.6 492.5h0M153.1 394.0h0"/><path class="k7" d="M181.9 488.5h0M184.5 299.6h0M153.2 329.2h0M149.6 329.2h0M145.5 443.7h0M160.0 389.2h0M150.9 486.9h0M154.5 411.7h0M156.9 413.3h0M179.4 294.8h0M181.3 296.4h0M149.0 361.2h0M164.5 291.6h0M171.7 298.0h0M145.5 390.8h0M147.4 475.7h0M163.5 330.0h0M145.9 471.7h0M161.2 397.2h0M145.9 410.1h0M161.5 325.2h0M156.7 411.7h0"/><path class="k13" d="M182.5 486.1h0M142.8 389.2h0M137.2 470.9h0M137.0 489.3h0M133.0 392.4h0M122.7 473.3h0M152.4 300.4h0M162.3 444.5h0M143.4 474.9h0M151.7 424.5h0M160.3 329.2h0M148.7 390.8h0M112.9 392.4h0M163.2 420.5h0M146.9 436.5h0M90.9 296.4h0M181.2 471.7h0M131.8 394.0h0M149.5 394.8h0M158.8 388.4h0M155.5 360.4h0"/><path class="k9" d="M164.0 483.7h0M173.5 390.0h0M166.9 442.9h0M149.9 391.6h0M170.7 298.8h0M164.1 326.0h0M161.4 297.2h0M154.3 325.2h0M177.1 422.1h0M214.8 296.4h0M157.2 331.6h0M174.3 301.2h0"/><path class="k5" d="M163.8 299.6h0M196.7 295.6h0M109.7 440.5h0M131.2 438.1h0M167.7 393.2h0M161.1 487.7h0M163.9 296.4h0M181.0 425.3h0M154.4 393.2h0M163.4 387.6h0M173.6 410.1h0M160.8 389.2h0M171.0 426.9h0M177.5 426.1h0M177.3 409.3h0M177.9 422.9h0M167.4 395.6h0M158.5 473.3h0M168.6 327.6h0M157.1 332.4h0M162.4 361.2h0"/><path class="k8" d="M174.3 362.8h0M157.5 326.8h0M142.1 294.8h0M128.1 441.3h0M136.7 408.5h0M183.7 298.8h0M174.8 424.5h0M191.7 298.8h0M153.4 388.4h0M103.6 472.5h0M149.5 488.5h0M117.3 439.7h0M164.2 420.5h0M172.8 294.0h0M117.3 473.3h0M157.0 330.0h0M168.6 294.8h0"/><path class="k4" d="M168.2 424.5h0M155.8 294.0h0M196.7 296.4h0M170.6 291.6h0M176.9 298.8h0M171.9 358.8h0M186.3 392.4h0M179.6 423.7h0M168.8 406.9h0M169.8 291.6h0M166.9 294.0h0M156.2 489.3h0M177.3 360.4h0M155.3 491.7h0M119.0 440.5h0M171.5 486.1h0M172.2 488.5h0M179.0 490.1h0M165.2 410.1h0M164.4 426.1h0M165.3 362.8h0M145.3 426.9h0M177.5 298.0h0M187.7 392.4h0M173.7 298.0h0M171.1 393.2h0M169.5 358.0h0M174.0 408.5h0M179.8 442.9h0M130.2 474.1h0M173.4 491.7h0M164.0 394.0h0M194.5 392.4h0M169.3 356.4h0M167.5 423.7h0M162.8 325.2h0M165.0 425.3h0M165.4 486.1h0"/><path class="k18" d="M123.0 439.7h0M197.1 472.5h0M147.2 299.6h0M166.0 437.3h0M143.3 472.5h0M143.0 438.1h0M121.3 393.2h0M145.0 440.5h0M136.4 297.2h0M153.6 490.1h0M169.7 444.5h0M177.8 475.7h0M141.0 327.6h0M158.7 396.4h0M191.6 474.1h0M109.9 423.7h0M142.4 422.1h0M119.9 393.2h0M108.5 487.7h0M146.8 470.1h0M135.6 294.8h0M183.0 472.5h0M179.8 438.9h0M188.7 471.7h0M144.9 425.3h0M155.7 474.1h0M146.1 376.4h0M164.7 474.1h0M116.5 425.3h0M122.3 297.2h0M143.5 298.0h0M162.1 476.5h0M179.5 440.5h0M174.3 471.7h0M155.3 476.5h0M151.5 405.3h0M104.5 297.2h0M162.8 484.5h0M167.0 435.7h0M139.9 359.6h0M138.8 487.7h0M159.8 437.3h0M139.7 475.7h0M123.2 344.4h0M113.7 297.2h0M93.0 295.6h0M155.3 488.5h0M155.9 469.3h0M119.2 391.6h0M173.4 438.9h0M112.3 391.6h0M171.1 329.2h0M109.7 391.6h0M97.5 296.4h0M153.2 442.9h0M152.3 443.7h0M153.1 361.2h0M128.5 312.4h0M154.3 467.7h0M132.3 390.8h0M196.0 439.7h0M134.9 312.4h0M121.8 391.6h0M172.8 443.7h0M171.9 471.7h0M161.9 390.8h0M168.6 297.2h0M161.1 395.6h0M169.6 421.3h0M172.4 299.6h0M136.2 486.1h0M134.3 486.1h0M153.7 442.1h0M139.1 443.7h0"/><path class="k19" d="M165.3 475.7h0M108.8 489.3h0M127.5 294.8h0M135.9 394.0h0M153.1 477.3h0M134.0 344.4h0M153.4 469.3h0M141.4 327.6h0M196.0 440.5h0M135.5 438.1h0M115.2 392.4h0M139.1 504.5h0M152.4 438.9h0M158.3 397.2h0M164.6 438.9h0M156.9 439.7h0M157.9 438.9h0M192.4 440.5h0M137.9 376.4h0M151.9 442.9h0M141.9 437.3h0M109.3 487.7h0M151.7 445.3h0M206.0 440.5h0M141.1 362.0h0M168.8 473.3h0M151.5 376.4h0M151.2 389.2h0M162.8 427.7h0M107.4 393.2h0M147.4 376.4h0M123.3 298.0h0M151.8 292.4h0M135.2 504.5h0M150.2 467.7h0M158.4 296.4h0M109.8 489.3h0M156.6 471.7h0M146.4 360.4h0M160.2 469.3h0M184.2 440.5h0M117.6 425.3h0M128.6 392.4h0M118.4 423.7h0M116.6 297.2h0M145.1 474.9h0M130.7 392.4h0M133.9 328.4h0M177.2 473.3h0M143.0 470.9h0M160.9 486.1h0M127.9 391.6h0M147.7 440.5h0M78.7 328.4h0M158.6 471.7h0M125.3 297.2h0M118.8 296.4h0M156.2 424.5h0M174.3 438.1h0M116.7 423.7h0M161.3 387.6h0M178.2 438.9h0M134.7 456.5h0M189.0 472.5h0M153.4 390.8h0M197.5 473.3h0M122.3 296.4h0M149.2 390.0h0M140.6 295.6h0M168.3 440.5h0M126.7 392.4h0M184.5 470.9h0M103.1 296.4h0M139.0 392.4h0M126.0 504.5h0M182.8 470.1h0M171.8 438.1h0M135.6 422.1h0M173.7 469.3h0M151.5 444.5h0M124.1 392.4h0M121.2 441.3h0M141.8 390.8h0M178.4 442.9h0M129.7 328.4h0M174.7 470.1h0M138.7 456.5h0M170.0 470.9h0M116.1 393.2h0M166.8 392.4h0M124.7 312.4h0M190.7 471.7h0M180.7 438.1h0M177.2 441.3h0M138.0 344.4h0M155.0 469.3h0M119.6 312.4h0M182.9 443.7h0M143.6 294.8h0M134.1 487.7h0M161.5 477.3h0M152.7 469.3h0M142.3 473.3h0M144.7 442.1h0M185.2 442.1h0M165.8 442.1h0M166.5 439.7h0M124.9 394.0h0M150.0 472.5h0M151.5 470.1h0M181.9 438.1h0M141.2 444.5h0M98.0 295.6h0M158.1 442.1h0M149.7 421.3h0M180.5 470.9h0M134.6 422.1h0M183.7 438.1h0"/><path class="k14" d="M163.1 293.2h0M138.5 426.9h0M143.1 297.2h0M155.0 358.8h0M153.6 472.5h0M179.6 300.4h0M147.8 444.5h0M156.3 326.0h0M160.1 487.7h0M146.0 295.6h0M151.8 329.2h0M145.1 297.2h0M151.5 329.2h0M157.1 440.5h0M156.2 475.7h0M134.7 474.1h0M150.4 360.4h0M137.6 328.4h0M139.8 294.8h0M168.2 471.7h0M185.0 441.3h0M142.1 475.7h0M131.4 390.8h0M161.2 422.9h0M187.4 442.9h0"/><path class="k0" d="M166.6 486.1h0M178.5 327.6h0M169.5 484.5h0M183.7 422.9h0M166.8 301.2h0M158.5 376.4h0M127.8 408.5h0M155.3 438.1h0M152.0 427.7h0M182.2 391.6h0M131.4 422.9h0M180.9 424.5h0M172.4 326.8h0M165.4 327.6h0M162.2 489.3h0M184.7 328.4h0M110.1 473.3h0M153.0 410.1h0M175.8 360.4h0M198.3 393.2h0M156.2 426.1h0M183.0 490.1h0M168.6 393.2h0M195.8 392.4h0M112.3 439.7h0M187.3 486.9h0M182.0 490.1h0M188.3 395.6h0M196.1 394.0h0M166.3 298.8h0M162.2 487.7h0M176.7 424.5h0M159.2 342.0h0M197.8 488.5h0M121.7 472.5h0M166.0 492.5h0M169.7 295.6h0M153.2 409.3h0M158.6 509.8h0M186.0 295.6h0M185.5 328.4h0M186.8 423.7h0M151.7 474.9h0M188.9 489.3h0M157.5 313.4h0M146.9 408.5h0M159.3 455.6h0M137.5 407.7h0M187.3 389.2h0M169.0 363.6h0M177.6 422.9h0M172.1 406.9h0M157.7 508.9h0M183.8 328.4h0M179.3 393.2h0M120.3 472.5h0M187.9 490.1h0M171.3 492.5h0M161.5 405.3h0M182.0 390.0h0M171.0 422.1h0M156.2 486.9h0M178.5 330.0h0M163.2 390.8h0M183.5 394.8h0M178.5 424.5h0M185.1 329.2h0M186.1 327.6h0M142.7 328.4h0M86.6 472.5h0M164.4 294.8h0M164.8 493.3h0M158.5 492.5h0M174.9 486.9h0M165.8 490.9h0M191.4 394.0h0M147.6 390.8h0M160.1 376.4h0M176.8 358.8h0M171.1 409.3h0M124.4 408.5h0M191.0 392.4h0M144.2 410.1h0M160.2 396.4h0M161.0 310.8h0M164.8 330.0h0M189.8 426.9h0M139.8 407.7h0M157.0 409.3h0M171.4 362.8h0M171.4 363.6h0M149.5 390.8h0"/><path class="k3" d="M181.3 292.4h0M161.7 396.4h0M187.9 294.8h0M157.5 426.9h0M160.8 486.9h0M152.8 408.5h0M166.2 298.0h0M158.7 331.6h0M172.0 421.3h0M156.5 324.4h0M178.2 358.8h0M185.7 423.7h0M166.8 390.8h0M161.6 331.6h0M168.5 329.2h0M195.8 391.6h0M174.3 492.5h0M149.9 426.9h0M144.1 408.5h0M197.3 294.8h0M109.7 471.7h0M166.2 444.5h0M164.5 333.2h0M162.4 410.9h0M161.0 489.3h0M157.7 406.9h0M166.0 324.4h0M156.9 325.2h0M166.3 396.4h0M175.8 358.0h0M164.6 393.2h0M182.5 293.2h0M150.4 426.1h0M169.6 407.7h0M129.6 425.3h0M143.1 486.9h0M189.6 394.8h0M147.6 490.1h0M180.9 422.9h0M184.6 390.0h0M179.8 486.9h0M156.5 425.3h0M168.6 392.4h0M183.3 423.7h0M190.2 393.2h0M191.2 391.6h0M168.5 331.6h0M140.7 408.5h0M173.3 421.3h0M130.9 441.3h0M161.0 426.9h0M147.6 328.4h0M158.4 489.3h0M186.0 394.8h0M158.0 396.4h0M174.2 359.6h0M183.5 390.0h0M139.2 408.5h0M176.0 490.1h0M163.2 325.2h0M173.4 357.2h0M181.3 300.4h0M173.1 489.3h0M156.8 326.0h0M160.1 428.5h0M175.5 390.8h0M159.7 426.1h0M154.0 410.1h0M155.5 426.1h0M125.1 473.3h0M184.9 488.5h0M151.8 409.3h0M172.1 299.6h0M159.2 406.1h0"/><path class="k11" d="M157.4 489.3h0M150.8 484.5h0M146.9 426.9h0M153.1 294.0h0M157.8 394.8h0M124.0 472.5h0M162.9 422.1h0M134.1 440.5h0M162.6 293.2h0M155.8 327.6h0M172.5 474.9h0M158.3 420.5h0M178.8 473.3h0M136.4 470.9h0M150.7 492.5h0M152.1 330.8h0"/><path class="k15" d="M144.6 362.0h0M130.9 425.3h0M142.9 394.8h0M182.6 437.3h0M129.4 442.1h0M125.8 422.9h0M145.7 421.3h0M168.4 444.5h0M146.8 442.1h0M159.1 395.6h0M179.9 474.9h0M114.5 393.2h0M146.4 362.0h0M169.8 292.4h0M140.2 298.0h0M182.0 440.5h0M163.5 487.7h0M166.9 298.0h0M127.9 294.8h0M143.2 438.9h0M123.9 294.8h0M181.9 474.9h0M136.1 441.3h0M184.4 297.2h0M154.7 292.4h0M107.8 489.3h0M162.0 291.6h0M129.1 298.0h0M134.7 425.3h0M127.2 295.6h0M109.1 297.2h0M162.7 330.8h0M134.3 394.8h0M147.2 297.2h0M174.5 294.8h0M168.7 471.7h0M149.5 360.4h0M149.9 470.9h0M192.3 441.3h0M153.8 477.3h0M98.2 295.6h0M173.0 473.3h0M155.4 395.6h0M123.7 472.5h0M157.5 486.1h0M112.5 472.5h0M138.8 490.9h0M151.2 443.7h0M174.5 440.5h0M134.4 392.4h0M162.6 295.6h0M186.5 441.3h0M151.9 476.5h0M100.4 296.4h0M143.7 441.3h0M137.7 438.9h0M141.3 296.4h0"/><path class="k6" d="M116.7 472.5h0M131.7 487.7h0M164.1 406.9h0M154.0 411.7h0M166.5 361.2h0M166.9 425.3h0M172.1 489.3h0M135.0 408.5h0M165.2 358.0h0M172.0 330.0h0M180.7 327.6h0M162.0 394.8h0M113.6 473.3h0M151.3 407.7h0M160.0 326.8h0M168.9 396.4h0M190.6 295.6h0M154.0 485.3h0M180.8 490.9h0M164.8 422.1h0M173.8 294.0h0M162.0 421.3h0"/><path class="k16" d="M103.0 297.2h0M185.8 473.3h0M163.1 469.3h0M157.3 471.7h0M142.8 395.6h0M155.3 484.5h0M181.0 470.1h0M187.1 297.2h0M135.4 473.3h0M135.0 394.0h0M135.6 442.1h0M176.6 328.4h0M126.9 490.1h0M160.6 473.3h0M141.4 426.1h0M172.5 484.5h0M150.7 390.0h0M137.8 422.1h0M165.1 406.9h0M170.5 300.4h0M145.0 486.1h0M124.3 296.4h0M154.6 423.7h0M142.1 425.3h0M157.1 428.5h0M145.1 442.9h0M155.1 490.1h0M147.2 476.5h0M114.9 423.7h0M151.2 298.0h0M168.7 484.5h0M147.8 485.3h0M127.9 488.5h0M167.8 422.1h0M151.0 423.7h0M137.2 441.3h0M126.1 390.8h0M180.3 471.7h0M133.0 294.8h0M157.0 362.0h0M125.2 423.7h0M171.4 472.5h0M153.3 492.5h0M183.1 471.7h0M111.6 487.7h0M128.8 438.9h0M143.6 328.4h0M174.9 485.3h0M124.0 423.7h0M113.9 489.3h0M177.6 470.1h0M196.3 473.3h0M151.8 299.6h0M154.0 388.4h0M156.1 441.3h0M158.3 469.3h0M148.0 491.7h0M122.4 440.5h0M145.7 490.1h0M127.5 470.9h0M145.1 293.2h0M142.6 469.3h0M158.3 474.9h0M164.6 441.3h0M194.8 471.7h0M179.8 393.2h0M161.9 420.5h0M136.4 294.8h0M169.1 407.7h0M158.6 467.7h0M166.6 299.6h0M148.1 293.2h0"/><path class="k17" d="M180.6 441.3h0M125.7 486.9h0M143.8 468.5h0M145.9 491.7h0M131.8 470.9h0M87.8 296.4h0M169.8 475.7h0M126.1 440.5h0M165.8 422.9h0M132.6 440.5h0M149.3 409.3h0M139.4 394.0h0M193.9 473.3h0M143.3 391.6h0M171.9 473.3h0M147.4 468.5h0M140.7 472.5h0M148.8 477.3h0M118.4 488.5h0M171.5 474.9h0M118.5 425.3h0M163.6 489.3h0M159.1 361.2h0M150.9 476.5h0M141.8 391.6h0M146.7 485.3h0M172.7 438.1h0M152.8 491.7h0M119.7 296.4h0M133.1 486.9h0M169.8 442.1h0M137.2 486.1h0M155.6 474.9h0M154.0 293.2h0M130.2 488.5h0M154.1 442.9h0M119.2 423.7h0M99.9 295.6h0M166.9 488.5h0M180.3 441.3h0M138.2 426.1h0M152.9 475.7h0M173.1 437.3h0M122.6 489.3h0M123.7 390.8h0M178.5 442.1h0M168.6 475.7h0M124.4 441.3h0M123.6 438.9h0M174.3 357.2h0M150.5 428.5h0M126.5 438.9h0M144.2 294.0h0M186.2 474.1h0M148.0 471.7h0M192.6 472.5h0M185.9 392.4h0M187.9 474.1h0M102.3 297.2h0M168.3 476.5h0M185.2 471.7h0M186.1 299.6h0M184.8 438.9h0M126.2 438.9h0M146.2 473.3h0M150.6 426.9h0M155.4 438.9h0M155.9 297.2h0"/><path class="k10" d="M148.0 395.6h0M155.7 421.3h0M173.6 442.9h0M176.6 299.6h0M166.0 421.3h0M160.6 477.3h0M135.4 470.1h0M172.5 441.3h0M154.7 420.5h0M155.2 470.9h0M153.9 359.6h0M104.3 295.6h0M144.4 476.5h0M143.3 485.3h0M134.6 474.9h0M155.3 325.2h0M132.6 422.9h0M156.4 359.6h0M148.3 358.8h0"/><path class="k1" d="M165.8 491.7h0M183.1 329.2h0M203.2 295.6h0M159.5 508.5h0M158.2 300.4h0M180.4 292.4h0M161.0 312.4h0M158.4 409.3h0M160.1 314.0h0M163.2 406.1h0M163.1 487.7h0M159.5 502.9h0M159.3 373.3h0M175.8 408.5h0M174.7 422.9h0M163.4 376.4h0M174.4 358.8h0M187.5 490.9h0M134.1 439.7h0M148.8 297.2h0M174.3 358.0h0M193.5 390.8h0M166.7 422.9h0M191.0 426.1h0M156.9 298.0h0M161.8 341.8h0M174.7 299.6h0M159.8 410.9h0M166.9 394.0h0M155.8 426.9h0M159.2 340.3h0M171.1 389.2h0M135.3 442.9h0M158.1 425.3h0M191.9 425.3h0M143.0 390.8h0M172.2 360.4h0M160.2 454.1h0M179.5 424.5h0M200.4 296.4h0M147.3 456.5h0M164.5 361.2h0M131.8 473.3h0M161.2 407.7h0M171.2 407.7h0M180.2 491.7h0M152.5 427.7h0M160.2 453.2h0M165.0 292.4h0M152.2 360.4h0M189.8 422.1h0M168.3 326.8h0M175.6 329.2h0M161.0 309.1h0M134.9 473.3h0M178.2 486.1h0M161.8 344.4h0M166.0 410.1h0M161.3 326.8h0M160.4 291.6h0M160.2 378.4h0M184.1 298.0h0M157.4 485.3h0M77.0 296.4h0M162.4 408.5h0M161.8 311.6h0M155.7 324.4h0M126.9 425.3h0M162.6 333.2h0M157.7 501.5h0M171.5 422.1h0M157.7 506.0h0M201.0 295.6h0M192.9 423.7h0M160.4 326.8h0M139.1 391.6h0M195.0 394.0h0M162.1 410.1h0M159.3 458.1h0M160.1 343.6h0M124.7 438.9h0M151.3 486.9h0M160.1 345.2h0M151.2 388.4h0M158.4 459.1h0M159.5 501.3h0M129.7 408.5h0M160.2 377.4h0M198.1 298.0h0M151.8 467.7h0M159.3 453.2h0M177.2 490.9h0M159.2 339.5h0M179.4 298.0h0M147.0 441.3h0M158.6 508.3h0M141.8 409.3h0M158.3 346.2h0M150.6 474.9h0M161.0 342.0h0M143.6 438.9h0M158.4 333.2h0M157.7 500.8h0M194.3 297.2h0M127.1 441.3h0M179.6 327.6h0M159.3 378.0h0M159.3 378.8h0"/><path class="k2" d="M177.8 491.7h0M158.9 492.5h0M170.4 492.5h0M165.9 440.5h0M175.1 358.0h0M166.4 328.4h0M193.6 423.7h0M137.0 487.7h0M183.3 294.8h0M175.0 328.4h0M156.9 326.8h0M152.9 328.4h0M185.6 424.5h0M170.4 301.2h0M159.6 359.6h0M156.2 394.8h0M148.9 408.5h0M153.7 404.5h0M190.4 425.3h0M164.2 394.8h0M176.8 407.7h0M170.3 396.4h0M166.2 426.9h0M180.2 485.3h0M168.1 298.8h0M162.0 472.5h0M161.6 301.2h0M126.8 474.1h0M176.5 470.9h0M160.9 394.8h0M170.2 297.2h0M188.5 298.8h0M172.0 426.9h0M188.5 486.9h0M151.2 470.9h0M152.1 445.3h0M176.9 409.3h0M168.0 425.3h0M199.1 294.8h0M156.4 486.1h0M175.2 422.9h0M147.2 504.5h0M167.4 388.4h0M164.1 470.1h0M159.0 326.8h0M113.9 439.7h0M155.9 410.9h0M149.2 422.9h0M160.3 390.0h0M174.0 490.1h0M160.7 406.9h0M169.5 327.6h0M154.4 476.5h0M158.4 325.2h0M171.7 409.3h0M170.9 484.5h0M151.0 406.9h0M177.6 361.2h0M174.5 297.2h0M168.6 301.2h0M158.0 326.0h0M167.2 295.6h0M185.6 488.5h0M170.8 326.0h0M152.7 426.9h0M156.3 396.4h0M150.9 294.0h0M172.8 358.0h0"/></g>
<line x1="64.2" x2="262.2" y1="520.5" y2="520.5" stroke="#a8a8a8" stroke-width="1.4"/>
<line x1="71.45" x2="71.45" y1="520.5" y2="522.5" stroke="#999" stroke-width="0.9"/>
<text x="71.45" y="531.70" font-size="10.8" fill="#585858" text-anchor="middle">-0.3</text>
<line x1="99.80" x2="99.80" y1="520.5" y2="522.5" stroke="#999" stroke-width="0.9"/>
<text x="99.80" y="531.70" font-size="10.8" fill="#585858" text-anchor="middle">-0.2</text>
<line x1="128.15" x2="128.15" y1="520.5" y2="522.5" stroke="#999" stroke-width="0.9"/>
<text x="128.15" y="531.70" font-size="10.8" fill="#585858" text-anchor="middle">-0.1</text>
<line x1="156.50" x2="156.50" y1="520.5" y2="522.5" stroke="#999" stroke-width="0.9"/>
<text x="156.50" y="531.70" font-size="10.8" fill="#585858" text-anchor="middle">0.0</text>
<line x1="184.85" x2="184.85" y1="520.5" y2="522.5" stroke="#999" stroke-width="0.9"/>
<text x="184.85" y="531.70" font-size="10.8" fill="#585858" text-anchor="middle">0.1</text>
<line x1="213.20" x2="213.20" y1="520.5" y2="522.5" stroke="#999" stroke-width="0.9"/>
<text x="213.20" y="531.70" font-size="10.8" fill="#585858" text-anchor="middle">0.2</text>
<line x1="241.55" x2="241.55" y1="520.5" y2="522.5" stroke="#999" stroke-width="0.9"/>
<text x="241.55" y="531.70" font-size="10.8" fill="#585858" text-anchor="middle">0.3</text>
<text x="151.3" y="544.7" font-size="13.3" fill="#222" text-anchor="middle">SHAP value</text>
<text x="235.7" y="495.5" font-size="19" fill="#222">(c)</text>
<text x="53.2" y="300.81" font-size="12.2" fill="#333" text-anchor="end">Ctime</text>
<text x="53.2" y="316.81" font-size="12.2" fill="#333" text-anchor="end">ROL</text>
<text x="53.2" y="332.82" font-size="12.2" fill="#333" text-anchor="end">Rtime</text>
<text x="53.2" y="348.83" font-size="12.2" fill="#333" text-anchor="end">Motif</text>
<text x="53.2" y="364.83" font-size="12.2" fill="#333" text-anchor="end">Hgeneity</text>
<text x="53.2" y="380.84" font-size="12.2" fill="#333" text-anchor="end">Diameter</text>
<text x="53.2" y="396.85" font-size="12.2" fill="#333" text-anchor="end">MaxD</text>
<text x="53.2" y="412.85" font-size="12.2" fill="#333" text-anchor="end">Dtime</text>
<text x="53.2" y="428.86" font-size="12.2" fill="#333" text-anchor="end">NoN</text>
<text x="53.2" y="444.87" font-size="12.2" fill="#333" text-anchor="end">AveD</text>
<text x="53.2" y="460.87" font-size="12.2" fill="#333" text-anchor="end">BCentr</text>
<text x="53.2" y="476.88" font-size="12.2" fill="#333" text-anchor="end">AvePath</text>
<text x="53.2" y="492.89" font-size="12.2" fill="#333" text-anchor="end">NoS</text>
<text x="53.2" y="508.89" font-size="12.2" fill="#333" text-anchor="end">MaxS</text>
<line x1="276.5" x2="473.8" y1="296.41" y2="296.41" stroke="#f3f3f3" stroke-width="0.6"/>
<line x1="276.5" x2="473.8" y1="312.43" y2="312.43" stroke="#f3f3f3" stroke-width="0.6"/>
<line x1="276.5" x2="473.8" y1="328.44" y2="328.44" stroke="#f3f3f3" stroke-width="0.6"/>
<line x1="276.5" x2="473.8" y1="344.45" y2="344.45" stroke="#f3f3f3" stroke-width="0.6"/>
<line x1="276.5" x2="473.8" y1="360.47" y2="360.47" stroke="#f3f3f3" stroke-width="0.6"/>
<line x1="276.5" x2="473.8" y1="376.48" y2="376.48" stroke="#f3f3f3" stroke-width="0.6"/>
<line x1="276.5" x2="473.8" y1="392.49" y2="392.49" stroke="#f3f3f3" stroke-width="0.6"/>
<line x1="276.5" x2="473.8" y1="408.51" y2="408.51" stroke="#f3f3f3" stroke-width="0.6"/>
<line x1="276.5" x2="473.8" y1="424.52" y2="424.52" stroke="#f3f3f3" stroke-width="0.6"/>
<line x1="276.5" x2="473.8" y1="440.53" y2="440.53" stroke="#f3f3f3" stroke-width="0.6"/>
<line x1="276.5" x2="473.8" y1="456.55" y2="456.55" stroke="#f3f3f3" stroke-width="0.6"/>
<line x1="276.5" x2="473.8" y1="472.56" y2="472.56" stroke="#f3f3f3" stroke-width="0.6"/>
<line x1="276.5" x2="473.8" y1="488.57" y2="488.57" stroke="#f3f3f3" stroke-width="0.6"/>
<line x1="276.5" x2="473.8" y1="504.59" y2="504.59" stroke="#f3f3f3" stroke-width="0.6"/>
<line x1="363.5" x2="363.5" y1="280.4" y2="520.6" stroke="#a3a3a3" stroke-width="1"/>
<g class="dt" style="stroke-width:2.1px"><path class="k0" d="M372.2 424.5h0M363.3 487.8h0M384.1 471.0h0M370.2 358.9h0M331.6 504.6h0M369.3 455.7h0M375.1 428.5h0M384.1 426.9h0M362.5 313.2h0M368.2 423.7h0M362.0 331.6h0M312.0 504.6h0M364.2 426.9h0M379.9 312.4h0M379.1 394.1h0M378.6 394.9h0M386.8 472.6h0M364.0 332.4h0M395.7 376.5h0M373.7 421.3h0M358.3 391.7h0M385.7 427.7h0M354.1 345.3h0M356.0 489.4h0M386.0 471.0h0M384.4 422.1h0M369.1 505.4h0M356.8 443.7h0M359.8 391.7h0M379.4 506.2h0M368.6 426.9h0M371.9 421.3h0M368.8 375.7h0M371.1 488.6h0M363.4 423.7h0M364.0 390.9h0M376.7 377.3h0M342.6 504.6h0M379.5 314.8h0M368.9 422.1h0M404.3 296.4h0M378.4 491.8h0M330.2 504.6h0M382.2 310.8h0M383.3 471.0h0M400.7 377.3h0M384.3 504.6h0M367.7 426.1h0M363.9 490.2h0M371.4 508.6h0M370.9 378.1h0M380.9 422.1h0M374.4 388.5h0M369.5 314.0h0M369.3 312.4h0M362.4 504.6h0M357.7 409.3h0M360.6 362.1h0M403.4 374.1h0M387.8 421.3h0M367.7 311.6h0M402.5 379.7h0M348.3 312.4h0M376.2 314.0h0M362.6 487.0h0M321.0 504.6h0M371.8 344.5h0M390.0 423.7h0M366.5 487.8h0M366.7 426.1h0M374.4 408.5h0M389.3 425.3h0M361.8 411.7h0M358.0 393.3h0M372.1 389.3h0M414.0 375.7h0M358.6 311.6h0M378.6 300.4h0M362.3 362.9h0M376.5 484.6h0M377.3 296.4h0M358.5 472.6h0M368.6 492.6h0M376.6 294.8h0M377.2 426.1h0M370.4 361.3h0M360.9 455.7h0M360.5 442.9h0M370.8 507.8h0M373.0 389.3h0M374.7 311.6h0M335.1 378.1h0M380.0 314.0h0M368.5 330.0h0M370.0 328.4h0M379.4 503.0h0M371.6 396.5h0M377.5 472.6h0M360.2 437.3h0M368.1 473.4h0M364.9 310.8h0M373.4 346.9h0M378.6 486.2h0M372.7 425.3h0M373.3 504.6h0M368.6 329.2h0M378.2 294.0h0M360.9 390.9h0M350.4 440.5h0M383.3 374.9h0M375.6 427.7h0"/><path class="k18" d="M341.1 294.0h0M334.2 423.7h0M344.6 487.0h0M336.2 425.3h0M377.5 471.8h0M342.3 489.4h0M339.9 422.9h0M355.0 503.0h0M398.0 440.5h0M364.2 475.0h0M337.6 424.5h0M319.7 376.5h0M358.4 359.7h0M371.7 438.1h0M351.7 471.0h0M392.5 375.7h0M360.6 502.2h0M334.8 391.7h0M350.8 471.8h0M352.0 344.5h0M360.0 307.6h0M343.0 488.6h0M373.5 438.9h0M370.6 439.7h0M339.2 296.4h0M366.3 439.7h0M349.8 298.0h0M316.0 376.5h0"/><path class="k4" d="M370.0 471.0h0M402.8 373.3h0M365.0 392.5h0M369.6 456.5h0M380.7 487.0h0M359.6 423.7h0M362.8 475.0h0M363.6 491.0h0M346.2 503.8h0M366.0 425.3h0M377.2 489.4h0M375.4 394.1h0M370.4 396.5h0M358.1 458.1h0M374.6 507.0h0M353.3 409.3h0M358.9 439.7h0M372.3 328.4h0M358.2 490.2h0M366.1 490.2h0M378.4 422.1h0M387.5 425.3h0M365.4 294.0h0M367.5 406.9h0M352.5 409.3h0M363.8 342.9h0M378.6 409.3h0M371.4 487.8h0M374.7 312.4h0M365.7 391.7h0M366.3 408.5h0M368.3 425.3h0M349.0 344.5h0M346.5 391.7h0M364.2 346.9h0M357.9 390.9h0M347.2 442.1h0M372.6 396.5h0M383.4 378.1h0M379.6 421.3h0M353.2 313.2h0M352.0 312.4h0M368.6 389.3h0M368.1 376.5h0"/><path class="k8" d="M356.2 440.5h0M355.0 441.3h0M357.8 343.7h0M372.7 483.8h0M346.8 293.2h0M361.6 506.2h0M353.0 360.5h0M364.9 409.3h0M359.6 406.1h0M361.0 503.8h0M364.0 325.2h0M371.9 295.6h0M374.6 425.3h0M343.8 392.5h0M350.1 294.0h0M332.5 296.4h0M360.0 443.7h0M358.4 362.1h0M365.3 327.6h0M390.2 427.7h0M358.3 488.6h0"/><path class="k3" d="M373.9 458.1h0M361.5 361.3h0M360.2 454.1h0M368.4 491.8h0M384.1 427.7h0M364.5 296.4h0M361.8 406.9h0M362.2 441.3h0M363.6 357.3h0M362.3 342.9h0M364.7 333.2h0M344.4 441.3h0M375.4 374.9h0M360.0 330.0h0M363.3 394.9h0M385.3 504.6h0M380.8 394.1h0M364.3 459.7h0M400.1 378.1h0M365.1 410.9h0M352.1 505.4h0M359.5 408.5h0M376.2 392.5h0M376.5 299.6h0M352.6 392.5h0M346.1 296.4h0M361.0 407.7h0M395.0 426.1h0M357.0 458.9h0M363.4 471.8h0M359.3 503.8h0M370.5 390.1h0M369.2 292.4h0M366.9 427.7h0M383.1 471.8h0M373.0 314.8h0M363.1 376.5h0M372.4 489.4h0M365.2 328.4h0M355.2 438.9h0M385.0 375.7h0M358.0 342.1h0M383.1 298.0h0M375.8 394.1h0M354.4 439.7h0M354.9 506.2h0M376.8 314.0h0M365.3 362.1h0M363.5 422.1h0M365.9 455.7h0M375.6 374.1h0M374.5 501.4h0M378.2 471.0h0M395.3 377.3h0M372.3 470.2h0M377.4 377.3h0M377.2 311.6h0M357.9 341.3h0M366.8 406.1h0M359.9 390.1h0M399.3 296.4h0M379.6 389.3h0M357.4 442.9h0M350.9 504.6h0M352.4 443.7h0M383.0 376.5h0M333.4 295.6h0M373.3 421.3h0M369.1 328.4h0M348.2 487.8h0M345.3 505.4h0M365.6 441.3h0M358.3 408.5h0M391.4 376.5h0M358.6 376.5h0M370.8 408.5h0M369.0 311.6h0M364.4 316.4h0M384.3 296.4h0M353.8 392.5h0M375.7 394.9h0M351.2 423.7h0M351.1 471.0h0M371.0 507.0h0"/><path class="k10" d="M369.5 297.2h0M371.6 294.8h0M386.2 392.5h0M353.9 442.1h0M366.5 313.2h0M363.9 314.0h0M360.4 411.7h0M306.5 375.7h0M362.3 407.7h0M375.6 345.3h0M381.9 314.0h0M369.6 293.2h0M360.2 452.5h0"/><path class="k19" d="M332.8 298.0h0M369.2 442.9h0M398.0 504.6h0M352.0 474.2h0M330.2 378.1h0M326.5 295.6h0M341.0 490.2h0M318.6 296.4h0M332.9 374.9h0M338.9 488.6h0M320.3 296.4h0M373.4 442.1h0M330.2 375.7h0M331.2 297.2h0M351.3 328.4h0M359.2 457.3h0M408.0 504.6h0M320.9 377.3h0M338.8 294.0h0M348.7 294.8h0M342.2 488.6h0M350.3 489.4h0M351.9 295.6h0M358.3 438.1h0M295.0 296.4h0M296.9 296.4h0M354.9 361.3h0M329.8 295.6h0M354.2 425.3h0M345.7 328.4h0M339.3 376.5h0M356.0 294.8h0M371.7 442.1h0M379.6 440.5h0M339.5 294.8h0M351.5 473.4h0M350.9 425.3h0"/><path class="k1" d="M373.0 390.1h0M389.3 377.3h0M375.3 507.0h0M388.3 472.6h0M374.2 422.1h0M371.4 343.7h0M368.0 408.5h0M361.0 308.4h0M369.7 491.0h0M408.6 296.4h0M354.2 438.1h0M368.2 421.3h0M369.8 410.9h0M367.4 359.7h0M369.4 346.1h0M373.9 378.1h0M379.1 395.7h0M375.7 502.2h0M387.9 295.6h0M374.1 346.1h0M371.9 390.9h0M354.7 359.7h0M383.5 295.6h0M356.2 296.4h0M404.7 424.5h0M405.4 374.9h0M360.7 343.7h0M374.3 310.0h0M376.6 490.2h0M386.2 376.5h0M314.1 376.5h0M355.0 437.3h0M356.7 489.4h0M384.7 424.5h0M363.4 309.2h0M387.2 391.7h0M360.6 438.9h0M386.9 408.5h0M379.7 298.0h0M349.6 312.4h0M392.5 377.3h0M370.3 394.1h0M425.0 376.5h0M332.5 504.6h0M372.3 454.9h0M390.9 425.3h0M365.8 309.2h0M365.6 469.4h0M360.8 331.6h0M390.8 375.7h0M370.6 456.5h0M388.9 426.1h0M370.6 390.9h0M380.7 426.1h0M373.0 294.8h0M374.5 359.7h0M359.2 394.9h0M372.6 471.8h0M348.8 441.3h0M396.2 378.1h0M380.7 374.1h0M372.9 406.9h0M370.8 423.7h0M380.7 293.2h0M353.3 438.9h0M356.8 507.0h0M381.3 297.2h0M340.0 328.4h0M327.8 504.6h0M375.1 376.5h0M360.0 410.1h0M375.8 422.1h0M404.3 374.9h0M351.5 506.2h0M365.1 506.2h0M400.0 373.3h0M370.9 454.9h0M367.6 394.1h0M375.5 294.8h0M367.8 471.8h0M362.3 409.3h0M366.4 442.9h0M393.2 328.4h0M384.7 328.4h0M409.1 377.3h0M363.7 308.4h0M360.0 317.2h0M372.6 407.7h0M376.1 390.9h0M370.3 458.1h0"/><path class="k11" d="M353.4 298.8h0M341.6 377.3h0M367.6 299.6h0M319.2 374.9h0M339.2 393.3h0M358.4 294.8h0M373.2 439.7h0M366.2 406.1h0M371.2 470.2h0M291.4 376.5h0M372.6 292.4h0M400.6 374.1h0M363.8 458.9h0M359.4 410.9h0M353.1 344.5h0"/><path class="k9" d="M369.1 298.0h0M361.9 459.7h0M401.6 377.3h0M358.9 459.7h0M308.8 376.5h0M368.6 314.8h0M363.6 442.9h0M380.9 425.3h0M362.8 394.1h0M343.4 297.2h0M319.8 375.7h0M365.7 437.3h0M377.7 300.4h0M369.2 344.5h0M365.5 394.9h0M361.9 404.5h0M360.6 475.8h0M350.7 407.7h0"/><path class="k12" d="M362.9 437.3h0M313.3 376.5h0M357.7 329.2h0M361.0 452.5h0M372.4 474.2h0M339.0 425.3h0M344.3 490.2h0M358.7 390.1h0M358.8 454.9h0M378.2 298.0h0M356.1 392.5h0M367.6 342.1h0M328.2 295.6h0M315.1 375.7h0M366.3 360.5h0M371.4 293.2h0"/><path class="k16" d="M361.0 406.1h0M368.8 294.0h0M367.1 294.8h0M297.2 376.5h0M370.7 298.0h0M343.1 490.2h0M367.3 298.8h0M357.3 361.3h0M341.5 393.3h0M342.9 422.9h0M368.4 475.8h0M352.9 312.4h0M369.8 296.4h0M337.0 422.9h0M337.1 391.7h0M326.2 376.5h0M355.8 471.0h0M355.6 406.9h0M368.5 348.5h0M355.8 409.3h0M343.2 295.6h0M339.8 390.9h0M343.1 294.0h0M349.1 503.8h0M355.0 295.6h0M371.1 441.3h0M358.6 507.0h0M338.6 297.2h0M341.6 422.9h0M367.8 439.7h0M352.5 472.6h0M327.4 375.7h0M341.1 374.9h0M328.9 295.6h0M362.8 341.3h0M388.4 440.5h0M374.2 439.7h0"/><path class="k14" d="M355.7 503.0h0M341.2 394.1h0M337.3 374.9h0M371.6 439.7h0M370.9 472.6h0M330.0 425.3h0M382.6 294.8h0M367.4 472.6h0M362.6 362.1h0M385.1 297.2h0M373.1 295.6h0M353.4 504.6h0"/><path class="k7" d="M361.8 452.5h0M355.5 407.7h0M381.5 295.6h0M368.5 390.1h0M349.1 360.5h0M381.1 409.3h0M346.8 294.0h0M367.6 340.5h0M367.6 344.5h0M370.9 422.1h0M354.0 442.9h0M360.6 438.1h0M359.6 458.1h0M359.9 409.3h0M367.1 471.0h0M351.5 438.1h0M363.8 339.7h0M384.9 294.0h0M374.9 491.8h0M367.5 341.3h0"/><path class="k15" d="M365.9 474.2h0M380.5 440.5h0M369.5 474.2h0M357.9 454.9h0M354.4 298.0h0M368.5 406.9h0M328.4 374.1h0M346.6 425.3h0M336.3 294.8h0M366.9 443.7h0M379.7 486.2h0M345.3 487.8h0M348.7 299.6h0M349.8 472.6h0M333.2 423.7h0M288.4 376.5h0M382.5 423.7h0M359.2 440.5h0M332.1 296.4h0M341.3 293.2h0M332.0 376.5h0M330.7 294.8h0M352.4 471.8h0M340.1 298.0h0M350.1 424.5h0M315.8 377.3h0"/><path class="k2" d="M364.9 314.0h0M368.8 362.1h0M355.4 345.3h0M356.0 442.9h0M357.1 394.1h0M355.9 342.1h0M354.4 408.5h0M367.5 405.3h0M370.9 489.4h0M359.8 407.7h0M376.7 345.3h0M309.4 377.3h0M366.4 349.3h0M344.5 440.5h0M383.2 504.6h0M372.0 455.7h0M386.0 297.2h0M367.6 391.7h0M397.5 375.7h0M371.8 422.9h0M379.7 424.5h0M365.2 503.8h0M367.5 455.7h0M375.8 503.0h0M372.5 294.0h0M373.4 422.9h0M365.6 410.9h0M374.7 313.2h0M368.8 474.2h0M359.6 409.3h0M364.9 358.9h0M366.2 310.8h0M357.9 394.1h0M371.5 425.3h0M377.6 393.3h0M382.2 471.0h0M404.1 374.1h0M378.0 314.8h0M377.9 422.9h0M375.9 426.1h0M369.3 293.2h0M383.9 294.8h0M362.0 458.9h0M373.4 374.9h0M356.9 422.9h0M351.2 503.0h0M374.7 315.6h0M358.0 457.3h0M356.3 309.2h0M375.7 310.0h0M405.4 375.7h0M350.4 442.1h0M380.5 487.8h0M364.5 312.4h0M397.7 424.5h0M377.2 427.7h0M331.3 377.3h0M354.6 297.2h0M427.0 296.4h0M376.1 344.5h0M377.4 294.8h0M367.8 375.7h0M359.4 310.0h0M374.3 503.0h0M365.3 424.5h0M376.3 376.5h0M371.5 392.5h0M337.4 440.5h0M371.4 454.1h0M391.0 471.8h0M362.8 394.9h0M356.3 346.9h0M371.5 507.8h0M374.0 347.7h0M347.7 456.5h0M355.3 394.1h0M353.0 439.7h0M373.8 471.8h0M366.2 330.0h0M371.1 504.6h0M374.5 377.3h0M372.1 502.2h0M410.8 376.5h0M413.1 376.5h0M362.0 349.3h0M323.3 377.3h0M370.1 343.7h0M369.7 439.7h0M373.9 397.3h0M358.1 406.1h0M379.5 390.9h0M362.8 390.1h0M334.4 504.6h0M321.3 378.1h0M358.6 438.9h0M378.2 291.6h0M379.5 377.3h0M363.8 486.2h0M380.8 471.0h0"/><path class="k6" d="M371.4 421.3h0M355.1 475.0h0M319.5 377.3h0M370.2 298.8h0M371.5 408.5h0M360.2 455.7h0M365.4 331.6h0M377.6 293.2h0M356.6 503.8h0M346.2 408.5h0M370.9 374.9h0M397.1 374.9h0M339.6 374.9h0M362.1 314.0h0M371.4 312.4h0M343.5 299.6h0M377.2 316.4h0M363.0 438.9h0M390.4 393.3h0"/><path class="k17" d="M335.3 392.5h0M348.3 297.2h0M374.5 300.4h0M366.6 472.6h0M340.1 391.7h0M342.5 423.7h0M329.5 408.5h0M389.7 440.5h0M360.6 362.9h0M352.7 489.4h0M341.7 426.1h0M354.1 472.6h0M322.5 378.1h0M336.0 377.3h0M363.1 359.7h0M372.0 299.6h0M368.9 297.2h0M353.8 296.4h0M361.5 294.8h0M351.7 360.5h0M371.6 376.5h0M332.9 297.2h0M346.8 296.4h0M347.8 294.8h0M375.8 441.3h0M361.1 295.6h0M351.0 487.8h0M365.1 342.1h0M336.5 376.5h0M287.5 296.4h0M357.1 362.9h0M342.5 294.0h0"/><path class="k5" d="M384.5 312.4h0M363.3 506.2h0M380.7 391.7h0M360.5 475.0h0M377.0 425.3h0M362.1 453.3h0M407.1 377.3h0M371.0 346.9h0M355.4 440.5h0M367.3 330.8h0M364.2 411.7h0M375.2 427.7h0M357.1 474.2h0M383.6 390.9h0M365.3 458.1h0M370.7 502.2h0M360.3 488.6h0M357.8 315.6h0M359.8 460.5h0M365.4 340.5h0M375.0 471.8h0"/><path class="k13" d="M364.0 437.3h0M302.4 377.3h0M362.5 473.4h0M370.7 294.8h0M380.5 292.4h0M406.1 376.5h0M366.6 470.2h0M370.0 300.4h0M340.1 393.3h0M350.6 456.5h0M362.6 442.9h0M341.7 488.6h0M362.5 439.7h0M355.9 361.3h0"/><path class="k6" d="M403.9 378.9h0M355.8 342.9h0M367.5 314.0h0M367.4 327.6h0M354.5 505.4h0M390.2 376.5h0M376.3 360.5h0M356.8 442.1h0M373.5 410.1h0M358.7 471.0h0M365.2 324.4h0M377.9 395.7h0M362.3 503.8h0M379.3 491.0h0M364.9 315.6h0M360.5 363.7h0M378.8 506.2h0M332.6 375.7h0M306.4 377.3h0M361.4 473.4h0"/><path class="k14" d="M387.3 376.5h0M304.8 375.7h0M338.9 377.3h0M354.2 409.3h0M353.1 298.0h0M355.1 473.4h0M372.2 441.3h0M375.5 296.4h0M363.4 348.5h0M324.6 377.3h0M312.1 296.4h0M349.9 407.7h0M316.6 296.4h0M312.2 377.3h0M366.4 294.0h0M326.2 378.1h0M335.9 294.8h0"/><path class="k18" d="M344.2 293.2h0M347.9 503.8h0M298.9 328.4h0M360.0 503.8h0M359.5 343.7h0M358.6 360.5h0M352.5 343.7h0M333.0 391.7h0M350.5 298.8h0M363.4 298.0h0M363.5 364.5h0M365.2 315.6h0M356.9 376.5h0M328.9 377.3h0M370.7 442.1h0M333.8 296.4h0M359.6 474.2h0M375.2 441.3h0M357.5 376.5h0M345.8 294.8h0M385.4 294.8h0M394.0 504.6h0M362.8 441.3h0M440.0 504.6h0M376.1 439.7h0M347.9 423.7h0M356.6 470.2h0"/><path class="k11" d="M369.2 347.7h0M414.0 377.3h0M350.1 473.4h0M364.5 438.1h0M323.6 374.9h0M346.4 293.2h0M344.7 425.3h0M368.6 409.3h0M364.6 346.1h0M344.8 393.3h0M365.4 443.7h0M355.0 503.8h0M362.6 348.5h0M363.1 298.8h0M340.4 422.9h0M362.9 310.8h0"/><path class="k10" d="M335.1 378.9h0M373.1 472.6h0M342.5 374.9h0M349.7 409.3h0M362.2 426.9h0M367.6 475.0h0M361.6 298.8h0M357.0 426.1h0M360.9 309.2h0M356.0 344.5h0M344.9 503.8h0M374.7 472.6h0M369.2 394.9h0M379.0 295.6h0M340.7 392.5h0M366.4 295.6h0M359.1 312.4h0M355.6 314.0h0M362.7 316.4h0"/><path class="k4" d="M377.6 408.5h0M367.0 295.6h0M372.9 360.5h0M374.8 422.9h0M372.0 342.1h0M398.1 378.1h0M362.3 506.2h0M368.6 484.6h0M357.6 408.5h0M375.7 391.7h0M332.3 374.1h0M376.6 297.2h0M355.3 487.8h0M351.3 439.7h0M348.9 442.1h0M365.9 503.8h0M368.7 340.5h0M340.7 440.5h0M376.9 315.6h0M368.7 406.1h0M374.7 360.5h0M391.7 426.1h0M346.0 392.5h0M381.0 377.3h0M392.5 296.4h0M364.5 360.5h0M373.7 296.4h0M345.8 425.3h0M360.9 314.8h0M370.6 471.0h0M355.0 344.5h0M372.0 472.6h0M364.8 356.5h0M394.1 426.9h0M362.9 453.3h0M360.5 312.4h0M366.6 328.4h0M336.7 504.6h0M352.1 442.1h0M374.8 314.8h0M369.3 342.1h0M362.4 458.9h0M362.0 296.4h0"/><path class="k1" d="M389.1 422.1h0M299.8 375.7h0M377.9 429.3h0M405.3 374.1h0M359.3 411.7h0M367.4 310.8h0M360.4 470.2h0M382.7 311.6h0M363.9 438.1h0M379.5 490.2h0M326.9 440.5h0M367.9 296.4h0M373.0 359.7h0M361.6 443.7h0M417.0 328.4h0M382.4 394.9h0M370.4 312.4h0M376.3 308.4h0M437.6 376.5h0M399.7 375.7h0M362.8 471.0h0M388.3 391.7h0M363.0 361.3h0M366.0 410.1h0M356.0 391.7h0M374.9 346.9h0M364.2 426.1h0M381.4 505.4h0M385.0 421.3h0M358.7 342.9h0M354.4 438.9h0M382.1 294.0h0M352.7 440.5h0M401.6 374.9h0M388.5 297.2h0M342.1 376.5h0M370.9 474.2h0M346.6 423.7h0M358.3 437.3h0M386.2 394.1h0M374.6 506.2h0M361.6 324.4h0M375.4 397.3h0M313.9 375.7h0M366.2 348.5h0M366.4 422.1h0M370.6 487.8h0M426.7 376.5h0M375.2 390.1h0M386.6 422.9h0M344.8 312.4h0M386.6 471.8h0M346.5 487.8h0M373.9 491.8h0M423.5 376.5h0M358.7 504.6h0M370.4 426.9h0M354.8 391.7h0M307.3 376.5h0M363.8 331.6h0M378.0 424.5h0M360.3 472.6h0M372.2 471.0h0M380.3 312.4h0M362.0 410.9h0M379.2 293.2h0M363.6 393.3h0M389.4 488.6h0M341.6 394.1h0M400.2 374.9h0M353.2 441.3h0M374.1 393.3h0M373.7 291.6h0M378.1 308.4h0M371.3 458.1h0M394.7 424.5h0M381.0 421.3h0M375.3 297.2h0M382.6 504.6h0M359.7 505.4h0"/><path class="k0" d="M344.0 393.3h0M372.4 329.2h0M388.4 376.5h0M373.9 486.2h0M366.8 503.0h0M370.1 438.1h0M357.2 455.7h0M381.0 487.8h0M375.3 408.5h0M373.4 378.9h0M377.8 299.6h0M367.1 487.0h0M369.4 406.1h0M391.7 425.3h0M373.8 374.1h0M351.9 394.1h0M365.2 404.5h0M370.0 454.9h0M368.1 410.9h0M377.0 344.5h0M398.1 378.9h0M350.9 311.6h0M346.3 312.4h0M352.2 503.8h0M376.7 391.7h0M388.0 298.0h0M369.4 421.3h0M372.3 475.0h0M382.3 313.2h0M389.2 422.9h0M376.6 423.7h0M352.9 391.7h0M357.6 316.4h0M378.1 425.3h0M374.0 387.7h0M379.0 315.6h0M366.4 343.7h0M368.2 505.4h0M356.3 441.3h0M366.8 455.7h0M339.5 504.6h0M365.0 390.1h0M366.5 424.5h0M375.7 505.4h0M369.1 475.0h0M367.6 410.1h0M373.7 508.6h0M374.8 407.7h0M392.8 422.1h0M377.7 491.8h0M389.1 473.4h0M381.3 503.8h0M358.2 456.5h0M405.6 296.4h0M373.0 454.1h0M358.3 459.7h0M368.2 456.5h0M365.3 325.2h0M361.6 327.6h0M363.9 330.8h0M366.6 390.9h0M356.1 314.8h0M380.5 473.4h0M361.8 346.9h0M387.1 471.0h0M380.4 423.7h0M351.7 409.3h0M381.8 394.9h0M375.1 426.9h0M372.1 426.9h0M465.0 328.4h0M345.8 439.7h0M377.1 422.1h0M365.6 314.0h0M371.6 360.5h0M376.7 485.4h0M366.6 458.1h0M341.5 375.7h0M359.2 298.0h0M389.2 424.5h0M361.3 412.5h0M378.0 423.7h0M373.0 487.0h0M368.5 346.9h0M378.8 425.3h0M380.9 471.8h0M370.7 457.3h0M365.3 392.5h0M447.0 376.5h0M363.3 490.2h0M371.2 358.9h0M371.9 294.0h0M371.5 426.1h0M382.5 421.3h0M332.1 440.5h0M364.8 395.7h0M378.7 392.5h0M377.2 395.7h0M359.6 326.8h0M362.8 326.0h0M362.4 410.1h0M371.5 329.2h0M377.3 487.0h0M367.3 326.8h0M384.9 392.5h0M355.8 311.6h0M375.7 420.5h0M362.1 474.2h0M368.6 487.0h0M359.3 490.2h0M381.9 390.9h0M370.7 410.1h0M376.0 426.9h0M374.7 309.2h0M351.3 472.6h0M371.0 491.8h0M381.6 375.7h0M387.1 390.9h0M388.6 426.1h0"/><path class="k17" d="M333.3 392.5h0M344.4 377.3h0M378.2 374.1h0M374.8 293.2h0M370.7 292.4h0M364.4 504.6h0M356.0 458.1h0M358.9 437.3h0M357.5 347.7h0M348.6 407.7h0M372.6 472.6h0M351.0 473.4h0M310.8 408.5h0M384.3 377.3h0M323.6 375.7h0M312.1 376.5h0M369.5 471.8h0M365.4 343.7h0M366.8 475.0h0M345.8 298.0h0M339.8 425.3h0M361.2 471.0h0M334.5 376.5h0M371.5 390.9h0M361.3 360.5h0M346.8 473.4h0M358.5 503.8h0M361.5 358.1h0M341.1 487.0h0M364.4 442.1h0M358.1 502.2h0M370.2 506.2h0"/><path class="k12" d="M352.6 295.6h0M363.8 505.4h0M358.3 297.2h0M351.0 344.5h0M349.4 489.4h0M338.2 294.8h0M352.9 506.2h0M346.4 298.8h0M362.5 345.3h0M343.4 423.7h0"/><path class="k13" d="M355.1 470.2h0M365.7 470.2h0M355.9 454.1h0M349.2 488.6h0M371.8 489.4h0M365.8 345.3h0"/><path class="k8" d="M360.5 376.5h0M360.4 295.6h0M364.5 310.0h0M373.4 294.8h0M351.3 407.7h0M386.7 295.6h0M320.9 374.9h0M325.3 377.3h0M347.1 424.5h0M379.3 426.1h0M355.8 410.1h0M348.5 391.7h0M360.0 471.0h0M331.7 379.7h0M361.1 391.7h0M377.9 317.2h0M373.9 294.0h0M358.3 506.2h0M345.9 441.3h0M344.6 360.5h0M383.1 375.7h0M352.8 473.4h0M370.3 345.3h0"/><path class="k16" d="M366.3 310.0h0M360.1 342.1h0M373.1 441.3h0M381.4 294.0h0M356.4 474.2h0M349.7 391.7h0M351.1 506.2h0M361.6 347.7h0M353.0 298.8h0M344.6 505.4h0M313.2 375.7h0M360.9 471.8h0M364.0 455.7h0M370.2 438.9h0M339.3 295.6h0M370.5 293.2h0M361.1 294.0h0M336.8 426.1h0M329.4 378.1h0M347.9 489.4h0M329.2 296.4h0M322.6 376.5h0M351.2 424.5h0M364.7 454.1h0M328.5 376.5h0M347.6 392.5h0M352.0 298.8h0M368.0 471.0h0"/><path class="k19" d="M457.0 504.6h0M331.8 424.5h0M372.6 442.1h0M371.7 291.6h0M351.8 298.0h0M342.1 378.1h0M380.5 299.6h0M353.4 407.7h0M333.7 426.1h0M338.1 394.1h0M322.7 374.9h0M360.2 330.8h0M345.9 489.4h0M332.5 294.8h0M345.0 408.5h0M334.6 426.1h0M347.6 296.4h0M358.2 362.9h0M285.4 296.4h0M333.4 298.0h0M379.3 440.5h0M335.3 297.2h0M315.1 296.4h0M339.0 423.7h0M322.0 297.2h0M361.6 505.4h0M322.9 297.2h0M301.3 296.4h0M337.8 392.5h0M341.2 298.8h0M361.1 470.2h0M342.3 299.6h0M366.7 347.7h0M370.8 297.2h0M368.0 486.2h0M377.8 301.2h0M331.0 424.5h0M353.7 472.6h0M377.6 374.9h0"/><path class="k3" d="M378.9 409.3h0M375.8 375.7h0M389.4 295.6h0M365.6 393.3h0M357.0 407.7h0M351.9 488.6h0M366.8 362.9h0M372.5 486.2h0M373.9 343.7h0M369.5 330.0h0M353.0 454.9h0M377.1 393.3h0M357.2 391.7h0M439.6 376.5h0M378.0 407.7h0M366.6 405.3h0M362.6 332.4h0M403.0 296.4h0M366.8 377.3h0M354.5 440.5h0M366.7 489.4h0M341.6 376.5h0M381.2 488.6h0M377.8 309.2h0M368.7 471.8h0M368.4 311.6h0M378.5 426.9h0M364.8 406.1h0M388.3 375.7h0M382.6 390.1h0M430.5 376.5h0M359.8 487.8h0M353.2 442.1h0M377.2 394.1h0M383.5 394.9h0M361.7 341.3h0M362.5 454.1h0M395.8 424.5h0M357.5 502.2h0M366.8 410.9h0M373.2 409.3h0M362.3 330.8h0M375.8 490.2h0M368.8 390.9h0M355.9 423.7h0M378.6 292.4h0M335.5 504.6h0M373.6 489.4h0M372.6 376.5h0M364.4 488.6h0M357.3 315.6h0M367.9 390.1h0M349.0 506.2h0M372.8 508.6h0M374.6 301.2h0M377.4 471.0h0M361.6 332.4h0M369.0 422.9h0M370.9 406.1h0M358.4 296.4h0M365.4 346.1h0M331.7 375.7h0M401.9 377.3h0M361.2 410.9h0M373.1 507.0h0M372.3 301.2h0M365.7 422.1h0M350.7 393.3h0M381.7 426.9h0M357.2 296.4h0M379.0 300.4h0"/><path class="k5" d="M378.3 491.0h0M367.2 488.6h0M374.0 492.6h0M390.8 473.4h0M360.8 330.0h0M406.6 376.5h0M356.6 487.0h0M358.1 422.9h0M333.9 376.5h0M363.8 342.1h0M378.5 472.6h0M387.0 297.2h0M355.9 438.1h0M359.7 361.3h0M357.2 439.7h0M394.2 297.2h0M354.4 310.8h0M369.4 427.7h0M353.8 503.0h0M367.1 376.5h0M378.8 294.8h0M361.7 312.4h0M378.1 488.6h0M349.7 294.8h0M377.7 294.0h0M366.4 315.6h0M383.8 295.6h0"/><path class="k2" d="M366.1 339.7h0M355.0 439.7h0M361.1 330.8h0M363.6 442.1h0M376.8 308.4h0M343.7 440.5h0M370.7 377.3h0M386.3 427.7h0M370.8 359.7h0M379.6 428.5h0M365.8 471.0h0M356.3 393.3h0M363.9 458.1h0M363.3 487.0h0M373.0 491.0h0M363.2 406.9h0M373.0 458.1h0M381.1 504.6h0M340.2 440.5h0M363.4 316.4h0M385.7 392.5h0M333.8 504.6h0M364.4 323.6h0M371.9 346.1h0M376.6 502.2h0M387.4 392.5h0M380.6 377.3h0M388.0 390.9h0M366.6 456.5h0M368.3 315.6h0M378.0 420.5h0M344.9 344.5h0M357.0 310.8h0M381.4 376.5h0M354.6 489.4h0M376.4 396.5h0M374.0 483.8h0M342.5 439.7h0M364.0 460.5h0M363.9 326.8h0M353.5 489.4h0M368.0 314.0h0M381.2 378.9h0M373.0 428.5h0M358.5 475.8h0M362.8 311.6h0M373.8 345.3h0M383.3 503.8h0M398.5 376.5h0M356.8 314.8h0M383.3 294.0h0M418.2 376.5h0M376.5 426.9h0M377.2 407.7h0M357.2 471.8h0M349.5 425.3h0M371.3 341.3h0M325.5 504.6h0M378.4 487.8h0M357.0 393.3h0M375.7 390.1h0M368.6 457.3h0M362.0 425.3h0M393.2 472.6h0M344.8 439.7h0M360.2 361.3h0M368.0 504.6h0M372.0 378.1h0M375.2 420.5h0M405.9 378.9h0M388.0 393.3h0M360.5 313.2h0M356.6 314.0h0M379.8 425.3h0M368.1 411.7h0M325.1 378.1h0M377.3 487.8h0M355.3 342.9h0M350.0 313.2h0M377.2 488.6h0M336.2 391.7h0M366.7 345.3h0M366.1 327.6h0M376.8 392.5h0M383.8 471.8h0"/><path class="k9" d="M358.2 407.7h0M356.2 359.7h0M360.5 503.0h0M359.1 342.1h0M354.8 393.3h0M373.3 456.5h0M374.6 294.0h0M363.6 363.7h0M358.2 327.6h0M384.7 474.2h0M361.4 316.4h0M413.3 376.5h0M373.5 377.3h0M363.8 344.5h0M318.6 376.5h0M353.2 487.8h0M341.8 440.5h0M357.1 342.9h0M359.3 442.1h0"/><path class="k7" d="M377.7 503.0h0M352.3 455.7h0M376.2 310.8h0M353.6 360.5h0M348.3 438.9h0M378.6 473.4h0M355.2 313.2h0M360.3 423.7h0M308.1 377.3h0M371.3 458.9h0M386.1 298.0h0M362.6 314.8h0M361.6 308.4h0M356.0 456.5h0M350.5 312.4h0M374.4 314.8h0M322.6 375.7h0M363.8 439.7h0M377.2 291.6h0M346.1 376.5h0M352.5 391.7h0M376.8 294.0h0M375.8 360.5h0M366.4 389.3h0M384.6 472.6h0M373.5 475.0h0M368.8 393.3h0"/><path class="k15" d="M328.2 424.5h0M363.4 472.6h0M317.7 296.4h0M364.5 455.7h0M330.9 296.4h0M370.4 469.4h0M334.9 297.2h0M373.5 292.4h0M365.8 404.5h0M378.7 298.8h0M285.2 376.5h0M346.8 408.5h0M370.4 475.0h0M383.0 472.6h0M371.7 503.8h0M339.8 298.8h0M320.3 375.7h0M362.3 295.6h0M365.6 395.7h0M380.6 375.7h0M345.4 296.4h0M348.7 298.0h0M359.1 489.4h0M364.5 442.9h0M366.0 438.9h0M346.7 297.2h0M349.3 293.2h0M305.7 375.7h0M378.5 296.4h0M341.2 298.0h0M353.7 359.7h0M372.2 310.0h0M334.8 374.9h0M341.7 391.7h0M350.0 423.7h0M337.4 376.5h0M359.9 473.4h0M384.4 376.5h0M349.6 503.8h0M347.2 298.0h0M374.7 298.8h0M366.7 437.3h0M356.8 361.3h0M310.1 296.4h0M336.6 298.0h0M332.8 379.7h0M327.5 378.1h0M375.2 424.5h0M369.0 503.0h0"/><path class="k9" d="M352.0 424.5h0M347.5 376.5h0M360.5 406.9h0M363.5 349.3h0M368.2 297.2h0M348.2 505.4h0M368.5 408.5h0M398.7 375.7h0M337.9 295.6h0M341.4 378.1h0M382.6 296.4h0M392.0 422.1h0M376.2 295.6h0M362.0 356.5h0M365.3 332.4h0M372.1 300.4h0M359.8 296.4h0M359.6 393.3h0M362.2 298.0h0M360.4 471.8h0"/><path class="k0" d="M383.4 391.7h0M389.3 423.7h0M365.3 458.9h0M381.5 314.8h0M365.3 454.9h0M375.3 422.1h0M378.8 489.4h0M412.1 375.7h0M364.7 394.1h0M367.1 375.7h0M371.4 362.1h0M371.1 360.5h0M355.0 455.7h0M363.3 453.3h0M366.3 504.6h0M424.0 376.5h0M357.7 312.4h0M372.8 345.3h0M377.2 314.8h0M383.1 421.3h0M349.7 455.7h0M361.8 326.0h0M360.8 394.9h0M370.7 441.3h0M369.7 408.5h0M383.0 408.5h0M401.5 296.4h0M377.8 503.8h0M373.4 347.7h0M371.7 486.2h0M359.4 362.9h0M407.7 377.3h0M367.9 487.8h0M408.1 296.4h0M331.2 378.9h0M372.9 457.3h0M401.1 374.1h0M380.7 311.6h0M390.9 426.1h0M379.2 473.4h0M334.0 472.6h0M382.8 427.7h0M381.1 407.7h0M371.3 328.4h0M334.8 440.5h0M379.7 426.9h0M377.6 376.5h0M352.3 438.1h0M393.7 297.2h0M408.0 376.5h0M361.1 437.3h0M371.7 428.5h0M314.2 504.6h0M364.1 409.3h0M382.3 392.5h0M363.8 390.1h0M386.9 421.3h0M371.0 314.8h0M361.5 325.2h0M384.3 423.7h0M379.2 297.2h0M367.8 329.2h0M366.3 314.8h0M382.9 390.9h0M370.0 310.8h0M357.0 328.4h0M376.6 312.4h0M369.8 375.7h0M367.1 408.5h0M360.6 458.9h0M352.5 407.7h0M353.0 503.8h0M366.1 346.1h0M376.2 316.4h0M381.4 310.0h0M377.4 343.7h0M367.2 410.1h0M375.3 439.7h0M365.6 422.9h0M380.9 392.5h0M413.0 375.7h0M364.8 487.8h0M354.3 310.0h0M375.8 491.0h0M354.7 454.9h0M389.4 392.5h0M353.5 502.2h0M357.1 313.2h0M370.2 422.1h0M382.0 378.1h0M378.7 422.9h0M363.8 426.9h0M371.6 491.0h0M343.6 503.8h0M384.6 471.8h0M362.5 392.5h0M377.1 298.8h0M362.5 331.6h0M361.5 310.0h0M367.9 506.2h0M370.1 503.8h0M378.0 310.0h0M397.4 328.4h0M381.7 408.5h0M367.4 346.1h0M346.7 344.5h0M401.1 373.3h0M378.0 307.6h0M357.2 311.6h0M379.6 394.9h0M370.2 389.3h0M346.9 440.5h0M352.1 503.0h0M363.7 324.4h0M363.9 459.7h0M375.3 503.8h0M379.1 311.6h0M419.0 376.5h0M381.6 378.1h0M353.9 423.7h0M365.8 358.9h0M377.3 394.9h0M356.4 502.2h0M387.1 423.7h0"/><path class="k2" d="M301.3 376.5h0M372.7 293.2h0M346.3 439.7h0M411.8 377.3h0M355.5 456.5h0M390.0 425.3h0M369.1 425.3h0M359.7 426.1h0M369.2 389.3h0M368.1 346.1h0M384.7 298.0h0M371.2 362.1h0M379.6 487.0h0M364.8 326.0h0M336.1 426.1h0M372.8 422.1h0M355.4 503.8h0M366.7 330.8h0M359.1 426.1h0M374.9 492.6h0M361.5 487.0h0M381.9 471.8h0M377.9 312.4h0M360.0 454.9h0M364.4 491.0h0M355.0 390.9h0M348.8 439.7h0M359.5 346.9h0M327.8 378.9h0M371.3 471.8h0M402.9 374.9h0M367.6 393.3h0M350.9 312.4h0M368.7 312.4h0M376.2 472.6h0M346.9 505.4h0M387.2 426.1h0M416.6 376.5h0M361.1 314.0h0M365.7 473.4h0M353.5 442.9h0M374.6 423.7h0M365.1 486.2h0M376.3 503.8h0M389.2 295.6h0M410.6 375.7h0M352.3 474.2h0M382.6 425.3h0M380.9 427.7h0M343.9 344.5h0M394.0 422.9h0M367.3 456.5h0M389.7 394.1h0M374.9 488.6h0M384.1 474.2h0M374.4 309.2h0M373.0 343.7h0M369.2 345.3h0M358.7 330.0h0M376.9 507.0h0M367.3 363.7h0M369.6 348.5h0M354.2 455.7h0M372.9 423.7h0M356.7 408.5h0M362.4 359.7h0M386.4 423.7h0M368.9 423.7h0M385.0 423.7h0M374.0 375.7h0M365.3 487.0h0M367.3 361.3h0M364.4 422.9h0M360.2 328.4h0M387.9 422.1h0M357.7 392.5h0M365.2 412.5h0M383.2 473.4h0M379.5 378.1h0M372.4 378.1h0M379.8 374.9h0M364.9 328.4h0M360.8 410.1h0M374.8 343.7h0M369.5 487.8h0M358.7 327.6h0M372.4 506.2h0M384.3 408.5h0M362.0 505.4h0"/><path class="k3" d="M371.7 389.3h0M371.2 490.2h0M375.4 472.6h0M374.8 379.7h0M360.4 422.9h0M377.9 394.1h0M366.7 358.1h0M353.6 506.2h0M404.8 378.1h0M374.1 424.5h0M384.2 473.4h0M389.6 390.9h0M369.4 457.3h0M361.9 392.5h0M358.6 392.5h0M391.6 296.4h0M391.0 392.5h0M393.9 296.4h0M397.2 296.4h0M366.4 294.8h0M361.9 422.9h0M399.3 374.1h0M380.1 315.6h0M390.9 297.2h0M363.0 452.5h0M347.8 391.7h0M372.4 347.7h0M353.2 345.3h0M374.6 294.8h0M372.3 456.5h0M370.1 409.3h0M353.5 455.7h0M360.9 346.9h0M363.1 424.5h0M340.5 456.5h0M392.8 297.2h0M360.0 297.2h0M377.7 419.7h0M364.2 342.1h0M383.3 394.1h0M376.7 310.0h0M371.0 456.5h0M381.5 474.2h0M381.9 423.7h0M365.9 405.3h0M370.1 298.0h0M375.0 391.7h0M370.9 344.5h0M431.4 376.5h0M365.3 394.1h0M404.9 378.9h0M398.7 374.1h0M375.0 489.4h0M386.7 391.7h0M359.7 439.7h0M301.3 377.3h0M359.6 311.6h0M372.3 297.2h0M372.5 299.6h0M374.7 345.3h0M387.9 426.9h0M369.0 491.0h0M367.2 331.6h0M358.0 443.7h0M381.9 393.3h0M371.4 394.9h0M349.1 504.6h0M381.7 311.6h0M372.7 491.8h0M368.5 394.1h0M377.5 485.4h0M366.0 406.9h0M357.7 489.4h0M373.5 491.0h0M356.9 343.7h0M378.8 420.5h0M384.0 375.7h0M407.4 378.1h0M391.5 472.6h0M339.6 424.5h0M373.0 501.4h0M369.5 393.3h0M400.6 379.7h0M378.1 295.6h0M352.4 442.9h0M354.7 504.6h0M376.9 373.3h0M377.9 316.4h0M367.0 348.5h0M387.3 294.8h0M367.3 315.6h0M361.4 344.5h0M362.1 390.1h0"/><path class="k16" d="M369.6 442.1h0M302.3 375.7h0M321.1 377.3h0M330.9 378.1h0M350.3 376.5h0M368.8 439.7h0M393.9 295.6h0M334.6 294.8h0M367.0 441.3h0M363.7 440.5h0M358.2 358.9h0M332.7 373.3h0M337.0 425.3h0M305.3 376.5h0M329.1 424.5h0M352.7 471.0h0M375.0 507.8h0M337.1 393.3h0M326.9 374.1h0M347.1 471.8h0M336.1 378.9h0M357.9 503.8h0M357.6 362.1h0M351.3 440.5h0M356.7 471.8h0M355.1 474.2h0M325.5 374.9h0M326.2 374.9h0M359.5 314.0h0M338.0 378.9h0"/><path class="k12" d="M342.6 424.5h0M364.4 358.9h0M321.8 376.5h0M349.0 376.5h0M359.0 294.8h0M331.8 378.1h0M340.8 294.8h0M362.9 474.2h0M361.3 296.4h0M337.5 294.0h0M306.1 376.5h0M361.7 345.3h0M352.5 441.3h0"/><path class="k5" d="M374.6 297.2h0M361.5 310.8h0M375.1 395.7h0M353.9 406.9h0M345.9 440.5h0M307.5 377.3h0M338.9 504.6h0M378.8 314.8h0M374.7 491.0h0M362.4 486.2h0M375.6 423.7h0M380.4 376.5h0M377.4 379.7h0M414.5 376.5h0M365.0 423.7h0M365.7 456.5h0M378.0 426.9h0M360.9 453.3h0"/><path class="k4" d="M379.1 503.8h0M371.0 491.0h0M434.5 376.5h0M357.9 503.0h0M374.9 484.6h0M364.8 425.3h0M364.6 506.2h0M363.0 408.5h0M331.3 374.9h0M397.5 378.1h0M361.9 408.5h0M377.6 344.5h0M371.4 440.5h0M357.2 410.1h0M369.9 491.8h0M406.1 374.1h0M387.4 422.1h0M392.9 422.9h0M361.6 362.1h0M374.7 394.9h0M370.7 422.9h0M369.5 326.8h0M377.3 297.2h0M374.1 428.5h0M375.5 301.2h0M366.7 504.6h0M391.1 377.3h0M374.4 311.6h0M379.4 298.8h0M365.7 347.7h0M367.5 342.9h0M303.5 377.3h0M360.0 394.1h0M348.6 296.4h0M379.5 407.7h0M370.1 292.4h0M343.8 439.7h0"/><path class="k18" d="M345.4 299.6h0M349.5 471.8h0M342.6 293.2h0M361.1 443.7h0M380.0 391.7h0M362.3 364.5h0M313.6 377.3h0M350.6 294.8h0M396.0 504.6h0M350.9 472.6h0M368.9 295.6h0M324.5 295.6h0M375.9 292.4h0M333.6 377.3h0M316.9 376.5h0M378.1 474.2h0M417.6 376.5h0M421.0 504.6h0M365.4 297.2h0M368.6 441.3h0M303.4 296.4h0M360.6 364.5h0M362.6 503.0h0M353.3 425.3h0M348.8 503.0h0M349.6 392.5h0M380.5 300.4h0M378.2 440.5h0M334.2 393.3h0M364.6 475.0h0M368.6 473.4h0M394.5 376.5h0M332.2 425.3h0M362.9 339.7h0M374.5 392.5h0M354.4 458.1h0M315.9 296.4h0"/><path class="k10" d="M365.7 296.4h0M355.8 437.3h0M359.8 348.5h0M375.7 298.0h0M354.7 470.2h0M357.3 294.8h0M357.3 475.8h0M353.4 457.3h0M348.5 408.5h0M356.7 437.3h0M359.1 469.4h0M343.5 504.6h0M342.2 490.2h0M378.8 377.3h0M356.1 426.1h0M363.0 330.0h0M355.3 408.5h0"/><path class="k11" d="M368.7 299.6h0M337.7 377.3h0M369.5 473.4h0M329.3 376.5h0M357.0 454.9h0M365.8 475.0h0M370.7 470.2h0M357.1 344.5h0M360.9 474.2h0M372.9 502.2h0M369.7 438.1h0M376.8 291.6h0M354.9 314.8h0"/><path class="k8" d="M363.2 297.2h0M374.9 378.9h0M362.9 410.9h0M377.9 375.7h0M360.5 454.1h0M354.1 390.9h0M354.0 507.0h0M352.6 488.6h0M367.4 442.1h0M363.4 391.7h0M365.9 326.0h0M358.1 425.3h0M354.6 376.5h0M370.0 487.0h0M369.6 475.0h0M377.4 409.3h0M366.8 326.8h0M357.3 438.1h0M356.5 358.9h0"/><path class="k7" d="M359.2 455.7h0M354.7 407.7h0M363.1 296.4h0M374.7 471.0h0M335.8 393.3h0M363.1 358.9h0M353.1 343.7h0M350.8 438.9h0M380.3 428.5h0M405.9 378.1h0M366.7 474.2h0M371.6 394.1h0M358.5 410.1h0M375.2 489.4h0M335.8 374.1h0M367.6 474.2h0M369.8 472.6h0M368.4 442.9h0"/><path class="k19" d="M329.3 298.0h0M331.7 378.9h0M335.5 378.1h0M386.8 440.5h0M336.0 295.6h0M323.7 376.5h0M313.0 408.5h0M365.3 472.6h0M340.8 296.4h0M322.5 295.6h0M332.7 424.5h0M374.4 474.2h0M333.9 392.5h0M324.1 296.4h0M305.6 296.4h0M337.0 375.7h0M346.3 424.5h0M342.2 487.8h0M340.1 294.0h0M341.2 391.7h0M346.9 442.1h0M316.5 377.3h0M335.7 294.0h0M367.2 296.4h0M367.2 473.4h0M345.8 423.7h0M351.0 297.2h0M425.0 504.6h0M326.8 296.4h0M336.5 488.6h0M336.8 424.5h0M342.5 295.6h0M294.7 296.4h0M319.8 378.1h0"/><path class="k14" d="M321.8 297.2h0M327.2 377.3h0M368.3 293.2h0M329.9 376.5h0M368.1 409.3h0M308.0 376.5h0M361.4 461.3h0M363.8 346.9h0M364.5 294.0h0M348.9 473.4h0M352.7 408.5h0M366.8 357.3h0"/><path class="k6" d="M368.0 377.3h0M378.3 485.4h0M356.6 410.9h0M382.0 293.2h0M348.4 393.3h0M358.7 391.7h0M376.8 293.2h0M371.0 475.8h0M387.5 471.0h0M363.9 454.9h0M343.8 424.5h0M359.6 503.0h0M367.8 485.4h0M357.2 392.5h0M359.6 394.9h0M372.0 375.7h0M337.5 504.6h0M375.7 378.1h0"/><path class="k13" d="M366.1 471.8h0M373.3 300.4h0M360.0 469.4h0M353.7 344.5h0M348.4 298.0h0M368.5 469.4h0M356.5 360.5h0M372.3 346.9h0M359.2 310.8h0M365.9 442.9h0"/><path class="k1" d="M372.7 298.8h0M336.0 328.4h0M378.0 313.2h0M349.2 393.3h0M368.3 298.8h0M375.6 507.8h0M364.4 356.5h0M360.3 506.2h0M376.7 378.1h0M360.8 490.2h0M396.6 296.4h0M373.2 388.5h0M368.9 472.6h0M355.8 439.7h0M368.5 395.7h0M368.9 341.3h0M378.8 375.7h0M373.8 298.8h0M362.5 357.3h0M354.6 391.7h0M364.6 471.8h0M358.6 487.8h0M351.7 392.5h0M367.3 491.8h0M366.7 390.1h0M363.3 327.6h0M326.1 375.7h0M377.9 314.0h0M378.6 376.5h0M420.0 376.5h0M363.6 356.5h0M376.9 388.5h0M374.0 487.8h0M386.9 375.7h0M373.8 346.9h0M360.5 487.8h0M352.1 313.2h0M373.5 473.4h0M375.3 379.7h0M369.6 377.3h0M357.3 310.0h0M369.5 490.2h0M362.0 412.5h0M376.5 488.6h0M355.3 424.5h0M372.9 493.4h0M387.7 472.6h0M373.7 408.5h0M363.1 410.1h0M384.4 425.3h0M361.2 405.3h0M362.8 362.9h0M389.5 391.7h0M357.7 328.4h0M378.4 378.9h0M357.0 346.9h0M365.7 389.3h0M373.9 454.9h0M370.9 487.0h0M361.0 345.3h0M389.3 393.3h0M380.4 298.0h0M376.2 296.4h0M377.6 427.7h0M368.2 310.8h0M360.3 342.9h0M350.1 441.3h0M380.7 314.8h0M347.2 312.4h0M390.7 423.7h0M383.2 422.9h0M358.6 411.7h0M371.3 327.6h0M379.2 296.4h0M371.6 457.3h0M374.8 387.7h0M357.0 423.7h0M356.0 442.1h0M347.2 377.3h0M360.6 507.0h0M379.0 391.7h0M403.8 377.3h0M359.5 488.6h0M362.4 456.5h0M377.3 378.9h0M360.2 326.0h0M361.7 342.1h0M376.3 456.5h0M367.5 458.1h0M363.6 452.5h0"/><path class="k17" d="M386.7 377.3h0M366.1 407.7h0M365.3 457.3h0M371.6 473.4h0M372.7 490.2h0M313.3 377.3h0M374.4 440.5h0M354.8 426.1h0M352.0 471.8h0M338.1 295.6h0M361.5 426.1h0M384.5 391.7h0M377.8 373.3h0M336.1 424.5h0M365.6 426.1h0M343.5 293.2h0M361.7 426.9h0M355.0 328.4h0M362.8 457.3h0M366.0 488.6h0M330.1 374.9h0M314.7 377.3h0M357.6 308.4h0M373.6 299.6h0M344.3 297.2h0M374.7 298.0h0M329.7 392.5h0"/><path class="k15" d="M364.4 438.9h0M350.3 488.6h0M349.8 505.4h0M374.8 299.6h0M350.5 360.5h0M337.6 297.2h0M360.8 348.5h0M340.7 487.8h0M358.3 474.2h0M361.5 298.0h0M374.1 420.5h0M328.2 294.8h0M321.4 375.7h0M357.8 424.5h0M366.2 472.6h0M334.0 378.1h0M359.7 504.6h0M360.0 357.3h0M364.8 361.3h0M344.3 503.8h0M343.9 294.0h0M389.7 377.3h0M353.8 487.8h0M325.9 377.3h0M367.0 299.6h0M345.5 297.2h0M361.4 356.5h0M345.1 489.4h0M343.1 393.3h0M354.3 454.9h0M381.9 299.6h0M348.2 456.5h0M379.0 316.4h0M345.5 393.3h0M335.5 298.8h0M368.5 358.1h0M377.6 474.2h0M333.2 393.3h0"/><path class="k17" d="M399.5 377.3h0M337.6 298.0h0M344.0 295.6h0M365.9 293.2h0M381.9 440.5h0M382.1 474.2h0M364.6 439.7h0M355.3 505.4h0M356.5 487.8h0M353.5 505.4h0M317.5 377.3h0M341.7 425.3h0M355.5 502.2h0M329.5 378.9h0M345.1 424.5h0M351.4 296.4h0M347.5 471.8h0M330.6 424.5h0M373.5 298.0h0M341.6 295.6h0M346.9 472.6h0M385.5 376.5h0M352.8 314.0h0M362.0 456.5h0M350.7 455.7h0M359.6 295.6h0M338.9 426.1h0M368.8 362.9h0M357.5 473.4h0M356.3 315.6h0M375.8 488.6h0M344.1 298.0h0M359.0 472.6h0M338.5 375.7h0M382.7 375.7h0M353.9 470.2h0M350.2 360.5h0M332.2 295.6h0M354.8 314.0h0M337.5 487.8h0M327.3 295.6h0M353.7 343.7h0M365.3 349.3h0M347.4 375.7h0M347.5 425.3h0"/><path class="k0" d="M351.0 489.4h0M371.5 492.6h0M383.6 426.1h0M350.2 442.9h0M362.5 391.7h0M364.7 332.4h0M375.4 455.7h0M378.9 389.3h0M391.1 422.1h0M363.7 330.0h0M405.4 376.5h0M360.0 356.5h0M362.0 424.5h0M390.9 426.9h0M287.4 376.5h0M373.1 484.6h0M367.7 312.4h0M376.7 503.0h0M355.7 455.7h0M361.4 390.9h0M364.9 406.9h0M388.7 394.1h0M375.8 485.4h0M387.5 422.9h0M372.8 507.8h0M330.0 504.6h0M381.0 374.9h0M380.4 390.9h0M392.0 426.9h0M368.7 490.2h0M367.5 454.9h0M364.5 456.5h0M366.0 362.9h0M360.8 394.1h0M405.7 374.9h0M340.0 440.5h0M363.3 488.6h0M374.8 487.0h0M372.0 457.3h0M367.6 491.0h0M364.7 359.7h0M364.7 364.5h0M324.3 440.5h0M395.3 328.4h0M368.6 426.1h0M391.1 328.4h0M375.2 407.7h0M363.2 310.8h0M371.5 395.7h0M376.5 504.6h0M375.6 501.4h0M372.6 394.9h0M372.1 484.6h0M372.7 426.9h0M357.8 423.7h0M341.7 390.9h0M370.5 492.6h0M362.0 406.1h0M366.4 485.4h0M378.7 424.5h0M347.6 439.7h0M399.4 376.5h0M443.5 376.5h0M372.4 458.1h0M352.1 457.3h0M343.0 456.5h0M397.5 376.5h0M348.5 392.5h0M366.6 342.9h0M373.5 392.5h0M364.9 405.3h0M370.5 455.7h0M366.7 486.2h0M376.3 393.3h0M363.5 347.7h0M365.1 488.6h0M382.6 328.4h0M376.7 407.7h0M356.1 471.0h0M373.2 394.1h0M379.6 309.2h0M364.6 342.9h0M386.6 425.3h0M358.9 326.8h0M413.0 328.4h0M381.9 425.3h0M357.3 488.6h0M361.5 457.3h0M377.7 345.3h0M401.3 378.1h0M402.2 373.3h0M349.1 456.5h0M376.7 424.5h0M379.2 310.0h0M368.0 358.9h0M365.7 409.3h0M355.8 343.7h0M386.9 473.4h0M368.3 342.9h0M372.0 420.5h0M396.7 423.7h0M386.1 424.5h0M403.2 376.5h0M361.3 489.4h0M355.4 457.3h0M391.9 297.2h0M367.9 422.1h0M291.8 376.5h0M367.6 325.2h0M374.2 328.4h0M367.8 326.0h0M380.3 472.6h0M371.4 424.5h0M364.5 344.5h0M372.1 297.2h0"/><path class="k10" d="M358.8 347.7h0M367.7 343.7h0M360.8 340.5h0M390.9 440.5h0M374.3 487.8h0M345.3 298.0h0M347.1 487.8h0M350.2 503.0h0M362.5 425.3h0M351.1 455.7h0M362.6 454.9h0M367.7 470.2h0M360.1 359.7h0M364.8 453.3h0M358.1 313.2h0M329.1 294.8h0"/><path class="k4" d="M376.8 378.9h0M352.0 438.9h0M385.5 393.3h0M379.7 310.0h0M362.8 295.6h0M352.0 504.6h0M378.1 378.1h0M375.6 474.2h0M347.7 457.3h0M385.5 471.8h0M378.8 379.7h0M374.1 315.6h0M345.3 391.7h0M364.8 326.8h0M381.5 421.3h0M374.4 502.2h0M373.9 506.2h0M359.2 376.5h0M359.1 310.0h0M375.7 309.2h0M356.9 490.2h0M365.8 326.8h0M364.9 376.5h0M374.8 361.3h0M359.1 438.1h0M361.8 438.9h0M389.9 296.4h0M372.8 314.0h0M355.7 312.4h0M379.5 505.4h0M391.8 375.7h0M390.0 297.2h0M381.5 424.5h0M385.0 408.5h0M385.7 408.5h0M362.4 423.7h0M371.7 393.3h0M360.5 294.0h0M438.3 376.5h0M380.6 504.6h0M374.2 344.5h0M369.6 407.7h0M371.6 359.7h0"/><path class="k11" d="M340.5 488.6h0M353.7 408.5h0M360.1 358.9h0M359.7 357.3h0M373.3 310.8h0M357.5 295.6h0M369.4 410.1h0M369.1 298.8h0M335.8 375.7h0M382.5 295.6h0M360.4 487.0h0M330.7 375.7h0M356.7 425.3h0M350.9 408.5h0"/><path class="k1" d="M369.4 396.5h0M373.8 500.6h0M352.9 392.5h0M359.1 345.3h0M378.3 394.9h0M393.6 423.7h0M367.2 392.5h0M377.9 392.5h0M373.0 393.3h0M375.0 426.1h0M355.6 345.3h0M374.2 455.7h0M373.0 391.7h0M370.3 346.9h0M349.7 442.1h0M343.4 298.8h0M356.7 362.1h0M396.4 312.4h0M361.5 406.9h0M379.1 471.8h0M369.2 390.9h0M355.4 311.6h0M366.9 485.4h0M395.0 392.5h0M348.0 425.3h0M376.6 298.8h0M358.4 344.5h0M367.7 469.4h0M348.9 424.5h0M374.1 406.9h0M364.0 406.1h0M380.6 503.8h0M394.1 377.3h0M407.0 328.4h0M364.9 389.3h0M309.0 504.6h0M379.4 504.6h0M388.7 471.8h0M394.9 422.9h0M365.7 297.2h0M381.5 489.4h0M360.2 458.9h0M348.1 472.6h0M350.1 504.6h0M383.4 390.1h0M387.3 298.0h0M363.6 310.0h0M378.6 427.7h0M365.4 454.1h0M376.7 487.0h0M370.5 426.1h0M352.1 437.3h0M363.8 361.3h0M383.9 378.1h0M354.4 487.8h0M352.5 423.7h0M377.5 421.3h0M364.2 325.2h0M363.2 442.1h0M368.4 471.0h0M365.1 296.4h0M360.5 456.5h0M359.5 507.0h0M373.8 301.2h0M381.3 298.0h0M386.4 294.8h0M356.1 454.9h0M363.2 486.2h0M367.9 362.9h0M383.9 298.0h0M402.4 375.7h0M377.2 309.2h0M374.9 493.4h0M365.4 425.3h0M357.8 442.9h0M442.3 376.5h0M361.2 503.0h0M380.8 472.6h0M370.0 328.4h0M387.9 297.2h0M361.6 315.6h0M358.5 314.8h0M316.5 504.6h0M375.9 422.9h0M382.3 426.9h0M396.7 377.3h0M373.0 342.9h0M371.8 406.9h0M377.9 311.6h0M371.4 455.7h0M409.8 377.3h0M359.6 327.6h0M348.3 440.5h0M377.6 374.1h0M366.5 394.1h0M355.5 442.9h0M366.0 489.4h0M382.5 424.5h0M373.3 474.2h0M402.3 296.4h0M342.8 391.7h0M384.9 296.4h0M374.0 427.7h0M358.2 405.3h0M349.1 441.3h0M349.1 313.2h0M405.9 375.7h0M377.1 491.0h0M367.4 389.3h0"/><path class="k19" d="M380.6 298.8h0M381.3 293.2h0M368.5 470.2h0M340.7 489.4h0M375.8 440.5h0M347.9 293.2h0M366.6 341.3h0M336.9 392.5h0M359.0 475.0h0M373.7 313.2h0M402.0 504.6h0M345.6 472.6h0M327.6 376.5h0M373.8 342.1h0M339.8 377.3h0M365.1 441.3h0M353.6 394.1h0M338.9 424.5h0M370.0 442.9h0M343.2 487.8h0M352.5 390.9h0M335.9 423.7h0M342.4 297.2h0M336.4 377.3h0M337.8 423.7h0M373.6 440.5h0M330.2 296.4h0M340.0 295.6h0M316.9 375.7h0M342.3 375.7h0M299.1 296.4h0M364.0 408.5h0M340.5 426.1h0M370.9 294.0h0M342.8 425.3h0M338.3 390.9h0"/><path class="k6" d="M362.9 340.5h0M389.9 424.5h0M364.9 437.3h0M370.5 342.1h0M362.2 491.0h0M326.4 297.2h0M399.8 378.1h0M373.5 295.6h0M359.1 454.1h0M374.3 292.4h0M351.4 294.8h0M356.7 312.4h0M360.4 360.5h0"/><path class="k3" d="M369.0 503.8h0M371.4 485.4h0M349.4 438.9h0M353.9 475.0h0M364.5 327.6h0M356.4 505.4h0M355.1 443.7h0M377.7 378.1h0M375.6 473.4h0M364.1 347.7h0M379.0 310.8h0M350.9 503.8h0M366.4 344.5h0M376.4 471.0h0M381.3 422.9h0M365.3 312.4h0M415.6 376.5h0M356.5 503.0h0M369.1 504.6h0M361.0 344.5h0M367.6 503.0h0M366.2 438.1h0M364.9 503.0h0M363.0 346.9h0M358.7 390.9h0M361.0 409.3h0M410.4 377.3h0M328.4 296.4h0M354.3 314.0h0M380.7 295.6h0M381.0 315.6h0M399.0 378.9h0M379.9 423.7h0M389.0 427.7h0M403.8 378.1h0M354.8 392.5h0M370.6 501.4h0M382.7 312.4h0M360.9 392.5h0M367.5 394.9h0M371.3 314.0h0M383.8 298.8h0M373.9 394.9h0M366.1 363.7h0M354.7 488.6h0M360.7 440.5h0M367.2 421.3h0M345.3 375.7h0M385.0 426.1h0M363.1 294.8h0M386.0 422.1h0M361.6 362.9h0M373.4 420.5h0M374.7 389.3h0M379.7 313.2h0M362.2 358.1h0M363.0 308.4h0M353.5 393.3h0M406.4 377.3h0M366.7 311.6h0M353.8 314.8h0M392.0 423.7h0M369.0 487.8h0M362.2 442.1h0M385.1 475.0h0M309.4 375.7h0M352.4 439.7h0M376.2 425.3h0M374.3 486.2h0M341.5 297.2h0M401.9 376.5h0M361.3 358.9h0M382.8 422.9h0M381.4 426.1h0M371.4 342.9h0M386.6 296.4h0M378.6 408.5h0M370.0 423.7h0M342.5 505.4h0M372.4 422.1h0M356.3 390.9h0M360.4 317.2h0M388.6 375.7h0M361.1 393.3h0M372.5 492.6h0M366.7 331.6h0M373.9 406.9h0M390.6 392.5h0M362.4 424.5h0M370.0 485.4h0M369.1 342.9h0M358.2 314.8h0M376.7 419.7h0M357.3 410.9h0"/><path class="k18" d="M364.5 298.8h0M364.3 297.2h0M361.9 314.8h0M348.6 298.8h0M360.4 298.8h0M374.4 396.5h0M310.0 296.4h0M360.0 408.5h0M359.3 393.3h0M325.3 375.7h0M353.1 328.4h0M392.0 504.6h0M347.8 408.5h0M340.4 375.7h0M339.0 422.9h0M327.9 378.1h0M375.0 396.5h0M346.1 294.0h0M364.3 363.7h0M356.6 295.6h0M301.3 375.7h0M369.7 438.9h0M379.1 375.7h0M360.5 310.8h0"/><path class="k5" d="M389.9 422.9h0M337.5 374.1h0M308.4 375.7h0M370.2 391.7h0M376.5 298.0h0M362.4 489.4h0M384.8 298.8h0M407.8 375.7h0M331.0 504.6h0M378.4 309.2h0M362.4 329.2h0M369.0 407.7h0M358.7 315.6h0M358.7 295.6h0M369.8 344.5h0M361.1 439.7h0M356.6 424.5h0M379.3 294.0h0M381.0 473.4h0M371.9 505.4h0M387.7 393.3h0"/><path class="k14" d="M343.5 377.3h0M358.5 406.9h0M346.3 393.3h0M364.4 458.9h0M380.3 294.0h0M327.0 297.2h0M391.0 295.6h0M353.8 294.8h0M348.9 409.3h0M399.5 374.9h0M348.1 298.8h0M347.6 423.7h0M355.3 504.6h0"/><path class="k8" d="M365.9 330.0h0M321.2 374.9h0M384.8 393.3h0M350.7 391.7h0M351.7 390.9h0M369.3 395.7h0M328.0 375.7h0M395.7 375.7h0M363.1 443.7h0M371.9 500.6h0"/><path class="k9" d="M344.5 375.7h0M360.8 442.1h0M350.8 376.5h0M372.5 311.6h0M343.5 425.3h0M363.0 473.4h0M373.7 342.9h0M375.7 299.6h0M374.6 490.2h0M362.5 344.5h0M346.9 489.4h0M349.2 439.7h0M394.5 423.7h0"/><path class="k16" d="M359.6 470.2h0M359.0 443.7h0M332.2 391.7h0M339.5 426.1h0M336.9 297.2h0M409.8 375.7h0M311.1 296.4h0M341.3 489.4h0M361.3 472.6h0M360.3 442.1h0M341.6 294.8h0M334.9 423.7h0M338.3 298.0h0M354.6 471.8h0M361.7 438.1h0M372.6 439.7h0M342.1 298.0h0M359.7 438.9h0M357.7 441.3h0M382.9 294.8h0M341.2 487.8h0M366.1 411.7h0M375.8 294.0h0M349.6 423.7h0M333.9 424.5h0M362.5 326.8h0M329.0 297.2h0M337.9 298.8h0M356.0 296.4h0M351.4 343.7h0M375.8 291.6h0M340.5 374.9h0M376.0 471.8h0M342.0 423.7h0M351.0 456.5h0M346.4 375.7h0M362.0 294.0h0M360.3 438.1h0M357.0 475.0h0M331.3 425.3h0"/><path class="k12" d="M362.1 298.8h0M342.5 487.0h0M359.1 441.3h0M327.9 374.9h0M369.6 294.8h0M369.0 296.4h0M341.0 299.6h0M318.8 375.7h0M314.8 376.5h0M347.7 455.7h0M343.5 487.0h0M372.1 314.8h0M352.7 297.2h0M366.0 442.1h0"/><path class="k15" d="M334.2 425.3h0M357.9 314.0h0M341.4 296.4h0M361.2 475.0h0M380.3 294.8h0M357.5 504.6h0M356.4 410.1h0M359.5 297.2h0M359.1 329.2h0M366.7 440.5h0M331.3 376.5h0M354.0 295.6h0M338.8 298.8h0M344.3 294.8h0M366.3 325.2h0M364.7 470.2h0M338.5 374.9h0M360.9 454.9h0M363.9 315.6h0M327.6 378.9h0M364.5 443.7h0M334.9 422.9h0M353.8 410.1h0M361.0 347.7h0M319.9 296.4h0M356.8 297.2h0M339.6 394.1h0M338.2 296.4h0M325.3 296.4h0M310.0 376.5h0M330.6 298.0h0M340.7 390.9h0"/><path class="k2" d="M357.7 310.8h0M371.7 504.6h0M368.0 503.8h0M377.6 396.5h0M369.9 504.6h0M355.5 376.5h0M359.5 407.7h0M360.3 425.3h0M375.6 313.2h0M377.4 292.4h0M380.4 424.5h0M349.6 457.3h0M396.7 425.3h0M372.4 487.8h0M373.5 407.7h0M360.6 316.4h0M372.4 341.3h0M348.6 455.7h0M360.1 390.9h0M375.9 376.5h0M368.1 345.3h0M372.7 485.4h0M394.5 425.3h0M363.2 426.1h0M367.7 422.1h0M368.3 358.1h0M363.8 329.2h0M357.7 442.1h0M382.7 426.1h0M361.9 487.8h0M364.2 471.8h0M376.2 505.4h0M371.8 427.7h0M369.2 426.9h0M406.6 374.9h0M363.8 456.5h0M381.4 298.8h0M359.8 459.7h0M391.0 424.5h0M371.8 342.9h0M368.6 361.3h0M371.7 298.0h0M368.4 343.7h0M352.7 423.7h0M376.7 473.4h0M357.7 406.9h0M355.6 358.9h0M374.0 425.3h0M356.1 394.1h0M368.1 424.5h0M386.6 474.2h0M357.9 507.0h0M363.2 422.9h0M363.8 362.1h0M370.3 330.0h0M398.8 374.9h0M377.2 506.2h0M395.6 426.1h0M353.6 390.9h0M378.9 374.9h0M378.4 428.5h0M349.6 440.5h0M370.3 394.9h0M364.8 330.8h0M372.7 500.6h0M386.9 424.5h0M355.7 313.2h0M369.3 486.2h0M364.3 407.7h0M353.1 458.1h0M368.8 391.7h0M348.1 295.6h0M362.7 422.1h0M331.2 379.7h0M383.6 311.6h0M370.9 298.8h0M374.4 410.1h0M367.6 313.2h0M360.0 329.2h0"/><path class="k13" d="M332.8 376.5h0M350.7 474.2h0M360.3 442.9h0M352.5 296.4h0M344.4 489.4h0M368.9 294.8h0M328.0 377.3h0M307.5 375.7h0M368.9 438.1h0M358.3 358.1h0M357.8 506.2h0M332.8 378.1h0M370.7 440.5h0"/><path class="k7" d="M360.4 307.6h0M360.2 474.2h0M365.1 298.8h0M332.7 378.9h0M366.2 361.3h0M341.0 425.3h0M359.7 441.3h0M382.4 505.4h0M366.9 438.9h0M376.1 314.8h0M364.8 330.0h0M372.8 341.3h0M361.7 309.2h0"/><path class="k2" d="M381.6 312.4h0M401.9 378.9h0M372.2 395.7h0M299.8 376.5h0M387.5 471.8h0M363.9 394.1h0M371.4 491.8h0M382.0 313.2h0M378.0 471.8h0M321.1 296.4h0M373.7 485.4h0M380.1 296.4h0M365.8 362.1h0M376.4 409.3h0M374.2 328.4h0M376.0 343.7h0M371.3 407.7h0M341.7 456.5h0M391.4 422.9h0M299.3 377.3h0M363.0 315.6h0M366.1 426.9h0M337.4 294.8h0M372.6 327.6h0M356.7 309.2h0M363.2 411.7h0M393.5 376.5h0M388.4 424.5h0M421.9 376.5h0M389.5 473.4h0M379.1 378.9h0M355.0 343.7h0M372.6 391.7h0M356.9 457.3h0M346.5 441.3h0M368.0 406.1h0M384.6 422.9h0M361.3 488.6h0M356.0 407.7h0M363.2 345.3h0M340.1 456.5h0M368.6 309.2h0M380.6 395.7h0M353.3 437.3h0M371.2 346.1h0M408.1 378.1h0M367.6 438.1h0M356.9 504.6h0M371.6 475.0h0M382.1 391.7h0M361.8 394.1h0M369.3 359.7h0M366.8 505.4h0M378.6 490.2h0M365.9 358.1h0M367.0 487.8h0M360.2 440.5h0M367.9 407.7h0M392.8 426.1h0M377.1 310.8h0M392.7 423.7h0M374.9 344.5h0M376.6 422.9h0M387.6 394.1h0M349.9 425.3h0M373.6 376.5h0M370.2 492.6h0M386.6 426.1h0M348.6 344.5h0M390.1 422.1h0M370.5 341.3h0M347.9 441.3h0M363.0 360.5h0M375.1 314.0h0M375.6 311.6h0M367.2 310.0h0M370.4 346.1h0M370.0 359.7h0M382.6 376.5h0M379.4 489.4h0M371.3 311.6h0M370.9 427.7h0M353.4 440.5h0M396.6 376.5h0"/><path class="k9" d="M365.3 295.6h0M370.3 376.5h0M358.3 458.9h0M356.6 475.8h0M352.7 505.4h0M342.5 298.8h0M352.3 310.8h0M363.8 323.6h0M354.3 394.1h0M362.7 438.1h0M339.8 423.7h0M356.1 475.0h0M369.9 470.2h0M364.0 298.0h0M375.8 471.0h0"/><path class="k7" d="M358.8 423.7h0M364.7 473.4h0M382.6 377.3h0M359.6 471.8h0M362.2 297.2h0M356.4 406.9h0M360.7 315.6h0"/><path class="k17" d="M353.7 488.6h0M331.8 377.3h0M383.4 440.5h0M369.4 391.7h0M379.2 294.8h0M374.7 310.0h0M359.0 346.9h0M344.8 391.7h0M343.9 299.6h0M374.8 473.4h0M329.2 374.9h0M396.0 440.5h0M365.9 486.2h0M400.0 504.6h0M368.2 394.9h0M354.8 471.0h0M374.3 291.6h0M364.5 295.6h0M358.4 471.8h0M312.3 375.7h0M333.2 377.3h0M351.9 425.3h0M324.3 374.9h0M372.6 392.5h0M359.4 475.8h0M366.6 442.1h0M332.8 295.6h0M369.2 440.5h0M366.7 298.0h0M347.4 295.6h0M354.1 294.0h0M340.6 423.7h0M362.5 471.8h0"/><path class="k16" d="M389.2 426.9h0M359.3 358.1h0M337.8 488.6h0M338.6 487.8h0M335.1 295.6h0M373.9 297.2h0M353.7 297.2h0M335.3 424.5h0M327.5 374.9h0M362.8 440.5h0M356.2 458.9h0M334.3 391.7h0M360.4 459.7h0M304.8 376.5h0M354.6 422.9h0M356.9 342.1h0M369.0 454.9h0M345.1 295.6h0M337.6 426.1h0M311.0 376.5h0M359.3 406.9h0M371.6 438.9h0M328.4 298.0h0M317.5 375.7h0M375.6 377.3h0M359.5 457.3h0M331.6 392.5h0M337.5 422.9h0M331.9 373.3h0M346.1 299.6h0M290.0 376.5h0M390.6 376.5h0M324.3 378.1h0M367.0 360.5h0M359.6 471.0h0M358.6 473.4h0"/><path class="k15" d="M363.6 503.8h0M357.8 487.0h0M368.0 294.8h0M343.2 505.4h0M360.6 358.1h0M336.4 392.5h0M371.1 442.9h0M344.5 392.5h0M362.1 442.9h0M363.4 441.3h0M351.8 294.0h0M344.8 298.8h0M371.3 474.2h0M365.5 362.9h0M351.7 297.2h0M330.0 377.3h0M358.4 298.0h0M342.4 296.4h0M340.4 487.0h0M360.3 505.4h0M331.0 374.1h0M350.1 487.8h0M354.1 503.8h0M303.5 376.5h0M365.5 329.2h0M364.0 472.6h0M435.2 376.5h0"/><path class="k12" d="M343.1 392.5h0M312.7 296.4h0M375.6 300.4h0M350.9 488.6h0M357.5 359.7h0M370.6 471.8h0M361.0 357.3h0M334.5 296.4h0M371.4 342.1h0M348.0 440.5h0M338.4 376.5h0M363.4 443.7h0M366.8 294.0h0M372.4 438.9h0M336.1 374.9h0M350.8 295.6h0"/><path class="k14" d="M361.1 359.7h0M329.1 374.1h0M367.2 441.3h0M360.4 298.0h0M351.4 391.7h0M358.1 357.3h0M340.4 490.2h0M325.1 297.2h0M333.9 378.9h0M372.8 296.4h0M357.7 298.0h0M352.5 504.6h0M310.2 375.7h0M345.4 293.2h0M310.7 377.3h0M335.3 425.3h0M323.0 296.4h0"/><path class="k0" d="M373.2 328.4h0M376.5 374.1h0M368.4 313.2h0M372.0 423.7h0M390.6 296.4h0M384.7 471.0h0M368.9 491.8h0M369.9 422.9h0M378.5 373.3h0M368.3 454.9h0M367.7 457.3h0M372.8 424.5h0M407.9 374.9h0M340.5 472.6h0M350.2 295.6h0M364.6 423.7h0M368.2 328.4h0M361.7 470.2h0M305.6 504.6h0M376.9 473.4h0M364.2 474.2h0M392.0 427.7h0M355.1 346.1h0M374.7 310.8h0M367.6 295.6h0M374.8 409.3h0M377.0 346.1h0M371.9 488.6h0M371.9 388.5h0M349.7 506.2h0M421.1 376.5h0M373.7 422.9h0M369.8 486.2h0M356.6 454.1h0M370.0 484.6h0M375.5 421.3h0M364.5 393.3h0M358.4 409.3h0M363.7 454.1h0M372.4 426.1h0M392.4 295.6h0M363.6 489.4h0M329.5 440.5h0M385.0 390.1h0M354.8 438.1h0M394.3 377.3h0M364.9 345.3h0M368.3 310.0h0M352.0 376.5h0M385.5 390.9h0M372.1 454.1h0M361.2 411.7h0M398.5 377.3h0M360.9 311.6h0M366.6 457.3h0M371.9 458.9h0M369.8 392.5h0M407.2 296.4h0M368.5 327.6h0M351.3 394.1h0M374.7 374.9h0M400.0 375.7h0M370.5 342.9h0M367.0 409.3h0M363.3 425.3h0M374.0 389.3h0M367.8 328.4h0M361.0 460.5h0M378.0 389.3h0M380.5 471.8h0M379.1 313.2h0M362.9 328.4h0M381.8 428.5h0M375.8 428.5h0M373.3 427.7h0M382.4 394.1h0M383.3 426.9h0M401.1 376.5h0M372.5 393.3h0M375.9 395.7h0M366.3 423.7h0M379.2 376.5h0M368.2 326.0h0M374.0 394.1h0M385.2 422.1h0M381.7 392.5h0M377.7 390.9h0M364.8 309.2h0M370.0 425.3h0M342.9 440.5h0M356.0 425.3h0M370.2 392.5h0M373.5 488.6h0M365.9 438.1h0M362.1 358.9h0M396.6 424.5h0M373.2 455.7h0M375.5 342.1h0M375.7 312.4h0M369.0 426.1h0M374.0 341.3h0M383.1 427.7h0M373.5 503.8h0M456.0 376.5h0M375.6 378.9h0M386.9 328.4h0M379.9 395.7h0M367.7 390.9h0M373.6 503.0h0M389.1 376.5h0M392.9 425.3h0M383.8 425.3h0M350.2 457.3h0M386.3 295.6h0M403.2 379.7h0M318.8 504.6h0M364.3 331.6h0M349.2 297.2h0M374.6 485.4h0M433.0 376.5h0M365.6 475.8h0M384.7 394.1h0M359.7 362.1h0M358.3 310.0h0M369.5 362.1h0M368.6 342.1h0"/><path class="k10" d="M332.2 297.2h0M357.6 311.6h0M360.8 404.5h0M401.6 378.9h0M377.5 298.0h0M362.1 451.7h0M362.5 458.1h0M359.2 341.3h0M366.7 358.9h0M332.2 374.9h0M368.6 300.4h0M336.6 374.1h0M381.3 374.1h0M339.6 489.4h0M364.2 362.9h0M364.3 422.1h0M363.5 505.4h0"/><path class="k6" d="M366.3 487.0h0M373.3 507.8h0M374.3 295.6h0M365.2 339.7h0M380.6 378.1h0M344.2 488.6h0M372.4 298.0h0M369.5 458.1h0M395.8 422.9h0M383.5 296.4h0M364.2 357.3h0M361.8 330.8h0M372.2 394.1h0M360.7 457.3h0M361.8 472.6h0M367.6 395.7h0"/><path class="k11" d="M346.8 456.5h0M367.7 309.2h0M365.6 439.7h0M300.9 376.5h0M360.6 346.1h0M368.9 313.2h0M348.6 487.8h0M371.6 388.5h0M366.1 298.8h0M380.4 409.3h0M351.6 393.3h0M342.0 424.5h0M361.4 458.1h0M384.4 294.0h0M382.6 503.8h0M385.8 375.7h0M370.2 314.8h0"/><path class="k8" d="M357.3 358.1h0M359.6 340.5h0M405.3 296.4h0M364.7 329.2h0M343.9 298.8h0M364.4 457.3h0M375.9 506.2h0M368.0 362.1h0M374.7 374.1h0M364.3 313.2h0M375.8 346.9h0M374.1 502.2h0M372.8 410.1h0M361.6 391.7h0M343.9 376.5h0M349.6 311.6h0M339.4 375.7h0M375.5 409.3h0M386.0 296.4h0"/><path class="k13" d="M339.2 392.5h0M369.8 475.8h0M348.5 424.5h0M357.4 441.3h0M364.4 458.1h0M362.1 475.0h0M370.8 296.4h0M357.1 297.2h0M324.6 375.7h0M342.2 392.5h0M346.8 294.8h0M355.4 295.6h0M328.3 297.2h0M353.1 294.0h0M320.3 297.2h0M361.3 346.1h0"/><path class="k19" d="M330.4 423.7h0M371.0 299.6h0M406.0 504.6h0M380.0 490.2h0M339.7 298.0h0M368.8 442.1h0M339.5 488.6h0M376.9 440.5h0M344.3 423.7h0M343.5 296.4h0M330.6 295.6h0M340.4 378.1h0M333.4 425.3h0M348.8 471.8h0M336.9 294.0h0M332.0 298.0h0M372.3 408.5h0M388.0 504.6h0M339.3 297.2h0M340.7 377.3h0M362.2 363.7h0M372.6 377.3h0M343.4 298.0h0M347.6 328.4h0M360.9 408.5h0M365.9 440.5h0M417.0 504.6h0"/><path class="k3" d="M376.5 421.3h0M380.2 505.4h0M368.3 360.5h0M380.2 489.4h0M344.8 294.8h0M382.4 374.9h0M365.4 491.0h0M374.0 507.0h0M356.2 294.8h0M385.9 377.3h0M375.4 457.3h0M354.1 313.2h0M372.0 487.0h0M381.5 422.1h0M351.7 441.3h0M368.2 361.3h0M355.2 310.8h0M353.8 457.3h0M354.0 376.5h0M364.4 489.4h0M375.1 342.9h0M359.8 312.4h0M351.4 438.9h0M385.0 424.5h0M385.5 391.7h0M360.0 422.9h0M366.5 392.5h0M371.6 490.2h0M361.6 487.8h0M371.0 391.7h0M352.9 376.5h0M358.2 346.9h0M354.0 456.5h0M364.4 503.8h0M348.7 295.6h0M373.2 311.6h0M364.3 324.4h0M364.0 314.8h0M380.7 313.2h0M383.5 505.4h0M363.9 364.5h0M365.2 330.8h0M366.5 329.2h0M376.6 491.8h0M368.9 506.2h0M342.4 503.8h0M353.4 438.1h0M379.8 422.9h0M364.1 294.8h0M377.0 342.9h0M362.4 327.6h0M383.0 298.8h0M354.7 425.3h0M360.1 392.5h0M359.5 473.4h0M368.1 330.8h0M336.4 295.6h0M383.5 297.2h0M380.4 378.9h0M360.6 294.8h0M358.8 505.4h0M358.5 487.0h0M357.6 469.4h0M384.8 377.3h0M362.7 310.0h0M387.9 425.3h0M348.6 457.3h0M356.8 346.1h0M371.8 313.2h0M389.8 421.3h0M373.5 361.3h0M356.0 406.1h0M363.8 313.2h0M371.2 347.7h0M362.2 361.3h0M375.5 484.6h0M363.3 412.5h0M361.6 328.4h0M361.8 330.0h0M337.4 375.7h0M395.6 296.4h0M369.9 427.7h0M364.9 410.1h0M357.0 488.6h0M402.3 374.1h0M390.7 472.6h0M370.8 485.4h0M428.7 376.5h0M388.0 423.7h0M339.9 378.1h0M352.4 314.0h0M364.3 349.3h0"/><path class="k5" d="M361.5 393.3h0M367.2 362.1h0M358.5 346.1h0M337.8 296.4h0M361.5 363.7h0M393.6 375.7h0M370.9 409.3h0M372.3 473.4h0M393.8 424.5h0M364.9 311.6h0M379.4 311.6h0M359.4 314.8h0M370.0 361.3h0M374.2 457.3h0M358.2 344.5h0M373.9 395.7h0M358.6 343.7h0M369.0 340.5h0M363.4 504.6h0M355.0 310.0h0"/><path class="k18" d="M328.0 328.4h0M356.2 298.0h0M356.4 472.6h0M359.6 506.2h0M370.6 347.7h0M339.1 487.8h0M336.9 378.9h0M354.2 311.6h0M353.4 298.0h0M331.0 408.5h0M343.8 422.9h0M337.9 425.3h0M410.0 504.6h0M373.4 505.4h0M332.5 423.7h0M354.3 296.4h0M358.7 475.0h0M358.7 309.2h0M343.8 296.4h0M351.9 489.4h0M358.5 456.5h0M286.7 376.5h0M382.2 297.2h0M364.3 359.7h0M404.0 504.6h0M356.5 473.4h0M337.3 378.1h0M354.9 475.0h0M342.0 328.4h0"/><path class="k1" d="M377.3 396.5h0M363.7 470.2h0M363.6 340.5h0M365.3 407.7h0M380.6 374.9h0M345.8 505.4h0M380.5 394.9h0M403.9 375.7h0M343.8 456.5h0M388.5 427.7h0M378.4 503.8h0M355.3 507.0h0M363.6 457.3h0M371.1 505.4h0M379.5 422.1h0M368.6 326.8h0M379.7 299.6h0M354.6 406.9h0M363.1 406.1h0M370.1 489.4h0M385.8 472.6h0M385.3 426.9h0M402.2 378.1h0M363.1 409.3h0M433.9 376.5h0M372.2 390.1h0M376.7 343.7h0M361.5 339.7h0M370.8 345.3h0M366.5 309.2h0M394.0 422.1h0M367.6 425.3h0M371.1 375.7h0M373.1 344.5h0M371.0 376.5h0M379.5 393.3h0M295.2 376.5h0M378.6 312.4h0M349.2 472.6h0M357.3 490.2h0M409.2 375.7h0M360.1 410.9h0M361.9 394.9h0M374.2 423.7h0M317.6 376.5h0M370.5 393.3h0M376.3 487.8h0M392.0 421.3h0M362.2 437.3h0M381.5 310.8h0M374.8 388.5h0M379.1 487.8h0M365.5 505.4h0M359.6 345.3h0M388.6 298.0h0M336.0 472.6h0M377.5 295.6h0M369.3 489.4h0M425.0 296.4h0M345.1 488.6h0M359.6 308.4h0M344.8 472.6h0M366.0 491.0h0M404.3 376.5h0M394.6 375.7h0M386.2 393.3h0M374.5 375.7h0M366.1 376.5h0M382.7 474.2h0M427.9 376.5h0M367.7 475.8h0M401.6 328.4h0M374.8 456.5h0M362.3 347.7h0M370.2 421.3h0M365.4 504.6h0M380.5 328.4h0M392.1 422.9h0M356.3 469.4h0M351.1 442.1h0M370.6 329.2h0M367.7 314.8h0M378.7 487.0h0M361.1 326.8h0M378.2 503.0h0M407.3 375.7h0M383.5 312.4h0M359.3 424.5h0M366.5 422.9h0M396.8 374.9h0M384.3 421.3h0M388.1 294.8h0M370.3 310.0h0M361.9 490.2h0M346.7 299.6h0M353.5 310.8h0M375.4 293.2h0M383.1 424.5h0M351.2 442.9h0M358.7 410.9h0M380.8 314.0h0M360.0 406.1h0M361.4 376.5h0M363.8 311.6h0M376.9 489.4h0M365.1 314.8h0M364.8 408.5h0"/><path class="k4" d="M389.3 472.6h0M372.0 361.3h0M377.5 315.6h0M338.6 378.1h0M379.2 314.0h0M400.6 378.9h0M385.8 394.1h0M359.6 502.2h0M348.2 503.0h0M361.4 490.2h0M343.7 426.1h0M377.9 505.4h0M373.8 487.0h0M361.1 329.2h0M370.6 503.8h0M368.9 343.7h0M375.5 486.2h0M363.9 312.4h0M384.3 297.2h0M347.5 438.9h0M373.3 484.6h0M385.2 470.2h0M403.3 377.3h0M385.2 422.9h0M370.5 395.7h0M372.0 471.0h0M366.7 340.5h0M364.9 360.5h0M360.9 424.5h0M372.9 390.9h0M366.3 391.7h0M362.5 312.4h0M362.8 346.1h0M346.0 297.2h0M394.3 295.6h0"/><path class="k2" d="M370.4 388.5h0M373.4 396.5h0M386.0 421.3h0M370.3 314.0h0M371.4 313.2h0M341.0 504.6h0M372.9 505.4h0M373.4 454.9h0M367.9 487.0h0M360.1 404.5h0M388.5 294.8h0M349.7 297.2h0M334.6 375.7h0M374.7 373.3h0M372.8 310.0h0M373.1 313.2h0M400.0 376.5h0M367.3 293.2h0M372.2 310.8h0M382.4 422.1h0M364.8 490.2h0M346.3 504.6h0M372.4 343.7h0M361.0 310.0h0M352.8 456.5h0M381.7 390.1h0M370.8 407.7h0M365.9 390.9h0M371.0 390.1h0M373.1 346.1h0M375.6 424.5h0M361.6 326.8h0M378.8 421.3h0M376.8 486.2h0M369.4 394.1h0M394.0 426.1h0M361.7 471.0h0M358.6 314.0h0M378.0 310.8h0M355.9 362.1h0M363.1 393.3h0M368.2 488.6h0M344.2 504.6h0M362.7 324.4h0M351.4 345.3h0M377.6 486.2h0M371.1 310.8h0M367.2 406.9h0M362.9 343.7h0M370.8 300.4h0M368.4 455.7h0M377.6 504.6h0M358.3 470.2h0M366.8 490.2h0M358.3 503.0h0M368.3 347.7h0M362.4 488.6h0M378.1 391.7h0M369.1 358.9h0M347.5 503.8h0M353.0 424.5h0M360.9 326.0h0M388.0 392.5h0M384.6 426.1h0M380.3 309.2h0M366.3 346.9h0M374.4 312.4h0M361.8 405.3h0M351.8 345.3h0M414.0 296.4h0M373.1 471.0h0M369.9 313.2h0M359.3 328.4h0M377.2 390.9h0M375.6 346.1h0M376.8 492.6h0M376.7 374.9h0M388.0 296.4h0M316.2 375.7h0M347.7 344.5h0M364.9 314.8h0M384.7 473.4h0M392.9 426.9h0M376.4 379.7h0M366.0 412.5h0M381.2 408.5h0M411.6 376.5h0M375.1 392.5h0"/><path class="k15" d="M330.3 298.0h0M355.9 443.7h0M358.4 424.5h0M323.6 295.6h0M331.0 423.7h0M373.9 441.3h0M369.6 310.0h0M361.7 297.2h0M324.4 297.2h0M354.8 458.1h0M340.1 298.8h0M379.6 374.1h0M381.5 299.6h0M362.0 454.9h0M334.5 298.0h0M320.8 376.5h0M345.6 456.5h0M367.5 347.7h0M368.9 314.8h0M354.1 474.2h0M325.9 296.4h0M358.7 453.3h0M382.6 298.0h0M385.7 440.5h0M354.3 473.4h0M330.1 374.1h0M347.2 298.8h0M364.8 308.4h0M378.3 297.2h0M369.5 469.4h0M332.6 392.5h0M354.4 410.1h0M365.0 471.0h0M337.4 489.4h0M337.7 393.3h0"/><path class="k14" d="M313.8 296.4h0M368.6 440.5h0M350.8 392.5h0M356.1 422.9h0M347.7 294.0h0M364.8 391.7h0M355.6 346.1h0M333.8 374.9h0M357.1 360.5h0M353.7 473.4h0M304.7 377.3h0M365.4 298.0h0M340.2 297.2h0M335.5 393.3h0M364.9 357.3h0M366.6 393.3h0"/><path class="k16" d="M335.9 298.0h0M367.6 298.0h0M358.7 313.2h0M357.8 358.9h0M361.1 504.6h0M381.0 294.8h0M351.6 457.3h0M362.7 460.5h0M343.8 391.7h0M348.2 360.5h0M355.5 488.6h0M337.0 374.9h0M372.3 361.3h0M339.3 391.7h0M364.5 440.5h0M370.8 295.6h0M350.9 296.4h0M372.5 440.5h0M347.7 504.6h0M383.4 423.7h0M336.7 298.8h0M357.1 456.5h0M361.7 342.9h0M340.0 392.5h0M375.1 440.5h0M357.3 470.2h0M366.8 491.0h0M353.4 361.3h0M296.1 376.5h0M335.6 296.4h0M329.1 375.7h0"/><path class="k9" d="M357.7 487.8h0M382.1 394.1h0M389.5 471.8h0M365.5 346.9h0M364.6 487.8h0M363.1 390.9h0M359.1 425.3h0M378.8 504.6h0M335.4 488.6h0M378.7 360.5h0M373.4 360.5h0M352.2 393.3h0M361.6 440.5h0M359.8 359.7h0M297.9 376.5h0M371.2 426.9h0M384.0 393.3h0M300.5 377.3h0M364.9 358.1h0M349.6 298.8h0M358.0 453.3h0M360.7 296.4h0M350.9 313.2h0M353.1 443.7h0"/><path class="k7" d="M356.4 506.2h0M373.8 391.7h0M380.1 390.1h0M298.8 376.5h0M359.5 315.6h0M356.0 424.5h0M367.7 294.0h0M369.9 327.6h0M354.9 294.8h0M359.1 487.0h0M354.5 507.0h0M379.6 392.5h0M344.5 456.5h0M366.2 312.4h0M360.4 412.5h0M359.1 394.1h0M369.2 346.9h0M347.7 299.6h0M361.7 348.5h0M360.0 453.3h0"/><path class="k6" d="M365.8 341.3h0M360.7 458.1h0M350.1 408.5h0M385.8 474.2h0M358.6 363.7h0M359.5 316.4h0M353.5 474.2h0M364.7 411.7h0M372.1 292.4h0M409.2 376.5h0M378.5 299.6h0M391.0 427.7h0M355.4 298.0h0M369.5 295.6h0M365.2 344.5h0M358.3 438.9h0M368.9 410.9h0M343.6 376.5h0M366.2 359.7h0M360.6 390.1h0M359.5 309.2h0M360.9 342.1h0M375.4 491.8h0"/><path class="k8" d="M380.7 390.1h0M357.8 505.4h0M372.0 296.4h0M374.8 296.4h0M364.5 348.5h0M355.0 360.5h0M366.7 342.1h0M342.6 377.3h0M364.0 473.4h0M363.5 362.1h0M343.2 375.7h0M362.8 407.7h0M365.0 474.2h0M361.7 340.5h0M346.5 377.3h0M359.4 346.1h0M356.3 438.9h0M359.3 405.3h0"/><path class="k3" d="M358.8 422.9h0M376.2 474.2h0M372.6 426.1h0M372.3 312.4h0M373.8 426.9h0M430.0 376.5h0M354.3 393.3h0M389.8 426.1h0M365.0 394.9h0M378.8 390.9h0M368.2 427.7h0M371.7 410.1h0M369.5 406.9h0M374.4 504.6h0M392.6 472.6h0M346.6 438.9h0M383.5 392.5h0M369.0 376.5h0M353.7 424.5h0M373.6 501.4h0M367.5 426.9h0M398.4 296.4h0M376.0 315.6h0M361.3 422.1h0M379.2 408.5h0M340.7 376.5h0M357.3 438.9h0M379.0 393.3h0M378.7 423.7h0M371.1 310.0h0M367.2 411.7h0M380.8 310.8h0M378.2 388.5h0M370.5 484.6h0M367.6 490.2h0M361.7 423.7h0M364.7 343.7h0M397.8 377.3h0M378.6 426.1h0M348.1 376.5h0M355.6 310.0h0M359.1 316.4h0M374.9 342.1h0M376.8 292.4h0M372.7 409.3h0M362.4 314.0h0M375.7 389.3h0M383.0 391.7h0M350.3 438.1h0M370.6 506.2h0M440.1 376.5h0M364.1 406.9h0M388.2 377.3h0M392.0 377.3h0M371.6 374.9h0M368.5 410.1h0M374.8 421.3h0M361.6 329.2h0M377.8 422.1h0M371.1 503.0h0M342.8 426.1h0M363.9 328.4h0M366.7 297.2h0M363.0 503.0h0M372.7 291.6h0M354.7 502.2h0M367.3 346.9h0M367.2 506.2h0M375.2 295.6h0M372.3 425.3h0M393.7 425.3h0M362.9 309.2h0M384.8 394.9h0M375.4 390.9h0M373.0 342.1h0M353.9 443.7h0M366.2 326.0h0M364.3 503.0h0M375.4 373.3h0M375.1 393.3h0M380.4 297.2h0M404.7 377.3h0M343.1 294.8h0M348.3 506.2h0M378.1 428.5h0M336.0 422.9h0M361.6 343.7h0M370.1 503.0h0M370.1 294.0h0"/><path class="k13" d="M387.7 440.5h0M372.5 504.6h0M358.0 346.1h0M362.1 294.8h0M357.0 471.0h0M366.3 299.6h0M350.1 344.5h0M346.5 488.6h0M362.0 455.7h0M373.5 293.2h0M339.3 390.9h0"/><path class="k1" d="M361.1 328.4h0M368.5 422.9h0M364.2 454.9h0M377.3 390.1h0M362.7 349.3h0M371.7 377.3h0M379.4 472.6h0M366.2 454.9h0M364.7 363.7h0M371.4 358.9h0M400.3 296.4h0M374.3 390.9h0M352.8 503.0h0M365.8 298.0h0M373.3 395.7h0M389.5 375.7h0M358.2 454.1h0M369.7 388.5h0M378.4 328.4h0M368.7 392.5h0M375.9 342.9h0M403.3 378.1h0M357.4 390.9h0M323.2 504.6h0M369.3 327.6h0M360.1 405.3h0M365.7 390.1h0M393.1 376.5h0M389.0 328.4h0M372.7 374.9h0M369.6 310.8h0M349.7 296.4h0M375.4 492.6h0M377.4 490.2h0M361.5 311.6h0M369.0 488.6h0M391.8 424.5h0M370.4 406.9h0M382.3 472.6h0M358.7 442.9h0M374.3 505.4h0M358.8 308.4h0M380.9 426.9h0M365.9 491.8h0M367.8 330.0h0M368.0 344.5h0M376.3 328.4h0M366.6 394.9h0M381.4 296.4h0M345.0 472.6h0M363.0 342.1h0M373.4 312.4h0M412.8 377.3h0M376.9 506.2h0M371.9 345.3h0M364.2 358.1h0M379.0 344.5h0M358.2 440.5h0M354.4 441.3h0M395.6 425.3h0M382.6 314.0h0M358.1 439.7h0M363.8 412.5h0M380.1 407.7h0M385.7 473.4h0M354.7 423.7h0M345.8 312.4h0M362.8 405.3h0M365.0 489.4h0M409.7 376.5h0M369.7 329.2h0M376.5 300.4h0M367.3 423.7h0M363.7 333.2h0M366.3 505.4h0M365.5 310.8h0M350.7 409.3h0M355.7 359.7h0M366.2 503.0h0M380.5 420.5h0M358.2 342.9h0M397.0 392.5h0M355.5 506.2h0M364.0 404.5h0M362.7 455.7h0M367.4 345.3h0M387.5 427.7h0M390.5 440.5h0M354.3 312.4h0M356.3 409.3h0M386.0 426.9h0M354.5 437.3h0M360.9 426.1h0M342.8 472.6h0M360.9 364.5h0M372.9 458.9h0"/><path class="k18" d="M320.1 295.6h0M327.5 424.5h0M364.3 471.0h0M371.6 298.8h0M353.2 311.6h0M349.4 505.4h0M322.6 296.4h0M293.0 376.5h0M343.6 489.4h0M364.9 339.7h0M363.3 470.2h0M347.7 488.6h0M321.4 295.6h0M342.0 408.5h0M333.7 374.1h0M353.8 471.0h0M350.9 294.0h0M359.6 313.2h0M349.2 294.0h0M369.6 441.3h0M339.1 294.0h0M371.8 301.2h0M353.9 471.8h0M324.9 295.6h0M305.1 377.3h0M322.3 377.3h0M346.7 504.6h0M386.0 504.6h0M332.6 393.3h0M348.0 473.4h0M359.4 342.9h0M334.4 422.9h0M350.5 505.4h0"/><path class="k4" d="M403.4 378.9h0M371.9 506.2h0M378.1 505.4h0M402.5 374.9h0M363.7 326.0h0M395.7 423.7h0M357.1 406.1h0M383.1 377.3h0M350.6 311.6h0M382.0 473.4h0M378.3 390.1h0M365.6 313.2h0M374.2 456.5h0M359.6 358.9h0M375.2 298.8h0M369.4 424.5h0M364.3 340.5h0M363.8 487.0h0M357.8 426.1h0M369.7 390.1h0M403.3 375.7h0M383.6 422.1h0M357.1 458.1h0M330.2 378.9h0M343.9 441.3h0M372.1 503.0h0M362.2 422.9h0M359.8 344.5h0M365.4 348.5h0M382.4 393.3h0M364.3 410.9h0M374.8 471.8h0M362.6 459.7h0M441.1 376.5h0"/><path class="k17" d="M378.5 293.2h0M359.7 360.5h0M359.6 310.8h0M333.0 374.1h0M367.9 442.9h0M363.5 358.1h0M365.5 311.6h0M349.4 328.4h0M364.3 405.3h0M357.1 440.5h0M379.1 292.4h0M358.2 361.3h0M382.7 440.5h0M343.9 328.4h0M361.9 439.7h0M347.8 393.3h0M352.3 456.5h0M360.6 504.6h0M288.9 376.5h0M300.3 375.7h0M379.7 394.1h0M345.1 408.5h0M369.7 299.6h0M363.9 343.7h0M345.8 344.5h0M355.3 471.8h0M375.6 504.6h0M358.7 458.9h0M337.8 391.7h0M362.9 404.5h0M330.5 392.5h0M318.6 377.3h0"/><path class="k12" d="M365.5 294.8h0M346.9 488.6h0M359.4 347.7h0M302.2 376.5h0M323.4 378.1h0M355.9 297.2h0M351.8 408.5h0M345.0 376.5h0M320.5 378.1h0M311.1 375.7h0M384.2 390.9h0"/><path class="k19" d="M331.9 294.8h0M330.8 373.3h0M333.7 297.2h0M368.3 438.9h0M357.9 455.7h0M366.7 314.0h0M324.5 376.5h0M340.4 424.5h0M333.6 294.8h0M384.9 440.5h0M334.7 374.1h0M338.4 489.4h0M361.0 441.3h0M390.0 504.6h0M367.4 438.9h0M325.3 376.5h0M307.8 296.4h0M366.9 469.4h0M352.7 294.8h0M367.9 440.5h0M367.1 475.8h0M363.6 438.9h0M333.5 375.7h0M340.7 393.3h0M345.1 294.0h0M344.1 487.8h0"/><path class="k0" d="M368.7 485.4h0M365.9 357.3h0M376.6 375.7h0M365.4 342.9h0M386.3 390.9h0M367.7 422.9h0M394.6 296.4h0M357.6 345.3h0M365.1 426.9h0M374.0 314.0h0M368.2 489.4h0M374.8 483.8h0M396.2 375.7h0M371.7 501.4h0M368.5 458.1h0M376.7 420.5h0M359.0 410.1h0M336.6 423.7h0M379.0 488.6h0M436.1 376.5h0M376.7 491.0h0M371.6 507.0h0M358.2 489.4h0M409.6 328.4h0M355.8 472.6h0M375.8 487.0h0M359.4 425.3h0M363.2 294.0h0M370.4 326.8h0M363.8 410.1h0M379.8 420.5h0M365.0 390.9h0M363.1 325.2h0M379.7 310.8h0M368.3 359.7h0M381.8 420.5h0M379.9 427.7h0M374.2 390.1h0M381.7 427.7h0M368.4 341.3h0M345.3 377.3h0M370.2 311.6h0M384.1 374.9h0M385.2 425.3h0M374.8 503.8h0M370.1 424.5h0M355.7 360.5h0M361.9 313.2h0M378.0 426.1h0M362.1 460.5h0M377.6 360.5h0M373.9 490.2h0M370.0 488.6h0M380.7 310.0h0M362.6 376.5h0M389.1 421.3h0M388.5 296.4h0M346.0 295.6h0M362.2 426.1h0M340.8 504.6h0M387.6 473.4h0M376.4 408.5h0M425.8 376.5h0M366.9 407.7h0M371.2 486.2h0M384.3 472.6h0M352.4 311.6h0M380.2 408.5h0M366.4 395.7h0M357.0 345.3h0M374.0 359.7h0M367.2 503.8h0M342.6 441.3h0M342.7 294.8h0M388.6 422.9h0M354.9 312.4h0M356.0 457.3h0M369.7 505.4h0M373.1 503.0h0M383.4 313.2h0M375.5 487.8h0M373.1 503.8h0M401.5 379.7h0M399.5 328.4h0M380.8 393.3h0M364.4 424.5h0M361.0 327.6h0M364.1 376.5h0M380.6 422.9h0M367.6 424.5h0M376.7 313.2h0M377.0 428.5h0M375.3 346.1h0M376.4 388.5h0M387.6 474.2h0M372.1 328.4h0M390.0 391.7h0M390.1 426.9h0M360.1 456.5h0M338.2 472.6h0M356.0 310.8h0M372.4 314.0h0M365.8 310.0h0M369.3 377.3h0M374.4 310.8h0M373.8 426.1h0M357.6 309.2h0M360.7 341.3h0M366.2 506.2h0M387.2 426.9h0M369.2 360.5h0M361.4 454.1h0M330.5 472.6h0M374.1 493.4h0M359.6 363.7h0M392.8 424.5h0M391.4 421.3h0M372.6 488.6h0M374.8 378.1h0M451.0 376.5h0"/><path class="k11" d="M367.0 471.8h0M385.3 295.6h0M372.9 300.4h0M363.3 346.1h0M370.5 473.4h0M338.8 394.1h0M344.6 424.5h0M330.2 294.8h0M337.0 296.4h0M329.7 297.2h0M358.6 469.4h0M378.8 301.2h0M294.0 376.5h0M351.8 487.8h0M370.7 410.9h0"/><path class="k5" d="M371.7 409.3h0M377.3 389.3h0M373.2 394.9h0M400.9 375.7h0M361.2 325.2h0M350.1 439.7h0M355.0 442.1h0M380.6 488.6h0M337.0 378.1h0M346.7 392.5h0M378.5 308.4h0M376.5 429.3h0M364.4 341.3h0M370.2 360.5h0M359.5 341.3h0M380.6 389.3h0M363.4 392.5h0M378.9 390.1h0M382.3 298.8h0M362.2 360.5h0M391.3 295.6h0"/><path class="k10" d="M373.2 470.2h0M303.1 375.7h0M376.4 301.2h0M350.6 298.0h0M310.0 377.3h0M345.3 504.6h0M335.5 376.5h0M334.9 377.3h0M359.0 458.1h0M357.5 472.6h0M360.0 489.4h0M363.7 341.3h0M372.8 375.7h0"/></g>
<line x1="276.5" x2="473.8" y1="520.6" y2="520.6" stroke="#a8a8a8" stroke-width="1.4"/>
<line x1="282.41" x2="282.41" y1="520.6" y2="522.6" stroke="#999" stroke-width="0.9"/>
<text x="282.41" y="531.80" font-size="10.8" fill="#585858" text-anchor="middle">-0.3</text>
<line x1="309.44" x2="309.44" y1="520.6" y2="522.6" stroke="#999" stroke-width="0.9"/>
<text x="309.44" y="531.80" font-size="10.8" fill="#585858" text-anchor="middle">-0.2</text>
<line x1="336.47" x2="336.47" y1="520.6" y2="522.6" stroke="#999" stroke-width="0.9"/>
<text x="336.47" y="531.80" font-size="10.8" fill="#585858" text-anchor="middle">-0.1</text>
<line x1="363.50" x2="363.50" y1="520.6" y2="522.6" stroke="#999" stroke-width="0.9"/>
<text x="363.50" y="531.80" font-size="10.8" fill="#585858" text-anchor="middle">0.0</text>
<line x1="390.53" x2="390.53" y1="520.6" y2="522.6" stroke="#999" stroke-width="0.9"/>
<text x="390.53" y="531.80" font-size="10.8" fill="#585858" text-anchor="middle">0.1</text>
<line x1="417.56" x2="417.56" y1="520.6" y2="522.6" stroke="#999" stroke-width="0.9"/>
<text x="417.56" y="531.80" font-size="10.8" fill="#585858" text-anchor="middle">0.2</text>
<line x1="444.59" x2="444.59" y1="520.6" y2="522.6" stroke="#999" stroke-width="0.9"/>
<text x="444.59" y="531.80" font-size="10.8" fill="#585858" text-anchor="middle">0.3</text>
<line x1="471.62" x2="471.62" y1="520.6" y2="522.6" stroke="#999" stroke-width="0.9"/>
<text x="471.62" y="531.80" font-size="10.8" fill="#585858" text-anchor="middle">0.4</text>
<text x="371" y="544.7" font-size="13.3" fill="#222" text-anchor="middle">SHAP value</text>
<text x="453.8" y="494.5" font-size="19" fill="#222">(d)</text>
<rect x="485.2" y="10.2" width="3" height="240.3" fill="url(#cb)"/>
<text x="490.5" y="18.5" font-size="14.6" fill="#222">High</text>
<text x="490.5" y="256.7" font-size="14.6" fill="#222">Low</text>
<text transform="translate(523 131.9) rotate(-90)" font-size="14.8" fill="#222" text-anchor="middle">Feature value</text>
<rect x="486.5" y="281" width="3" height="238.5" fill="url(#cb)"/>
<text x="490.5" y="286" font-size="14.6" fill="#222">High</text>
<text x="490.5" y="527.9" font-size="14.6" fill="#222">Low</text>
<text transform="translate(523 403.5) rotate(-90)" font-size="14.8" fill="#222" text-anchor="middle">Feature value</text>
</svg></body></html>
